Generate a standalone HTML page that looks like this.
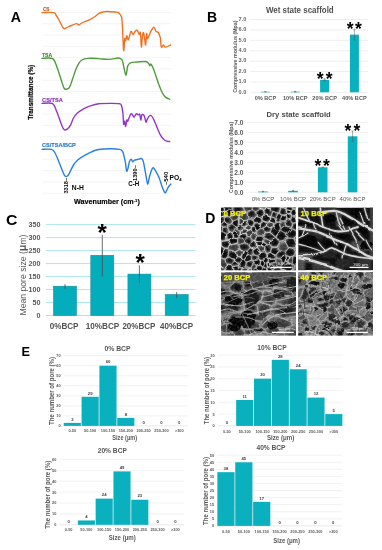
<!DOCTYPE html>
<html><head><meta charset="utf-8"><style>
html,body{margin:0;padding:0;background:#fff;}
svg{display:block;}
</style></head><body>
<svg width="382" height="550" viewBox="0 0 382 550">
<rect width="382" height="550" fill="#fff"/>
<text x="10.8" y="21.8" font-size="14.2" fill="#000" font-weight="bold" text-anchor="start" font-family="Liberation Sans, sans-serif" >A</text>
<line x1="42" y1="12.4" x2="171" y2="12.4" stroke="#ececec" stroke-width="0.6"/>
<line x1="42" y1="23.7" x2="171" y2="23.7" stroke="#ececec" stroke-width="0.6"/>
<line x1="42" y1="35" x2="171" y2="35" stroke="#ececec" stroke-width="0.6"/>
<line x1="42" y1="46.3" x2="171" y2="46.3" stroke="#ececec" stroke-width="0.6"/>
<line x1="42" y1="57.6" x2="171" y2="57.6" stroke="#ececec" stroke-width="0.6"/>
<line x1="42" y1="68.9" x2="171" y2="68.9" stroke="#ececec" stroke-width="0.6"/>
<line x1="42" y1="80.2" x2="171" y2="80.2" stroke="#ececec" stroke-width="0.6"/>
<line x1="42" y1="91.5" x2="171" y2="91.5" stroke="#ececec" stroke-width="0.6"/>
<line x1="42" y1="102.8" x2="171" y2="102.8" stroke="#ececec" stroke-width="0.6"/>
<line x1="42" y1="114.1" x2="171" y2="114.1" stroke="#ececec" stroke-width="0.6"/>
<line x1="42" y1="125.4" x2="171" y2="125.4" stroke="#ececec" stroke-width="0.6"/>
<line x1="42" y1="136.7" x2="171" y2="136.7" stroke="#ececec" stroke-width="0.6"/>
<line x1="42" y1="148" x2="171" y2="148" stroke="#ececec" stroke-width="0.6"/>
<line x1="42" y1="159.3" x2="171" y2="159.3" stroke="#ececec" stroke-width="0.6"/>
<line x1="42" y1="170.6" x2="171" y2="170.6" stroke="#ececec" stroke-width="0.6"/>
<line x1="42" y1="181.9" x2="171" y2="181.9" stroke="#ececec" stroke-width="0.6"/>
<line x1="42" y1="193.2" x2="171" y2="193.2" stroke="#ececec" stroke-width="0.6"/>
<path d="M42,12.6 C43.93,12.6 51.27,12.2 53.6,12.6 C55.93,13 55.1,13.77 56,15 C56.9,16.23 58,18.17 59,20 C60,21.83 61.17,24.55 62,26 C62.83,27.45 63.17,28.45 64,28.7 C64.83,28.95 65.77,28.03 67,27.5 C68.23,26.97 69.8,26.13 71.4,25.5 C73,24.87 75.38,23.77 76.6,23.7 C77.82,23.63 77.97,25.13 78.7,25.1 C79.43,25.07 80.12,24.02 81,23.5 C81.88,22.98 82.45,22.7 84,22 C85.55,21.3 88.47,20.22 90.3,19.3 C92.13,18.38 93.62,17.45 95,16.5 C96.38,15.55 97.27,14.35 98.6,13.6 C99.93,12.85 101.6,12.35 103,12 C104.4,11.65 104.93,11.5 107,11.5 C109.07,11.5 113.5,11.82 115.4,12 C117.3,12.18 117.48,11.98 118.4,12.6 C119.32,13.22 120.28,14.3 120.9,15.7 C121.52,17.1 121.65,15.23 122.1,21 C122.55,26.77 123.17,47.35 123.6,50.3 C124.03,53.25 124.35,40.28 124.7,38.7 C125.05,37.12 125.35,41.32 125.7,40.8 C126.05,40.28 126.35,35.77 126.8,35.6 C127.25,35.43 127.72,40.5 128.4,39.8 C129.08,39.1 130.13,32.27 130.9,31.4 C131.67,30.53 132.3,34.6 133,34.6 C133.7,34.6 134.4,32.1 135.1,31.4 C135.8,30.7 136.5,29.87 137.2,30.4 C137.9,30.93 138.77,34.25 139.3,34.6 C139.83,34.95 140.05,30.42 140.4,32.5 C140.75,34.58 141.05,46.58 141.4,47.1 C141.75,47.62 142.15,38.03 142.5,35.6 C142.85,33.17 143.15,31.98 143.5,32.5 C143.85,33.02 144.25,36.62 144.6,38.7 C144.95,40.78 145.27,45.87 145.6,45 C145.93,44.13 146.25,34.55 146.6,33.5 C146.95,32.45 147,39.05 147.7,38.7 C148.4,38.35 149.75,33.32 150.8,31.4 C151.85,29.48 153.13,27.2 154,27.2 C154.87,27.2 155.3,30.52 156,31.4 C156.7,32.28 157.48,31.45 158.2,32.5 C158.92,33.55 159.78,35.27 160.3,37.7 C160.82,40.13 160.78,45.88 161.3,47.1 C161.82,48.32 162.7,45 163.4,45 C164.1,45 164.28,47.1 165.5,47.1 C166.72,47.1 169.83,45.35 170.7,45" fill="none" stroke="#f07020" stroke-width="1.35" stroke-linejoin="round" stroke-linecap="round" />
<path d="M42,58.4 C43.77,58.43 50.13,57.2 52.6,58.6 C55.07,60 55.4,63.35 56.8,66.8 C58.2,70.25 59.8,75.75 61,79.3 C62.2,82.85 63.13,86.45 64,88.1 C64.87,89.75 65.32,89.27 66.2,89.2 C67.08,89.13 68.25,89.35 69.3,87.7 C70.35,86.05 71.45,82.27 72.5,79.3 C73.55,76.33 74.57,72.52 75.6,69.9 C76.63,67.28 77.65,65.25 78.7,63.6 C79.75,61.95 80.32,60.87 81.9,60 C83.48,59.13 85.42,58.63 88.2,58.4 C90.98,58.17 95.13,58.43 98.6,58.6 C102.07,58.77 105.7,59.5 109,59.4 C112.3,59.3 116.22,57.9 118.4,58 C120.58,58.1 121.13,58.2 122.1,60 C123.07,61.8 123.53,66.28 124.2,68.8 C124.87,71.32 125.5,75.62 126.1,75.1 C126.7,74.58 126.98,67.78 127.8,65.7 C128.62,63.62 129.43,63.22 131,62.6 C132.57,61.98 134.77,62.18 137.2,62 C139.63,61.82 143.68,61.23 145.6,61.5 C147.52,61.77 148,62.9 148.7,63.6 C149.4,64.3 149.45,65.6 149.8,65.7 C150.15,65.8 150.27,63.85 150.8,64.2 C151.33,64.55 152.13,65.8 153,67.8 C153.87,69.8 154.97,73.23 156,76.2 C157.03,79.17 158.13,82.8 159.2,85.6 C160.27,88.4 161.35,91.08 162.4,93 C163.45,94.92 164.28,96.07 165.5,97.1 C166.72,98.13 169,98.85 169.7,99.2" fill="none" stroke="#4f9a3c" stroke-width="1.4" stroke-linejoin="round" stroke-linecap="round" />
<path d="M42,103.4 C43.77,103.43 50.13,102.2 52.6,103.6 C55.07,105 55.4,108.52 56.8,111.8 C58.2,115.08 59.8,120.33 61,123.3 C62.2,126.27 62.97,128.63 64,129.6 C65.03,130.57 66.13,129.8 67.2,129.1 C68.27,128.4 69.35,127.25 70.4,125.4 C71.45,123.55 72.28,120.1 73.5,118 C74.72,115.9 75.95,114.37 77.7,112.8 C79.45,111.23 81.9,109.75 84,108.6 C86.1,107.45 87.87,106.7 90.3,105.9 C92.73,105.1 95.12,104.22 98.6,103.8 C102.08,103.38 107.73,103.4 111.2,103.4 C114.67,103.4 117.68,103.45 119.4,103.8 C121.12,104.15 120.9,103.83 121.5,105.5 C122.1,107.17 122.65,110.67 123,113.8 C123.35,116.93 123.32,123.07 123.6,124.3 C123.88,125.53 124.35,120.85 124.7,121.2 C125.05,121.55 125.35,126.58 125.7,126.4 C126.05,126.22 126.45,120.97 126.8,120.1 C127.15,119.23 127.47,121.47 127.8,121.2 C128.13,120.93 128.27,119.73 128.8,118.5 C129.33,117.27 130.37,114.4 131,113.8 C131.63,113.2 132.08,114.37 132.6,114.9 C133.12,115.43 133.5,117.18 134.1,117 C134.7,116.82 135.5,114.15 136.2,113.8 C136.9,113.45 137.72,114.82 138.3,114.9 C138.88,114.98 139.28,113.43 139.7,114.3 C140.12,115.17 140.45,120 140.8,120.1 C141.15,120.2 141.35,115.77 141.8,114.9 C142.25,114.03 143.03,114.55 143.5,114.9 C143.97,115.25 144.18,115.78 144.6,117 C145.02,118.22 145.55,121.85 146,122.2 C146.45,122.55 146.67,120.22 147.3,119.1 C147.93,117.98 149.03,115.95 149.8,115.5 C150.57,115.05 151.2,115.63 151.9,116.4 C152.6,117.17 153.13,118.25 154,120.1 C154.87,121.95 156.05,125.05 157.1,127.5 C158.15,129.95 159.25,132.88 160.3,134.8 C161.35,136.72 162.37,137.95 163.4,139 C164.43,140.05 165.45,140.68 166.5,141.1 C167.55,141.52 169.17,141.43 169.7,141.5" fill="none" stroke="#9436c6" stroke-width="1.4" stroke-linejoin="round" stroke-linecap="round" />
<path d="M42,149.4 C43.58,149.4 49.33,148.8 51.5,149.4 C53.67,150 53.75,150.9 55,153 C56.25,155.1 57.75,159 59,162 C60.25,165 61.5,168.67 62.5,171 C63.5,173.33 64.17,175.17 65,176 C65.83,176.83 66.67,176.67 67.5,176 C68.33,175.33 69,173.83 70,172 C71,170.17 72.22,167 73.5,165 C74.78,163 75.62,161.72 77.7,160 C79.78,158.28 82.87,156.37 86,154.7 C89.13,153.03 92.67,150.98 96.5,150 C100.33,149.02 105.18,148.9 109,148.8 C112.82,148.7 117.13,148.95 119.4,149.4 C121.67,149.85 121.8,150.27 122.6,151.5 C123.4,152.73 123.68,154.7 124.2,156.8 C124.72,158.9 125.3,161.7 125.7,164.1 C126.1,166.5 126.22,170.5 126.6,171.2 C126.98,171.9 127.52,169.92 128,168.3 C128.48,166.68 128.97,163 129.5,161.5 C130.03,160 130.65,159.23 131.2,159.3 C131.75,159.37 132.25,161.75 132.8,161.9 C133.35,162.05 133.73,160.6 134.5,160.2 C135.27,159.8 136.28,159.78 137.4,159.5 C138.52,159.22 140.27,158.35 141.2,158.5 C142.13,158.65 142.42,158.77 143,160.4 C143.58,162.03 144.1,165.15 144.7,168.3 C145.3,171.45 146.07,176.68 146.6,179.3 C147.13,181.92 147.45,184.3 147.9,184 C148.35,183.7 148.75,179.65 149.3,177.5 C149.85,175.35 150.65,172.68 151.2,171.1 C151.75,169.52 152.15,168.47 152.6,168 C153.05,167.53 153.22,167.48 153.9,168.3 C154.58,169.12 155.78,171.22 156.7,172.9 C157.62,174.58 158.5,176.1 159.4,178.4 C160.3,180.7 161.17,184.3 162.1,186.7 C163.03,189.1 164.23,192.2 165,192.8 C165.77,193.4 166.1,191.32 166.7,190.3 C167.3,189.28 167.92,187.75 168.6,186.7 C169.28,185.65 170.43,184.45 170.8,184" fill="none" stroke="#2a80dc" stroke-width="1.4" stroke-linejoin="round" stroke-linecap="round" />
<text x="42.9" y="11" font-size="5.9" fill="#c55a11" font-weight="bold" text-anchor="start" font-family="Liberation Sans, sans-serif" textLength="6.6" lengthAdjust="spacingAndGlyphs" stroke="#c55a11" stroke-width="0.15">CS</text>
<text x="42" y="56.6" font-size="5.9" fill="#3e8a2e" font-weight="bold" text-anchor="start" font-family="Liberation Sans, sans-serif" textLength="10.2" lengthAdjust="spacingAndGlyphs" stroke="#3e8a2e" stroke-width="0.15">TSA</text>
<text x="42.1" y="102.3" font-size="5.9" fill="#7f2fb0" font-weight="bold" text-anchor="start" font-family="Liberation Sans, sans-serif" textLength="20.6" lengthAdjust="spacingAndGlyphs" stroke="#7f2fb0" stroke-width="0.15">CS/TSA</text>
<text x="42" y="147.4" font-size="6.2" fill="#2a78c9" font-weight="bold" text-anchor="start" font-family="Liberation Sans, sans-serif" textLength="33.8" lengthAdjust="spacingAndGlyphs" stroke="#2a78c9" stroke-width="0.15">CS/TSA/BCP</text>
<text x="33" y="92.3" font-size="7.2" fill="#000" font-weight="bold" text-anchor="middle" font-family="Liberation Sans, sans-serif" textLength="55" lengthAdjust="spacingAndGlyphs" transform="rotate(-90 33 92.3)" stroke="#000" stroke-width="0.2">Transmittance (%)</text>
<text x="74" y="204.4" font-size="7.2" fill="#000" font-weight="bold" text-anchor="start" font-family="Liberation Sans, sans-serif" stroke="#000" stroke-width="0.15">Wavenumber (cm<tspan font-size="4.2" dy="-2.5">-1</tspan><tspan dy="2.5">)</tspan></text>
<text x="67.8" y="193.6" font-size="5.2" fill="#000" font-weight="bold" text-anchor="start" font-family="Liberation Sans, sans-serif" textLength="15.7" lengthAdjust="spacingAndGlyphs" transform="rotate(-90 67.8 193.6)" >3318–</text>
<text x="71.8" y="190" font-size="6.6" fill="#000" font-weight="bold" text-anchor="start" font-family="Liberation Sans, sans-serif" textLength="12" lengthAdjust="spacingAndGlyphs" >N-H</text>
<text x="137.1" y="180.9" font-size="5.2" fill="#000" font-weight="bold" text-anchor="start" font-family="Liberation Sans, sans-serif" textLength="15.7" lengthAdjust="spacingAndGlyphs" transform="rotate(-90 137.1 180.9)" >1390–</text>
<text x="128.2" y="185.9" font-size="6.3" fill="#000" font-weight="bold" text-anchor="start" font-family="Liberation Sans, sans-serif" textLength="11" lengthAdjust="spacingAndGlyphs" >C-H</text>
<text x="167.8" y="185" font-size="5.2" fill="#000" font-weight="bold" text-anchor="start" font-family="Liberation Sans, sans-serif" textLength="13.2" lengthAdjust="spacingAndGlyphs" transform="rotate(-90 167.8 185)" >–540</text>
<text x="169.6" y="179.8" font-size="6.7" fill="#000" font-weight="bold" text-anchor="start" font-family="Liberation Sans, sans-serif" >PO<tspan font-size="4.2" dy="1.4">4</tspan></text>
<text x="207" y="21.6" font-size="14.0" fill="#000" font-weight="bold" text-anchor="start" font-family="Liberation Sans, sans-serif" >B</text>
<line x1="250" y1="92.3" x2="368.3" y2="92.3" stroke="#e2e2e2" stroke-width="0.6"/>
<text x="246.4" y="93.64" font-size="5.6" fill="#666" font-weight="bold" text-anchor="end" font-family="Liberation Sans, sans-serif" >0.0</text>
<line x1="250" y1="81.91" x2="368.3" y2="81.91" stroke="#e2e2e2" stroke-width="0.6"/>
<text x="246.4" y="83.25" font-size="5.6" fill="#666" font-weight="bold" text-anchor="end" font-family="Liberation Sans, sans-serif" >1.0</text>
<line x1="250" y1="71.52" x2="368.3" y2="71.52" stroke="#e2e2e2" stroke-width="0.6"/>
<text x="246.4" y="72.86" font-size="5.6" fill="#666" font-weight="bold" text-anchor="end" font-family="Liberation Sans, sans-serif" >2.0</text>
<line x1="250" y1="61.13" x2="368.3" y2="61.13" stroke="#e2e2e2" stroke-width="0.6"/>
<text x="246.4" y="62.47" font-size="5.6" fill="#666" font-weight="bold" text-anchor="end" font-family="Liberation Sans, sans-serif" >3.0</text>
<line x1="250" y1="50.74" x2="368.3" y2="50.74" stroke="#e2e2e2" stroke-width="0.6"/>
<text x="246.4" y="52.08" font-size="5.6" fill="#666" font-weight="bold" text-anchor="end" font-family="Liberation Sans, sans-serif" >4.0</text>
<line x1="250" y1="40.35" x2="368.3" y2="40.35" stroke="#e2e2e2" stroke-width="0.6"/>
<text x="246.4" y="41.69" font-size="5.6" fill="#666" font-weight="bold" text-anchor="end" font-family="Liberation Sans, sans-serif" >5.0</text>
<line x1="250" y1="29.96" x2="368.3" y2="29.96" stroke="#e2e2e2" stroke-width="0.6"/>
<text x="246.4" y="31.3" font-size="5.6" fill="#666" font-weight="bold" text-anchor="end" font-family="Liberation Sans, sans-serif" >6.0</text>
<line x1="250" y1="19.57" x2="368.3" y2="19.57" stroke="#e2e2e2" stroke-width="0.6"/>
<text x="246.4" y="20.91" font-size="5.6" fill="#666" font-weight="bold" text-anchor="end" font-family="Liberation Sans, sans-serif" >7.0</text>
<rect x="260.9" y="91.78" width="9" height="0.52" fill="#0bb0bf" />
<line x1="265.4" y1="91.57" x2="265.4" y2="91.99" stroke="#555" stroke-width="0.5"/>
<line x1="264.4" y1="91.57" x2="266.4" y2="91.57" stroke="#555" stroke-width="0.5"/>
<line x1="264.4" y1="91.99" x2="266.4" y2="91.99" stroke="#555" stroke-width="0.5"/>
<rect x="290.7" y="91.68" width="9" height="0.62" fill="#0bb0bf" />
<line x1="295.2" y1="91.36" x2="295.2" y2="91.99" stroke="#555" stroke-width="0.5"/>
<line x1="294.2" y1="91.36" x2="296.2" y2="91.36" stroke="#555" stroke-width="0.5"/>
<line x1="294.2" y1="91.99" x2="296.2" y2="91.99" stroke="#555" stroke-width="0.5"/>
<rect x="320.1" y="79.83" width="9" height="12.47" fill="#0bb0bf" />
<line x1="324.6" y1="78.79" x2="324.6" y2="80.87" stroke="#555" stroke-width="0.5"/>
<line x1="323.6" y1="78.79" x2="325.6" y2="78.79" stroke="#555" stroke-width="0.5"/>
<line x1="323.6" y1="80.87" x2="325.6" y2="80.87" stroke="#555" stroke-width="0.5"/>
<rect x="349.9" y="34.64" width="9" height="57.66" fill="#0bb0bf" />
<line x1="354.4" y1="29.44" x2="354.4" y2="39.83" stroke="#555" stroke-width="0.5"/>
<line x1="353.4" y1="29.44" x2="355.4" y2="29.44" stroke="#555" stroke-width="0.5"/>
<line x1="353.4" y1="39.83" x2="355.4" y2="39.83" stroke="#555" stroke-width="0.5"/>
<text x="299.8" y="13.3" font-size="8.6" fill="#505050" font-weight="bold" text-anchor="middle" font-family="Liberation Sans, sans-serif" textLength="67.8" lengthAdjust="spacingAndGlyphs" >Wet state scaffold</text>
<text x="237.4" y="56.6" font-size="5.6" fill="#595959" font-weight="bold" text-anchor="middle" font-family="Liberation Sans, sans-serif" textLength="72.2" lengthAdjust="spacingAndGlyphs" transform="rotate(-90 237.4 56.6)" >Compressive modulus (Mpa)</text>
<text x="320.1" y="84.55" font-size="17.5" fill="#000" font-weight="bold" text-anchor="middle" font-family="Liberation Sans, sans-serif" >*</text>
<text x="329.2" y="84.55" font-size="17.5" fill="#000" font-weight="bold" text-anchor="middle" font-family="Liberation Sans, sans-serif" >*</text>
<text x="350.1" y="34.85" font-size="17.5" fill="#000" font-weight="bold" text-anchor="middle" font-family="Liberation Sans, sans-serif" >*</text>
<text x="358.5" y="34.85" font-size="17.5" fill="#000" font-weight="bold" text-anchor="middle" font-family="Liberation Sans, sans-serif" >*</text>
<text x="265.4" y="100.2" font-size="5.6" fill="#595959" font-weight="bold" text-anchor="middle" font-family="Liberation Sans, sans-serif" >0% BCP</text>
<text x="295.2" y="100.2" font-size="5.6" fill="#595959" font-weight="bold" text-anchor="middle" font-family="Liberation Sans, sans-serif" >10% BCP</text>
<text x="324.6" y="100.2" font-size="5.6" fill="#595959" font-weight="bold" text-anchor="middle" font-family="Liberation Sans, sans-serif" >20% BCP</text>
<text x="354.4" y="100.2" font-size="5.6" fill="#595959" font-weight="bold" text-anchor="middle" font-family="Liberation Sans, sans-serif" >40% BCP</text>
<line x1="247" y1="192.3" x2="367.9" y2="192.3" stroke="#e2e2e2" stroke-width="0.6"/>
<text x="243.4" y="194.68" font-size="6.6" fill="#595959" font-weight="bold" text-anchor="end" font-family="Liberation Sans, sans-serif" >0.0</text>
<line x1="247" y1="182.3" x2="367.9" y2="182.3" stroke="#e2e2e2" stroke-width="0.6"/>
<text x="243.4" y="184.68" font-size="6.6" fill="#595959" font-weight="bold" text-anchor="end" font-family="Liberation Sans, sans-serif" >1.0</text>
<line x1="247" y1="172.3" x2="367.9" y2="172.3" stroke="#e2e2e2" stroke-width="0.6"/>
<text x="243.4" y="174.68" font-size="6.6" fill="#595959" font-weight="bold" text-anchor="end" font-family="Liberation Sans, sans-serif" >2.0</text>
<line x1="247" y1="162.3" x2="367.9" y2="162.3" stroke="#e2e2e2" stroke-width="0.6"/>
<text x="243.4" y="164.68" font-size="6.6" fill="#595959" font-weight="bold" text-anchor="end" font-family="Liberation Sans, sans-serif" >3.0</text>
<line x1="247" y1="152.3" x2="367.9" y2="152.3" stroke="#e2e2e2" stroke-width="0.6"/>
<text x="243.4" y="154.68" font-size="6.6" fill="#595959" font-weight="bold" text-anchor="end" font-family="Liberation Sans, sans-serif" >4.0</text>
<line x1="247" y1="142.3" x2="367.9" y2="142.3" stroke="#e2e2e2" stroke-width="0.6"/>
<text x="243.4" y="144.68" font-size="6.6" fill="#595959" font-weight="bold" text-anchor="end" font-family="Liberation Sans, sans-serif" >5.0</text>
<line x1="247" y1="132.3" x2="367.9" y2="132.3" stroke="#e2e2e2" stroke-width="0.6"/>
<text x="243.4" y="134.68" font-size="6.6" fill="#595959" font-weight="bold" text-anchor="end" font-family="Liberation Sans, sans-serif" >6.0</text>
<line x1="247" y1="122.3" x2="367.9" y2="122.3" stroke="#e2e2e2" stroke-width="0.6"/>
<text x="243.4" y="124.68" font-size="6.6" fill="#595959" font-weight="bold" text-anchor="end" font-family="Liberation Sans, sans-serif" >7.0</text>
<rect x="258.2" y="191.5" width="9.6" height="0.8" fill="#0bb0bf" />
<line x1="263" y1="191.2" x2="263" y2="191.8" stroke="#555" stroke-width="0.5"/>
<line x1="262" y1="191.2" x2="264" y2="191.2" stroke="#555" stroke-width="0.5"/>
<line x1="262" y1="191.8" x2="264" y2="191.8" stroke="#555" stroke-width="0.5"/>
<rect x="288.2" y="190.8" width="9.6" height="1.5" fill="#0bb0bf" />
<line x1="293" y1="190.4" x2="293" y2="191.2" stroke="#555" stroke-width="0.5"/>
<line x1="292" y1="190.4" x2="294" y2="190.4" stroke="#555" stroke-width="0.5"/>
<line x1="292" y1="191.2" x2="294" y2="191.2" stroke="#555" stroke-width="0.5"/>
<rect x="317.9" y="167.3" width="9.6" height="25" fill="#0bb0bf" />
<line x1="322.7" y1="167" x2="322.7" y2="167.6" stroke="#555" stroke-width="0.5"/>
<line x1="321.7" y1="167" x2="323.7" y2="167" stroke="#555" stroke-width="0.5"/>
<line x1="321.7" y1="167.6" x2="323.7" y2="167.6" stroke="#555" stroke-width="0.5"/>
<rect x="347.8" y="136.3" width="9.6" height="56" fill="#0bb0bf" />
<line x1="352.6" y1="131.1" x2="352.6" y2="141.5" stroke="#555" stroke-width="0.5"/>
<line x1="351.6" y1="131.1" x2="353.6" y2="131.1" stroke="#555" stroke-width="0.5"/>
<line x1="351.6" y1="141.5" x2="353.6" y2="141.5" stroke="#555" stroke-width="0.5"/>
<text x="298.7" y="117.4" font-size="8.0" fill="#4a4a4a" font-weight="bold" text-anchor="middle" font-family="Liberation Sans, sans-serif" textLength="64.2" lengthAdjust="spacingAndGlyphs" >Dry state scaffold</text>
<text x="233.3" y="157.4" font-size="5.8" fill="#595959" font-weight="bold" text-anchor="middle" font-family="Liberation Sans, sans-serif" textLength="71.2" lengthAdjust="spacingAndGlyphs" transform="rotate(-90 233.3 157.4)" >Compressive modulus (Mpa)</text>
<text x="318" y="172.15" font-size="17.5" fill="#000" font-weight="bold" text-anchor="middle" font-family="Liberation Sans, sans-serif" >*</text>
<text x="326.5" y="172.15" font-size="17.5" fill="#000" font-weight="bold" text-anchor="middle" font-family="Liberation Sans, sans-serif" >*</text>
<text x="347.9" y="137.15" font-size="17.5" fill="#000" font-weight="bold" text-anchor="middle" font-family="Liberation Sans, sans-serif" >*</text>
<text x="356.8" y="137.15" font-size="17.5" fill="#000" font-weight="bold" text-anchor="middle" font-family="Liberation Sans, sans-serif" >*</text>
<text x="263" y="200.8" font-size="6.0" fill="#595959" font-weight="normal" text-anchor="middle" font-family="Liberation Sans, sans-serif" >0% BCP</text>
<text x="293" y="200.8" font-size="6.0" fill="#595959" font-weight="normal" text-anchor="middle" font-family="Liberation Sans, sans-serif" >10% BCP</text>
<text x="322.7" y="200.8" font-size="6.0" fill="#595959" font-weight="normal" text-anchor="middle" font-family="Liberation Sans, sans-serif" >20% BCP</text>
<text x="352.6" y="200.8" font-size="6.0" fill="#595959" font-weight="normal" text-anchor="middle" font-family="Liberation Sans, sans-serif" >40% BCP</text>
<text x="5.9" y="224.7" font-size="13.8" fill="#000" font-weight="bold" text-anchor="start" font-family="Liberation Sans, sans-serif" textLength="11.4" lengthAdjust="spacingAndGlyphs" >C</text>
<line x1="45.8" y1="302.51" x2="195.5" y2="302.51" stroke="#a6e3ea" stroke-width="0.9"/>
<line x1="45.8" y1="289.52" x2="195.5" y2="289.52" stroke="#a6e3ea" stroke-width="0.9"/>
<line x1="45.8" y1="276.53" x2="195.5" y2="276.53" stroke="#a6e3ea" stroke-width="0.9"/>
<line x1="45.8" y1="263.54" x2="195.5" y2="263.54" stroke="#a6e3ea" stroke-width="0.9"/>
<line x1="45.8" y1="250.55" x2="195.5" y2="250.55" stroke="#a6e3ea" stroke-width="0.9"/>
<line x1="45.8" y1="237.56" x2="195.5" y2="237.56" stroke="#a6e3ea" stroke-width="0.9"/>
<line x1="45.8" y1="224.57" x2="195.5" y2="224.57" stroke="#a6e3ea" stroke-width="0.9"/>
<line x1="45.8" y1="315.5" x2="195.5" y2="315.5" stroke="#d0d0d0" stroke-width="0.9"/>
<text x="40.4" y="318.1" font-size="7.2" fill="#595959" font-weight="bold" text-anchor="end" font-family="Liberation Sans, sans-serif" >0</text>
<text x="40.4" y="305.11" font-size="7.2" fill="#595959" font-weight="bold" text-anchor="end" font-family="Liberation Sans, sans-serif" >50</text>
<text x="40.4" y="292.12" font-size="7.2" fill="#595959" font-weight="bold" text-anchor="end" font-family="Liberation Sans, sans-serif" >100</text>
<text x="40.4" y="279.13" font-size="7.2" fill="#595959" font-weight="bold" text-anchor="end" font-family="Liberation Sans, sans-serif" >150</text>
<text x="40.4" y="266.14" font-size="7.2" fill="#595959" font-weight="bold" text-anchor="end" font-family="Liberation Sans, sans-serif" >200</text>
<text x="40.4" y="253.15" font-size="7.2" fill="#595959" font-weight="bold" text-anchor="end" font-family="Liberation Sans, sans-serif" >250</text>
<text x="40.4" y="240.16" font-size="7.2" fill="#595959" font-weight="bold" text-anchor="end" font-family="Liberation Sans, sans-serif" >300</text>
<text x="40.4" y="227.17" font-size="7.2" fill="#595959" font-weight="bold" text-anchor="end" font-family="Liberation Sans, sans-serif" >350</text>
<text x="26.3" y="275" font-size="8.4" fill="#595959" font-weight="normal" text-anchor="middle" font-family="Liberation Sans, sans-serif" textLength="81" lengthAdjust="spacingAndGlyphs" transform="rotate(-90 26.3 275)" >Mean pore size (<tspan font-weight="bold" font-size="10.5">μ</tspan>m)</text>
<rect x="53.5" y="286.19" width="23" height="29.31" fill="#04adbc" stroke="#178f9a" stroke-width="0.6"/>
<line x1="65" y1="284.1" x2="65" y2="288.8" stroke="#4a4a4a" stroke-width="0.8"/>
<rect x="90.8" y="255.3" width="23" height="60.2" fill="#04adbc" stroke="#178f9a" stroke-width="0.6"/>
<line x1="102.3" y1="234.8" x2="102.3" y2="276.6" stroke="#4a4a4a" stroke-width="0.8"/>
<rect x="127.9" y="274.11" width="23" height="41.39" fill="#04adbc" stroke="#178f9a" stroke-width="0.6"/>
<line x1="139.4" y1="265.3" x2="139.4" y2="282.9" stroke="#4a4a4a" stroke-width="0.8"/>
<rect x="165.2" y="294.51" width="23" height="20.99" fill="#04adbc" stroke="#178f9a" stroke-width="0.6"/>
<line x1="176.7" y1="292" x2="176.7" y2="298" stroke="#4a4a4a" stroke-width="0.8"/>
<text x="102.1" y="240.9" font-size="24" fill="#000" font-weight="bold" text-anchor="middle" font-family="Liberation Sans, sans-serif" >*</text>
<text x="140.2" y="271.3" font-size="24" fill="#000" font-weight="bold" text-anchor="middle" font-family="Liberation Sans, sans-serif" >*</text>
<text x="64.1" y="329.4" font-size="8.6" fill="#505050" font-weight="bold" text-anchor="middle" font-family="Liberation Sans, sans-serif" textLength="28.8" lengthAdjust="spacingAndGlyphs" >0%BCP</text>
<text x="102.5" y="329.4" font-size="8.6" fill="#505050" font-weight="bold" text-anchor="middle" font-family="Liberation Sans, sans-serif" textLength="33.6" lengthAdjust="spacingAndGlyphs" >10%BCP</text>
<text x="138.9" y="329.4" font-size="8.6" fill="#505050" font-weight="bold" text-anchor="middle" font-family="Liberation Sans, sans-serif" textLength="33" lengthAdjust="spacingAndGlyphs" >20%BCP</text>
<text x="176.6" y="329.4" font-size="8.6" fill="#505050" font-weight="bold" text-anchor="middle" font-family="Liberation Sans, sans-serif" textLength="33" lengthAdjust="spacingAndGlyphs" >40%BCP</text>
<text x="205.3" y="222.9" font-size="14.0" fill="#000" font-weight="bold" text-anchor="start" font-family="Liberation Sans, sans-serif" >D</text>
<defs>
<clipPath id="clip_tl"><rect x="221" y="207.5" width="75" height="62.8"/></clipPath>
<clipPath id="clip_tr"><rect x="298.2" y="207.5" width="74.8" height="62.8"/></clipPath>
<clipPath id="clip_bl"><rect x="221" y="272.3" width="75" height="63.2"/></clipPath>
<clipPath id="clip_br"><rect x="298.2" y="272.3" width="74.8" height="63.2"/></clipPath>
<filter id="b03" x="-5%" y="-5%" width="110%" height="110%"><feGaussianBlur stdDeviation="0.3"/></filter>
<filter id="b05" x="-10%" y="-10%" width="120%" height="120%"><feGaussianBlur stdDeviation="0.5"/></filter>
<filter id="b10" x="-30%" y="-30%" width="160%" height="160%"><feGaussianBlur stdDeviation="1.0"/></filter>
<filter id="b20" x="-50%" y="-50%" width="200%" height="200%"><feGaussianBlur stdDeviation="2.0"/></filter>
<filter id="noiseD" x="0" y="0" width="100%" height="100%" color-interpolation-filters="sRGB"><feTurbulence type="fractalNoise" baseFrequency="0.45" numOctaves="2" seed="4"/><feColorMatrix type="matrix" values="0 0 0 0 0  0 0 0 0 0  0 0 0 0 0  1.6 0 0 0 -0.75" /></filter>
<filter id="noiseL" x="0" y="0" width="100%" height="100%" color-interpolation-filters="sRGB"><feTurbulence type="fractalNoise" baseFrequency="0.45" numOctaves="2" seed="11"/><feColorMatrix type="matrix" values="0 0 0 0 1  0 0 0 0 1  0 0 0 0 1  1.6 0 0 0 -0.75" /></filter>
<filter id="warpA" x="-5%" y="-5%" width="110%" height="110%" color-interpolation-filters="sRGB"><feTurbulence type="fractalNoise" baseFrequency="0.09" numOctaves="2" seed="3" result="n"/><feDisplacementMap in="SourceGraphic" in2="n" scale="4" xChannelSelector="R" yChannelSelector="G" result="d"/><feGaussianBlur in="d" stdDeviation="0.3"/></filter>
<filter id="warpB" x="-5%" y="-5%" width="110%" height="110%" color-interpolation-filters="sRGB"><feTurbulence type="fractalNoise" baseFrequency="0.05" numOctaves="2" seed="8" result="n"/><feDisplacementMap in="SourceGraphic" in2="n" scale="3" xChannelSelector="R" yChannelSelector="G" result="d"/><feGaussianBlur in="d" stdDeviation="0.3"/></filter>
<filter id="warpC" x="-5%" y="-5%" width="110%" height="110%" color-interpolation-filters="sRGB"><feTurbulence type="fractalNoise" baseFrequency="0.08" numOctaves="2" seed="5" result="n"/><feDisplacementMap in="SourceGraphic" in2="n" scale="6" xChannelSelector="R" yChannelSelector="G" result="d"/><feGaussianBlur in="d" stdDeviation="0.3"/></filter>
<filter id="warpD" x="-5%" y="-5%" width="110%" height="110%" color-interpolation-filters="sRGB"><feTurbulence type="fractalNoise" baseFrequency="0.1" numOctaves="2" seed="12" result="n"/><feDisplacementMap in="SourceGraphic" in2="n" scale="5" xChannelSelector="R" yChannelSelector="G" result="d"/><feGaussianBlur in="d" stdDeviation="0.3"/></filter>
<filter id="pore" x="-20%" y="-20%" width="140%" height="140%" color-interpolation-filters="sRGB"><feTurbulence type="fractalNoise" baseFrequency="0.15" numOctaves="1" seed="17" result="n"/><feDisplacementMap in="SourceGraphic" in2="n" scale="5" xChannelSelector="R" yChannelSelector="G" result="d"/><feGaussianBlur in="d" stdDeviation="0.6"/></filter>
<radialGradient id="rgA" cx="0.5" cy="0.5" r="0.6"><stop offset="0" stop-color="#050505"/><stop offset="0.45" stop-color="#151515"/><stop offset="0.8" stop-color="#5a5a5a"/><stop offset="1" stop-color="#9a9a9a"/></radialGradient>
<radialGradient id="rgB" cx="0.45" cy="0.45" r="0.6"><stop offset="0" stop-color="#0a0a0a"/><stop offset="0.3" stop-color="#1a1a1a"/><stop offset="0.75" stop-color="#6a6a6a"/><stop offset="1" stop-color="#a8a8a8"/></radialGradient>
<radialGradient id="rgC" cx="0.55" cy="0.55" r="0.6"><stop offset="0" stop-color="#303030"/><stop offset="0.5" stop-color="#4a4a4a"/><stop offset="1" stop-color="#909090"/></radialGradient>
</defs>
<g clip-path="url(#clip_tl)">
<rect x="221" y="207.5" width="75" height="62.8" fill="#333" />
<g filter="url(#warpA)">
<polygon points="231.7,224.54 232.85,220.9 230.61,216.57 224.83,216.59 223.9,221.31 230.02,224.7" fill="url(#rgB)" stroke="rgb(231,231,231)" stroke-width="0.8" stroke-linejoin="round"/>
<polygon points="232.7,208.07 233.39,211.13 230.59,216.7 224.81,216.67 224.86,215.59 224.05,213.71" fill="url(#rgA)" stroke="rgb(207,207,207)" stroke-width="0.77" stroke-linejoin="round"/>
<polygon points="300,205.47 296.38,198.99 297.41,188.67 297.64,187.68 309.11,186.52 320.87,192.46 308.47,205.1" fill="url(#rgB)" stroke="rgb(220,220,220)" stroke-width="0.62" stroke-linejoin="round"/>
<polygon points="253.73,222.57 252.84,220.36 256.63,216.04 261.67,218.48 261.38,220.68 260.73,222.78" fill="url(#rgA)" stroke="rgb(193,193,193)" stroke-width="0.6" stroke-linejoin="round"/>
<polygon points="274.67,223.73 269.06,221.56 267.69,222.57 266.9,225.47 270.41,227.87 274.67,226.79" fill="url(#rgC)" stroke="rgb(218,218,218)" stroke-width="0.81" stroke-linejoin="round"/>
<polygon points="285.9,242.02 288.37,248.02 284.7,251.91 279.3,250.86 278.21,247.5 280.12,242.48" fill="url(#rgC)" stroke="rgb(176,176,176)" stroke-width="0.77" stroke-linejoin="round"/>
<polygon points="253.85,263.46 255.78,265.47 260.2,263.85 260.68,259 258.98,258.4 252.68,262.4" fill="url(#rgA)" stroke="rgb(227,227,227)" stroke-width="0.61" stroke-linejoin="round"/>
<polygon points="239.1,244.94 239.17,249.2 234.95,251.87 229.74,250.64 228.29,249.53 230.84,244.74 236.79,243.46" fill="url(#rgC)" stroke="rgb(176,176,176)" stroke-width="0.77" stroke-linejoin="round"/>
<polygon points="232.51,208.4 223.74,213.35 224.11,213.33 224.52,207.52 229.93,203.81 232.36,206.91" fill="url(#rgA)" stroke="rgb(175,175,175)" stroke-width="0.73" stroke-linejoin="round"/>
<polygon points="206.44,271.12 206.66,271.12 204.58,287.41 221.15,289.69 222.08,288.2 223.14,286.74 221.7,273.87 213.38,271.14" fill="url(#rgA)" stroke="rgb(215,215,215)" stroke-width="0.61" stroke-linejoin="round"/>
<polygon points="280.66,258.95 285.89,254.43 285.29,252.61 279.92,250.91 275.67,255.7 275.94,257.9" fill="url(#rgB)" stroke="rgb(173,173,173)" stroke-width="0.67" stroke-linejoin="round"/>
<polygon points="255.6,240.52 257.8,234.18 255.86,232.83 251.88,233.66 250.22,237.25 252.22,240.63 255.76,241.38" fill="url(#rgC)" stroke="rgb(213,213,213)" stroke-width="0.74" stroke-linejoin="round"/>
<polygon points="224.77,249.53 219.95,257.77 226.03,259.15 228.56,256.72 230.42,251.12 229.11,249.37" fill="url(#rgA)" stroke="rgb(170,170,170)" stroke-width="0.81" stroke-linejoin="round"/>
<polygon points="288.05,237.1 293.41,237.64 296.32,244.35 293.28,248.24 288.42,247.42 285.22,241.58" fill="url(#rgA)" stroke="rgb(234,234,234)" stroke-width="0.65" stroke-linejoin="round"/>
<polygon points="232.74,208.16 233.07,211.4 239.39,214.73 245.12,211.26 240.35,203.64 231.94,206.59" fill="url(#rgB)" stroke="rgb(205,205,205)" stroke-width="0.7" stroke-linejoin="round"/>
<polygon points="253.76,254.31 250.77,256.07 247.53,255.33 245.66,251.54 249.08,247.7 252.75,249.47" fill="url(#rgB)" stroke="rgb(181,181,181)" stroke-width="0.66" stroke-linejoin="round"/>
<polygon points="275.24,260.86 274.72,258.62 269.72,259.28 269.17,262.06 270.79,264.15 271.38,263.76" fill="url(#rgA)" stroke="rgb(203,203,203)" stroke-width="0.68" stroke-linejoin="round"/>
<polygon points="271.95,210.62 270.01,217.27 269.08,216.65 263.98,214.69 263.63,210.03 268.2,206.79 270.68,206.96" fill="url(#rgB)" stroke="rgb(228,228,228)" stroke-width="0.84" stroke-linejoin="round"/>
<polygon points="277.48,201.26 267.11,189.72 261.57,194.05 267.66,207.15 271.09,207.65" fill="url(#rgA)" stroke="rgb(230,230,230)" stroke-width="0.83" stroke-linejoin="round"/>
<polygon points="232.8,275.56 235.68,276.76 236.64,280.75 222.45,288.01 222.67,286.51 227.82,277.62" fill="url(#rgA)" stroke="rgb(171,171,171)" stroke-width="0.64" stroke-linejoin="round"/>
<polygon points="241.75,267.95 239.47,266.67 236.09,270.47 237.37,273.83 241.68,272.75" fill="url(#rgB)" stroke="rgb(195,195,195)" stroke-width="0.62" stroke-linejoin="round"/>
<polygon points="226.92,263.54 225.57,260.08 229.05,256.81 234.61,259.18 234.84,260.9 231.34,265.13" fill="url(#rgB)" stroke="rgb(231,231,231)" stroke-width="0.71" stroke-linejoin="round"/>
<polygon points="246.42,262.86 243.68,259.63 243.23,259.62 237.91,263.73 238.51,266.3 238.78,266.52 242.64,268.31 245.7,267.09" fill="url(#rgA)" stroke="rgb(181,181,181)" stroke-width="0.71" stroke-linejoin="round"/>
<polygon points="224.55,207.77 219.59,206.31 216.66,210.18 224.07,212.45" fill="url(#rgA)" stroke="rgb(204,204,204)" stroke-width="0.74" stroke-linejoin="round"/>
<polygon points="224.14,268.57 220.49,266.38 218.89,261.94 219.52,257.73 220.25,257.85 225.67,259.06 227.59,264.28" fill="url(#rgC)" stroke="rgb(204,204,204)" stroke-width="0.92" stroke-linejoin="round"/>
<polygon points="228.18,227.71 221.88,228.49 221.95,231.62 227.21,234.09 229.66,232.11" fill="url(#rgB)" stroke="rgb(204,204,204)" stroke-width="0.68" stroke-linejoin="round"/>
<polygon points="230.88,271.08 232.78,269.98 232.64,266.64 231.46,264.53 227.03,264.27 224.61,268.1 224.68,269.7 227.13,270.39" fill="url(#rgA)" stroke="rgb(212,212,212)" stroke-width="0.79" stroke-linejoin="round"/>
<polygon points="277.95,212.86 271.84,211.52 270.2,207.85 276.46,201.6 276.98,201.79 280.43,208.89 279.02,213.35" fill="url(#rgA)" stroke="rgb(207,207,207)" stroke-width="0.82" stroke-linejoin="round"/>
<polygon points="282.86,264.77 286.52,263.17 286.13,254.95 284.82,255.22 280.26,259.55" fill="url(#rgA)" stroke="rgb(222,222,222)" stroke-width="0.75" stroke-linejoin="round"/>
<polygon points="213.14,244.15 204.89,248.75 201.13,243.48 209.87,234.45 214.89,241.72" fill="url(#rgC)" stroke="rgb(200,200,200)" stroke-width="0.89" stroke-linejoin="round"/>
<polygon points="266.67,262.68 265.02,262.79 263.71,259.19 266.94,256.69 269.4,259.21 268.98,261.9" fill="url(#rgA)" stroke="rgb(174,174,174)" stroke-width="0.83" stroke-linejoin="round"/>
<polygon points="279.74,231.19 273.76,226.29 270.48,228.04 270.05,231.95 274.95,236.56 275.29,237.15" fill="url(#rgA)" stroke="rgb(203,203,203)" stroke-width="0.97" stroke-linejoin="round"/>
<polygon points="238.73,225.78 238.61,219.31 238.44,218.49 233.05,221.13 231.61,224.4 236.36,227.91 236.45,226.91" fill="url(#rgA)" stroke="rgb(204,204,204)" stroke-width="0.64" stroke-linejoin="round"/>
<polygon points="289.86,257 285.96,255.32 286.89,263.14 287.92,262.99" fill="url(#rgB)" stroke="rgb(204,204,204)" stroke-width="0.75" stroke-linejoin="round"/>
<polygon points="296.55,221.58 292.47,222.09 291.53,227.15 291.87,228.32 296.86,229.85 300.8,225.46 298.83,221.47" fill="url(#rgB)" stroke="rgb(225,225,225)" stroke-width="0.85" stroke-linejoin="round"/>
<polygon points="303.69,260.54 308.74,266.02 307.55,275.48 293,266.54 293.62,266.15 298.25,260.55" fill="url(#rgA)" stroke="rgb(177,177,177)" stroke-width="0.7" stroke-linejoin="round"/>
<polygon points="246.72,211.59 247.84,218.03 253.37,219.63 256.64,216.42 256.16,210.91 250.59,209.67" fill="url(#rgB)" stroke="rgb(224,224,224)" stroke-width="0.63" stroke-linejoin="round"/>
<polygon points="319.69,226.67 326.2,242.44 321.07,246.52 309.17,239.12 307.07,231.51 308.95,229.07" fill="url(#rgC)" stroke="rgb(197,197,197)" stroke-width="0.88" stroke-linejoin="round"/>
<polygon points="246.41,210.75 245.52,210.29 240.58,203.39 244.2,189.67 254.26,194.56 251.01,208.9" fill="url(#rgA)" stroke="rgb(184,184,184)" stroke-width="0.86" stroke-linejoin="round"/>
<polygon points="286.12,213.67 291.47,213.98 291.15,210.96 286.63,209.58" fill="url(#rgB)" stroke="rgb(220,220,220)" stroke-width="0.77" stroke-linejoin="round"/>
<polygon points="259.35,271.41 261.62,265.9 262.28,265.9 265.99,268.93 265.5,273.01 262.61,273.99" fill="url(#rgA)" stroke="rgb(206,206,206)" stroke-width="0.94" stroke-linejoin="round"/>
<polygon points="287.1,225.97 282.25,229.15 280.67,230.78 286.59,235.04 292.24,227.64 291.24,226.85" fill="url(#rgA)" stroke="rgb(175,175,175)" stroke-width="0.73" stroke-linejoin="round"/>
<polygon points="255.62,210.89 260.14,209.9 263.96,210.2 264,215.66 261.61,218.12 256.51,216.7" fill="url(#rgA)" stroke="rgb(217,217,217)" stroke-width="0.73" stroke-linejoin="round"/>
<polygon points="213.68,245.05 217.77,248.09 222.59,246.79 221.22,241.62 214.14,241.2" fill="url(#rgB)" stroke="rgb(194,194,194)" stroke-width="0.81" stroke-linejoin="round"/>
<polygon points="217.19,248.38 215.66,253.61 219.66,257.65 219.05,258.05 219.89,258.19 224.72,249.59 222.17,247.56" fill="url(#rgA)" stroke="rgb(204,204,204)" stroke-width="0.81" stroke-linejoin="round"/>
<polygon points="232.39,274.99 236.13,277.05 237.01,273.44 236.08,270.6 232.83,270.04 231.37,271.26" fill="url(#rgA)" stroke="rgb(223,223,223)" stroke-width="0.86" stroke-linejoin="round"/>
<polygon points="320.06,248.76 319.16,258.83 309.47,266.55 304.25,260.27 304.32,252.33 305.99,251.33" fill="url(#rgB)" stroke="rgb(206,206,206)" stroke-width="0.78" stroke-linejoin="round"/>
<polygon points="276.19,221.82 275.03,223.81 269.39,221.51 269.29,216.67 270.03,216.57 274.87,218.97" fill="url(#rgA)" stroke="rgb(224,224,224)" stroke-width="0.8" stroke-linejoin="round"/>
<polygon points="267.63,244.46 263.18,241.25 263.35,240.48 264.84,236.95 270.43,239.66 269.72,244.31" fill="url(#rgC)" stroke="rgb(170,170,170)" stroke-width="0.73" stroke-linejoin="round"/>
<polygon points="266.91,253.42 267.41,256.26 269.13,259.41 274.48,258.92 276.57,257.84 275.87,255.07 270.41,252.26" fill="url(#rgA)" stroke="rgb(221,221,221)" stroke-width="0.85" stroke-linejoin="round"/>
<polygon points="288.82,262.83 286.89,262.21 282.41,264.92 281.93,268.17 281.54,269.02 289.53,271.68 293.48,265.96 293.51,266.45 292.38,264.59" fill="url(#rgA)" stroke="rgb(178,178,178)" stroke-width="0.95" stroke-linejoin="round"/>
<polygon points="298.47,208.45 301.21,211.51 306.2,211.35 308.7,205.79 299.93,206.24" fill="url(#rgC)" stroke="rgb(201,201,201)" stroke-width="0.95" stroke-linejoin="round"/>
<polygon points="301.25,243.73 305.32,250.44 304.69,252.28 295.41,252.73 293.9,247.98 296.53,244.37" fill="url(#rgC)" stroke="rgb(217,217,217)" stroke-width="0.63" stroke-linejoin="round"/>
<polygon points="288.75,271.26 308.47,284.68 308.8,284.21 302.97,287.37 287.68,278.13" fill="url(#rgC)" stroke="rgb(211,211,211)" stroke-width="0.75" stroke-linejoin="round"/>
<polygon points="224.99,216.89 224.21,216.12 213.74,217.51 211.99,221.83 220.58,225.12 224.31,221.89" fill="url(#rgA)" stroke="rgb(217,217,217)" stroke-width="0.67" stroke-linejoin="round"/>
<polygon points="238.7,219.06 239.11,219.22 239.59,214.59 245.48,211.1 246.36,211.08 247.98,218.5 245.95,220.75 244.08,221.36" fill="url(#rgC)" stroke="rgb(186,186,186)" stroke-width="0.94" stroke-linejoin="round"/>
<polygon points="190.01,223.93 207.85,227.69 210.75,232.89 210.57,234.18 201.07,244 185.77,238.48" fill="url(#rgB)" stroke="rgb(221,221,221)" stroke-width="0.69" stroke-linejoin="round"/>
<polygon points="264.52,247.97 260.58,245.07 262.81,241.51 267.59,245.49" fill="url(#rgA)" stroke="rgb(228,228,228)" stroke-width="0.8" stroke-linejoin="round"/>
<polygon points="213.37,244.87 204.71,249.18 205.23,252.85 215.58,253.09 217.26,248.8" fill="url(#rgA)" stroke="rgb(172,172,172)" stroke-width="0.98" stroke-linejoin="round"/>
<polygon points="228.16,277.2 222.83,286.86 220.9,273.76 224.68,269.45 227.64,271.06" fill="url(#rgA)" stroke="rgb(185,185,185)" stroke-width="0.67" stroke-linejoin="round"/>
<polygon points="247.99,254.61 243.64,260.21 243.15,260.36 241.36,257.49 243.16,251.71 245.92,250.92" fill="url(#rgA)" stroke="rgb(193,193,193)" stroke-width="0.92" stroke-linejoin="round"/>
<polygon points="236.83,238.39 237.53,243.14 230.52,244.84 228.37,240.61 232.44,236.46" fill="url(#rgA)" stroke="rgb(228,228,228)" stroke-width="0.9" stroke-linejoin="round"/>
<polygon points="290.64,219.4 287.12,219.4 285.61,221.73 287.18,226.13 290.86,227.41 293.03,222.69" fill="url(#rgB)" stroke="rgb(218,218,218)" stroke-width="0.71" stroke-linejoin="round"/>
<polygon points="244.21,227.11 247.42,225.11 246.65,220.17 243.14,220.62 241.52,225.64" fill="url(#rgB)" stroke="rgb(197,197,197)" stroke-width="0.98" stroke-linejoin="round"/>
<polygon points="277.64,267.07 274.44,261.61 271.63,264.29 274.86,267.34" fill="url(#rgC)" stroke="rgb(171,171,171)" stroke-width="0.88" stroke-linejoin="round"/>
<polygon points="250.8,209.5 253.56,193.78 257.66,194.98 260.14,209.31 255.76,211.56" fill="url(#rgA)" stroke="rgb(170,170,170)" stroke-width="0.67" stroke-linejoin="round"/>
<polygon points="263.24,209.99 267.51,207.61 261.76,193.11 257.11,195.07 259.99,209.41" fill="url(#rgC)" stroke="rgb(233,233,233)" stroke-width="0.97" stroke-linejoin="round"/>
<polygon points="302.15,218.25 306.48,218.7 308.98,216.02 306.26,211.09 301.28,212.13 300.28,214.91" fill="url(#rgA)" stroke="rgb(214,214,214)" stroke-width="0.76" stroke-linejoin="round"/>
<polygon points="295.88,251.71 304.74,252.57 303.6,260.38 298.88,260.49 295,255.5" fill="url(#rgB)" stroke="rgb(191,191,191)" stroke-width="0.95" stroke-linejoin="round"/>
<polygon points="222.54,228.77 221.02,225.01 212.66,222.16 208.6,227.52 210.21,233.38 219.98,233.7 221.96,231.7" fill="url(#rgA)" stroke="rgb(178,178,178)" stroke-width="0.75" stroke-linejoin="round"/>
<polygon points="295.7,215.63 291.68,216 290.53,213.73 291.71,210.59 293.72,208.95 295.18,209.21 296.73,214.88" fill="url(#rgA)" stroke="rgb(221,221,221)" stroke-width="0.7" stroke-linejoin="round"/>
<polygon points="242.49,225.87 244.01,220.84 238.77,218.56 238.97,225.93" fill="url(#rgC)" stroke="rgb(220,220,220)" stroke-width="0.97" stroke-linejoin="round"/>
<polygon points="219.12,205.25 219.89,196.37 209.17,187.54 207.38,190.62 206.42,207.44 211.1,211.53 216.38,210.16" fill="url(#rgA)" stroke="rgb(190,190,190)" stroke-width="0.75" stroke-linejoin="round"/>
<polygon points="246.98,236.36 250.54,236.64 252.52,233.1 249.64,230.65 247.02,230.72 245.09,233.25" fill="url(#rgC)" stroke="rgb(207,207,207)" stroke-width="0.72" stroke-linejoin="round"/>
<polygon points="256.08,268.59 259.12,271.68 259.95,271.35 262.07,265.94 259.6,264.38 256.46,265.15" fill="url(#rgA)" stroke="rgb(192,192,192)" stroke-width="0.74" stroke-linejoin="round"/>
<polygon points="306.37,226.22 308.52,228.77 307.57,231.2 299.98,234.79 298.2,233.45 296.23,229.87 300,226.14" fill="url(#rgB)" stroke="rgb(175,175,175)" stroke-width="0.89" stroke-linejoin="round"/>
<polygon points="247.17,236.42 244.4,240.04 239.82,235.58 240.89,233.35 245.77,233.34" fill="url(#rgA)" stroke="rgb(226,226,226)" stroke-width="0.93" stroke-linejoin="round"/>
<polygon points="297.21,221.05 292.84,222.08 290.51,219.92 292.28,216.1 294.93,215.76" fill="url(#rgA)" stroke="rgb(172,172,172)" stroke-width="0.91" stroke-linejoin="round"/>
<polygon points="289.43,271.87 294.06,266.6 307.87,275.42 308.93,284.94 288.49,271.99" fill="url(#rgA)" stroke="rgb(192,192,192)" stroke-width="0.73" stroke-linejoin="round"/>
<polygon points="263.93,251.23 259.96,252.61 257.63,255.41 258.8,257.91 259.87,259.4 263.89,259.5 267.23,256.58 266.94,254" fill="url(#rgA)" stroke="rgb(227,227,227)" stroke-width="0.84" stroke-linejoin="round"/>
<polygon points="253.79,262.92 256.3,265.68 256.2,267.86 252.34,269.98 250.35,268.97" fill="url(#rgC)" stroke="rgb(195,195,195)" stroke-width="0.66" stroke-linejoin="round"/>
<polygon points="286.28,209.4 285.27,209.25 288.13,205.12 292.02,205.31 293.96,208.59 290.98,210.8" fill="url(#rgA)" stroke="rgb(221,221,221)" stroke-width="0.69" stroke-linejoin="round"/>
<polygon points="262.43,274.65 266.38,272.46 271.07,273.45 276.05,282.14 277.08,283.02 276.34,283.52 269.44,287.85 261.11,282.39" fill="url(#rgC)" stroke="rgb(226,226,226)" stroke-width="0.69" stroke-linejoin="round"/>
<polygon points="256.42,232.6 252.37,233.45 250.14,230.3 250.3,227.03 252.95,226.11 256.49,229.26" fill="url(#rgB)" stroke="rgb(198,198,198)" stroke-width="0.99" stroke-linejoin="round"/>
<polygon points="287.17,278.1 302.75,287.93 292.36,296.89 276.09,283.38 276.07,283.96" fill="url(#rgA)" stroke="rgb(186,186,186)" stroke-width="0.93" stroke-linejoin="round"/>
<polygon points="221.73,231.15 219.44,233.25 221.81,239.77 226.7,239.63 226.75,234.43" fill="url(#rgA)" stroke="rgb(181,181,181)" stroke-width="0.62" stroke-linejoin="round"/>
<polygon points="256.25,247.88 256.91,246.26 255.94,240.54 252.29,240.06 248.2,244.87 248.75,247.28 253.08,249.29" fill="url(#rgB)" stroke="rgb(229,229,229)" stroke-width="0.89" stroke-linejoin="round"/>
<polygon points="279.88,221.76 279.86,222.55 281.63,228.7 280.65,230.9 279.84,231.8 274.78,226.97 275.16,223.53 276.99,222.36" fill="url(#rgA)" stroke="rgb(177,177,177)" stroke-width="0.86" stroke-linejoin="round"/>
<polygon points="244.14,229.12 241.29,230.07 236.53,227.97 239.03,226.3 242.14,225.27 243.77,227.99" fill="url(#rgB)" stroke="rgb(190,190,190)" stroke-width="0.95" stroke-linejoin="round"/>
<polygon points="244.01,228.74 246.96,231.19 249.69,230.42 250.42,226.42 247.34,224.67 244.67,227.51" fill="url(#rgC)" stroke="rgb(216,216,216)" stroke-width="0.97" stroke-linejoin="round"/>
<polygon points="296.53,221.04 294.99,215.04 295.91,214.32 300.26,213.91 301.78,217.45 298.05,222.16" fill="url(#rgA)" stroke="rgb(217,217,217)" stroke-width="0.93" stroke-linejoin="round"/>
<polygon points="251.83,261.33 251.34,255.87 248.3,255.44 243.85,260.26 245.92,263.05" fill="url(#rgA)" stroke="rgb(203,203,203)" stroke-width="0.75" stroke-linejoin="round"/>
<polygon points="223.88,268.83 220.56,266.32 212.61,271.1 220.81,273.76 224.13,269.16" fill="url(#rgB)" stroke="rgb(220,220,220)" stroke-width="0.77" stroke-linejoin="round"/>
<polygon points="263.74,242.29 262.68,240.05 255.67,240.75 256.56,240.8 257.24,245.38 260.46,245.89" fill="url(#rgA)" stroke="rgb(224,224,224)" stroke-width="0.72" stroke-linejoin="round"/>
<polygon points="293.05,208.19 292.73,205.32 296.17,198.97 300.41,206 298.57,207.71 295.41,208.96" fill="url(#rgB)" stroke="rgb(181,181,181)" stroke-width="0.88" stroke-linejoin="round"/>
<polygon points="301.35,243.45 305.59,251.09 319.57,248.49 321.14,246.35 309.04,239.49 302.32,241.04" fill="url(#rgB)" stroke="rgb(186,186,186)" stroke-width="0.78" stroke-linejoin="round"/>
<polygon points="280.54,207.97 286.23,208.58 287.22,204.59 287.46,203.68 279.89,200.73 277.8,201.14" fill="url(#rgB)" stroke="rgb(187,187,187)" stroke-width="0.76" stroke-linejoin="round"/>
<polygon points="286.61,219.63 284.54,216.45 282.35,216.14 279.42,221.74 280.79,222.19 285.8,221.96" fill="url(#rgA)" stroke="rgb(187,187,187)" stroke-width="0.91" stroke-linejoin="round"/>
<polygon points="279.36,222.07 282.1,215.49 278.57,213.11 278.27,213.72 275.32,218.39 276.08,222.05" fill="url(#rgA)" stroke="rgb(214,214,214)" stroke-width="0.64" stroke-linejoin="round"/>
<polygon points="280.71,231.03 287.29,234.58 287.46,237.27 284.95,241.16 279.64,242.36 275.86,237.25 279.72,231.81" fill="url(#rgA)" stroke="rgb(219,219,219)" stroke-width="0.64" stroke-linejoin="round"/>
<polygon points="298.44,221.49 300.58,225.41 306.52,226.71 306.7,218.77 302.16,218.36" fill="url(#rgB)" stroke="rgb(220,220,220)" stroke-width="0.63" stroke-linejoin="round"/>
<polygon points="252.69,279.17 246.06,276.05 245.76,277.15 241.47,281.69 245.08,295.28 246.97,296.09 254.28,282.58" fill="url(#rgC)" stroke="rgb(221,221,221)" stroke-width="0.81" stroke-linejoin="round"/>
<polygon points="229.13,257.46 234.66,259.6 236.93,256.48 235.01,251.77 229.62,251.21" fill="url(#rgA)" stroke="rgb(175,175,175)" stroke-width="0.88" stroke-linejoin="round"/>
<polygon points="231.63,206.78 239.89,202.91 243.99,189.15 242.02,187.27 227.5,198.29 229.09,204.27" fill="url(#rgA)" stroke="rgb(214,214,214)" stroke-width="0.84" stroke-linejoin="round"/>
<polygon points="246.03,266.6 241.75,267.68 241.83,273.26 245.4,276.87 246.26,277.09 249.26,269.59" fill="url(#rgA)" stroke="rgb(196,196,196)" stroke-width="0.88" stroke-linejoin="round"/>
<polygon points="286.25,234.77 292.06,227.7 297.08,230.33 297.64,234.02 293.45,238.43 288.12,238.18" fill="url(#rgA)" stroke="rgb(176,176,176)" stroke-width="0.91" stroke-linejoin="round"/>
<polygon points="207.14,271.47 206.99,270.57 204.46,266.18 218.63,257.72 219.36,258.34 218.68,262.38" fill="url(#rgC)" stroke="rgb(230,230,230)" stroke-width="0.78" stroke-linejoin="round"/>
<polygon points="252.47,261.64 258.81,257.61 258.61,256.4 252.92,254.84 251.46,255.88 251.37,261.23" fill="url(#rgB)" stroke="rgb(170,170,170)" stroke-width="0.85" stroke-linejoin="round"/>
<polygon points="290.56,257.07 286.31,255.58 285.87,254.82 284.89,252.75 289.19,247.52 293.05,248.4 295.45,251.9 294.27,254.7 292.72,256.49" fill="url(#rgA)" stroke="rgb(187,187,187)" stroke-width="0.98" stroke-linejoin="round"/>
<polygon points="232.96,266.4 239.12,266.17 238.87,263.12 234.46,260.99 231.01,264.78" fill="url(#rgB)" stroke="rgb(176,176,176)" stroke-width="0.65" stroke-linejoin="round"/>
<polygon points="207.37,271.21 218.77,262.31 221.63,266.95 213.34,270.72" fill="url(#rgA)" stroke="rgb(222,222,222)" stroke-width="0.83" stroke-linejoin="round"/>
<polygon points="231.85,232.37 232.38,237.22 237.1,237.57 239.31,236.07 234.94,230.16" fill="url(#rgA)" stroke="rgb(210,210,210)" stroke-width="0.9" stroke-linejoin="round"/>
<polygon points="214.09,241.67 209.89,234.39 210.42,232.6 219.88,233.34 221.49,239.78 221.67,240.96" fill="url(#rgA)" stroke="rgb(183,183,183)" stroke-width="0.79" stroke-linejoin="round"/>
<polygon points="292.98,205.53 296.79,197.82 297.11,188.18 294.81,188.6 287.32,203.88 288.29,204.5" fill="url(#rgA)" stroke="rgb(221,221,221)" stroke-width="0.72" stroke-linejoin="round"/>
<polygon points="229.32,225.56 224.12,221.35 220.54,224.8 222.96,228.45 227.9,227.61" fill="url(#rgB)" stroke="rgb(195,195,195)" stroke-width="0.97" stroke-linejoin="round"/>
<polygon points="232.3,274.86 230.85,270.74 226.96,271.14 228.2,277.41" fill="url(#rgC)" stroke="rgb(234,234,234)" stroke-width="0.61" stroke-linejoin="round"/>
<polygon points="290.05,219.42 286.55,220.15 284.98,216 286.31,213.99 291.5,213.85 291.42,215.98" fill="url(#rgA)" stroke="rgb(222,222,222)" stroke-width="0.83" stroke-linejoin="round"/>
<polygon points="290.12,256.79 288.92,262.17 292.82,264.36 292.59,256.13" fill="url(#rgC)" stroke="rgb(213,213,213)" stroke-width="0.72" stroke-linejoin="round"/>
<polygon points="268.18,267.53 266.32,262.59 264.75,262.93 263.31,266.23 265.65,268.57" fill="url(#rgB)" stroke="rgb(195,195,195)" stroke-width="0.61" stroke-linejoin="round"/>
<polygon points="300.57,214.65 301.43,211.86 298.9,208.02 295.29,208.88 296.69,214.09" fill="url(#rgA)" stroke="rgb(203,203,203)" stroke-width="0.82" stroke-linejoin="round"/>
<polygon points="215.36,253.29 204.82,252.12 201.79,262.07 203.94,265.86 219.31,257.82" fill="url(#rgA)" stroke="rgb(181,181,181)" stroke-width="0.62" stroke-linejoin="round"/>
<polygon points="240.94,230.74 240.52,233.51 239.92,235.61 239.43,235.6 234.63,230.59 235.53,227.74 236.51,227.48" fill="url(#rgC)" stroke="rgb(199,199,199)" stroke-width="0.66" stroke-linejoin="round"/>
<polygon points="292.9,256.6 295.15,255.52 298.63,260.32 293.9,265.83 291.98,265.26" fill="url(#rgA)" stroke="rgb(176,176,176)" stroke-width="0.64" stroke-linejoin="round"/>
<polygon points="278.27,267.18 281.6,267.57 282.5,269.33 276.98,281.42 270.96,273.66 272.42,269.85 275.12,268.32" fill="url(#rgA)" stroke="rgb(224,224,224)" stroke-width="0.76" stroke-linejoin="round"/>
<polygon points="224.56,213.66 224.08,216.21 213.31,217.95 212.01,211.72 216.58,209.88 224.37,212.73" fill="url(#rgA)" stroke="rgb(233,233,233)" stroke-width="0.89" stroke-linejoin="round"/>
<polygon points="263.91,228.23 267.26,225.44 271.6,228.74 269.98,232.04 265.67,233.16" fill="url(#rgB)" stroke="rgb(185,185,185)" stroke-width="0.8" stroke-linejoin="round"/>
<polygon points="257.86,255.87 253.47,254.03 252.79,249.53 256.17,247.39 259.97,252.76" fill="url(#rgA)" stroke="rgb(193,193,193)" stroke-width="0.66" stroke-linejoin="round"/>
<polygon points="275.58,218.86 270.08,216.66 272.1,211.15 277.67,213.06" fill="url(#rgB)" stroke="rgb(176,176,176)" stroke-width="0.88" stroke-linejoin="round"/>
<polygon points="232.88,269.16 232.22,267.15 238.59,265.47 238.73,266.78 235.73,270.49" fill="url(#rgA)" stroke="rgb(207,207,207)" stroke-width="0.72" stroke-linejoin="round"/>
<polygon points="213.03,222.51 207.71,226.79 190.93,224.04 189.01,217.33 206.06,207.51 211.62,211.55 212.87,217.07" fill="url(#rgB)" stroke="rgb(195,195,195)" stroke-width="0.62" stroke-linejoin="round"/>
<polygon points="261.89,265.77 262.79,266.06 264.74,263 263.64,258.9 260.98,259.58 260,264.64" fill="url(#rgA)" stroke="rgb(173,173,173)" stroke-width="0.99" stroke-linejoin="round"/>
<polygon points="247.59,224.88 246.06,220.37 247.55,219.14 253.6,220.42 254.03,223.37 253.11,226.03 250.11,226.6" fill="url(#rgA)" stroke="rgb(211,211,211)" stroke-width="0.67" stroke-linejoin="round"/>
<polygon points="298.05,234.2 294.1,237.89 297.05,244.34 300.78,243.22 303.13,241.05 300.16,235" fill="url(#rgC)" stroke="rgb(183,183,183)" stroke-width="0.84" stroke-linejoin="round"/>
<polygon points="251.53,270.49 254.09,274.57 259.64,272.1 255.93,268.19" fill="url(#rgA)" stroke="rgb(183,183,183)" stroke-width="0.75" stroke-linejoin="round"/>
<polygon points="246.79,236.71 250.56,237.19 252.29,240.1 248.76,244.28 243.99,242.45 243.92,240.05" fill="url(#rgB)" stroke="rgb(172,172,172)" stroke-width="0.64" stroke-linejoin="round"/>
<polygon points="269.87,252.3 275.56,255.17 279.27,250.22 277.34,247.58 271.4,247.69" fill="url(#rgA)" stroke="rgb(198,198,198)" stroke-width="0.75" stroke-linejoin="round"/>
<polygon points="257.31,230 253.79,225.7 254.37,223.2 259.95,222.65 261.25,227.41" fill="url(#rgA)" stroke="rgb(219,219,219)" stroke-width="0.66" stroke-linejoin="round"/>
<polygon points="299.56,235.19 307.24,231.25 309.69,239.04 303.38,241.47" fill="url(#rgB)" stroke="rgb(175,175,175)" stroke-width="0.84" stroke-linejoin="round"/>
<polygon points="286.99,203.76 280.31,200.1 289.35,188.26 294.58,188.61" fill="url(#rgC)" stroke="rgb(225,225,225)" stroke-width="0.61" stroke-linejoin="round"/>
<polygon points="262.96,240.94 255.9,240.31 258.12,234.94 264.38,235.28 264.95,236.64" fill="url(#rgA)" stroke="rgb(188,188,188)" stroke-width="0.77" stroke-linejoin="round"/>
<polygon points="230.32,231.81 226.62,234.59 227.23,239.28 229.01,239.74 232.28,236.57 232.18,232.19" fill="url(#rgA)" stroke="rgb(220,220,220)" stroke-width="0.92" stroke-linejoin="round"/>
<polygon points="267.27,222.11 262.08,220.64 262.01,218.24 264.52,214.84 269.47,217.65 269.52,221.82" fill="url(#rgA)" stroke="rgb(232,232,232)" stroke-width="0.72" stroke-linejoin="round"/>
<polygon points="286.84,213.58 284.39,216.11 282.25,216.01 279.5,212.83 280.73,208.54 285.4,209.04 286.2,208.62" fill="url(#rgB)" stroke="rgb(217,217,217)" stroke-width="0.76" stroke-linejoin="round"/>
<polygon points="286.63,225.83 282,229.19 279.89,222.05 285.51,222" fill="url(#rgC)" stroke="rgb(178,178,178)" stroke-width="0.76" stroke-linejoin="round"/>
<polygon points="307.32,218.52 308.96,216.17 321.52,217.29 319.29,226.31 308.69,228.67 306.7,226.39" fill="url(#rgB)" stroke="rgb(199,199,199)" stroke-width="0.76" stroke-linejoin="round"/>
<polygon points="231.95,223.76 236.56,227.15 234.89,230.85 231.89,232.61 229.91,231.56 228.8,228.18 229.07,224.72" fill="url(#rgB)" stroke="rgb(192,192,192)" stroke-width="0.75" stroke-linejoin="round"/>
<polygon points="253.61,263.33 250.18,268.61 248.9,269.24 245.71,266.37 246.46,263.26 252.01,261.17 252.88,261.59" fill="url(#rgB)" stroke="rgb(186,186,186)" stroke-width="0.84" stroke-linejoin="round"/>
<polygon points="249.53,269.55 251.86,269.42 254.19,274.16 252.23,278.86 246.75,276.14 249.25,268.75" fill="url(#rgC)" stroke="rgb(197,197,197)" stroke-width="0.89" stroke-linejoin="round"/>
<polygon points="241.32,272.98 236.92,273.19 236.26,276.2 237.3,281.05 241.58,282.26 245.18,276.88" fill="url(#rgC)" stroke="rgb(193,193,193)" stroke-width="0.92" stroke-linejoin="round"/>
<polygon points="243.69,228.48 246.97,230.75 245.52,233.59 241.12,233.8 241.66,230.76" fill="url(#rgC)" stroke="rgb(219,219,219)" stroke-width="0.92" stroke-linejoin="round"/>
<polygon points="259.4,271.42 254.74,274.37 252.61,279.58 254.57,282.47 261.78,281.64 263.38,274.54 260.18,271.81" fill="url(#rgB)" stroke="rgb(193,193,193)" stroke-width="0.61" stroke-linejoin="round"/>
<polygon points="263.49,248.63 260.53,245.65 257.3,245.59 256.29,247.4 260.55,252.26 264.34,251.76" fill="url(#rgC)" stroke="rgb(223,223,223)" stroke-width="0.9" stroke-linejoin="round"/>
<polygon points="241.59,282.6 245.2,295.85 228.83,298.72 221.64,289.83 222.3,288.01 236.98,280.28" fill="url(#rgA)" stroke="rgb(185,185,185)" stroke-width="0.64" stroke-linejoin="round"/>
<polygon points="229.14,204.15 227.35,198.47 219.71,195.99 219.86,206.29 223.98,208.12" fill="url(#rgA)" stroke="rgb(172,172,172)" stroke-width="0.86" stroke-linejoin="round"/>
<polygon points="240.89,257.71 236.4,256.03 234.81,259.76 234.21,260.67 238.8,264.05 242.75,260.21" fill="url(#rgB)" stroke="rgb(232,232,232)" stroke-width="0.72" stroke-linejoin="round"/>
<polygon points="221.57,247.16 224.37,248.76 228.74,249.45 230.83,244.89 228.88,240.04 227.35,239.66 221.95,240.41 221.16,241.24" fill="url(#rgA)" stroke="rgb(222,222,222)" stroke-width="0.78" stroke-linejoin="round"/>
<polygon points="239.13,235.83 238.83,235.39 237.47,238.18 237.29,243.06 239.46,245.35 244.56,242.85 244.55,239.97" fill="url(#rgC)" stroke="rgb(182,182,182)" stroke-width="0.88" stroke-linejoin="round"/>
<polygon points="277.29,266.63 281.8,267.6 282.59,264.21 281.06,259.86 275.53,257.44 275.04,258.14 274.61,261.47" fill="url(#rgC)" stroke="rgb(176,176,176)" stroke-width="0.79" stroke-linejoin="round"/>
<polygon points="272.57,269.52 269.09,267.48 268.04,267.42 266.31,268.39 266,272.94 271.46,274.48" fill="url(#rgA)" stroke="rgb(189,189,189)" stroke-width="0.99" stroke-linejoin="round"/>
<polygon points="319.55,258.73 336.3,276.55 316.81,287.34 309.14,284.54 309.11,284.87 306.97,275.51 308.73,266.5" fill="url(#rgA)" stroke="rgb(225,225,225)" stroke-width="0.82" stroke-linejoin="round"/>
<polygon points="261.93,227.59 259.93,222.78 262.23,221.06 267.41,222.84 267.56,226.11 262.8,228.62" fill="url(#rgB)" stroke="rgb(209,209,209)" stroke-width="0.9" stroke-linejoin="round"/>
<polygon points="257.73,234.66 264.04,234.87 265.62,233.43 263.49,228.39 260.8,227.03 256.78,230 256.51,233.16" fill="url(#rgC)" stroke="rgb(173,173,173)" stroke-width="0.98" stroke-linejoin="round"/>
<polygon points="272.17,246.89 277.27,247.05 279.5,242.17 275.63,236.99 275.65,237.13 270.78,240.08 269.79,244.95" fill="url(#rgA)" stroke="rgb(202,202,202)" stroke-width="0.95" stroke-linejoin="round"/>
<polygon points="277.05,200.93 280.12,200.18 288.94,188.89 273.27,179.41 268.19,190.03 276.53,201.82" fill="url(#rgC)" stroke="rgb(172,172,172)" stroke-width="0.77" stroke-linejoin="round"/>
<polygon points="275.01,267.83 272.31,269.53 268.82,266.64 271.24,264.16 270.99,264.14" fill="url(#rgB)" stroke="rgb(178,178,178)" stroke-width="0.61" stroke-linejoin="round"/>
<polygon points="263.89,248.28 268,244.43 269.36,244.24 271.87,246.68 270.54,252.23 266.96,253.53 263.39,251.67" fill="url(#rgB)" stroke="rgb(207,207,207)" stroke-width="0.69" stroke-linejoin="round"/>
<polygon points="271.41,240.3 275.4,236.64 269.98,232.48 264.89,232.71 263.81,235.09 264.11,236.67" fill="url(#rgB)" stroke="rgb(218,218,218)" stroke-width="0.74" stroke-linejoin="round"/>
<polygon points="244.1,242.94 239.37,245.38 239.83,249.04 242.87,251.93 246.32,250.95 249.48,247.8 248.16,245.4" fill="url(#rgB)" stroke="rgb(196,196,196)" stroke-width="0.74" stroke-linejoin="round"/>
<polygon points="288.56,271.73 282.56,269.48 276.72,281.16 276.97,282.84 287.85,279.02 288.47,271.52" fill="url(#rgA)" stroke="rgb(193,193,193)" stroke-width="0.87" stroke-linejoin="round"/>
<polygon points="269.27,266.71 270.96,263.65 269.15,262.19 266.94,263.15 267.51,267.19" fill="url(#rgA)" stroke="rgb(208,208,208)" stroke-width="0.98" stroke-linejoin="round"/>
<polygon points="240.86,256.97 242.78,251.83 239.81,249.39 234.99,252.06 236.97,256.63" fill="url(#rgC)" stroke="rgb(203,203,203)" stroke-width="0.98" stroke-linejoin="round"/>
<polygon points="229.56,217.46 233.73,211.27 238.91,214.89 238.12,219.03 233.23,221.02" fill="url(#rgC)" stroke="rgb(190,190,190)" stroke-width="0.62" stroke-linejoin="round"/>
</g>
<rect x="221" y="207.5" width="75" height="62.8" filter="url(#noiseD)" opacity="0.35"/>
<rect x="221" y="207.5" width="75" height="62.8" filter="url(#noiseL)" opacity="0.25"/>
</g>
<g clip-path="url(#clip_tr)">
<rect x="298.2" y="207.5" width="74.8" height="62.8" fill="#0e0e0e" />
<g filter="url(#b10)">
<rect x="298" y="207" width="38" height="9" fill="rgb(40,40,40)" />
<rect x="336" y="213" width="5" height="14" fill="rgb(76,76,76)" />
<rect x="370" y="207" width="5" height="51" fill="rgb(68,68,68)" />
<rect x="351" y="241" width="20" height="10" fill="rgb(76,76,76)" />
<rect x="298" y="253" width="14" height="9" fill="rgb(100,100,100)" />
<rect x="298" y="262" width="7" height="9" fill="rgb(84,84,84)" />
<rect x="308" y="233" width="15" height="7" fill="rgb(44,44,44)" />
<rect x="336" y="258" width="18" height="10" fill="rgb(40,40,40)" />
<rect x="322" y="250" width="14" height="8" fill="rgb(36,36,36)" />
<rect x="357" y="258" width="15" height="13" fill="rgb(48,48,48)" />
<rect x="312" y="262" width="18" height="9" fill="rgb(56,56,56)" />
<rect x="341" y="227" width="9" height="5" fill="rgb(48,48,48)" />
</g>
<g filter="url(#pore)">
<ellipse cx="329.5" cy="218.5" rx="6.5" ry="4.5" fill="rgb(5,5,5)"/>
<ellipse cx="303.5" cy="236" rx="4.5" ry="4" fill="rgb(5,5,5)"/>
<ellipse cx="347.5" cy="221" rx="5.5" ry="5" fill="rgb(5,5,5)"/>
<ellipse cx="357" cy="214" rx="7" ry="5" fill="rgb(5,5,5)"/>
<ellipse cx="363" cy="230.5" rx="6" ry="3.5" fill="rgb(5,5,5)"/>
<ellipse cx="342.5" cy="236" rx="5.5" ry="3" fill="rgb(5,5,5)"/>
<ellipse cx="342.5" cy="246.5" rx="5.5" ry="3.5" fill="rgb(5,5,5)"/>
<ellipse cx="309" cy="242" rx="9" ry="7" fill="rgb(5,5,5)"/>
<ellipse cx="304.5" cy="224.5" rx="5.5" ry="2.5" fill="rgb(5,5,5)"/>
<ellipse cx="317" cy="224" rx="5" ry="2" fill="rgb(5,5,5)"/>
<ellipse cx="328" cy="245.5" rx="6" ry="4.5" fill="rgb(5,5,5)"/>
<ellipse cx="366" cy="245" rx="6" ry="4" fill="rgb(5,5,5)"/>
</g>
<g filter="url(#warpB)">
<g filter="url(#b10)">
<path d="M296,217 C298.5,217.83 306.5,220.33 311,222 C315.5,223.67 318.83,225.5 323,227 C327.17,228.5 332.5,230.27 336,231 C339.5,231.73 341.5,231.57 344,231.4 C346.5,231.23 348.67,230.57 351,230 C353.33,229.43 356.83,228.33 358,228" fill="none" stroke="rgb(85,85,85)" stroke-width="2.8" stroke-linecap="round"/>
<path d="M296,228 C298,228.33 304.33,229.33 308,230 C311.67,230.67 314.83,231 318,232 C321.17,233 324,234.67 327,236 C330,237.33 332.83,238.67 336,240 C339.17,241.33 343.17,242.67 346,244 C348.83,245.33 350.5,246.67 353,248 C355.5,249.33 358.5,250.67 361,252 C363.5,253.33 365.5,255 368,256 C370.5,257 374.67,257.67 376,258" fill="none" stroke="rgb(85,85,85)" stroke-width="3.4" stroke-linecap="round"/>
<path d="M320,205 C320.17,206.5 320.67,211.33 321,214 C321.33,216.67 321.67,218.83 322,221 C322.33,223.17 322.83,226 323,227" fill="none" stroke="rgb(85,85,85)" stroke-width="2.4" stroke-linecap="round"/>
<path d="M323,212 C325.17,211.83 332.17,210.5 336,211 C339.83,211.5 342.67,213.33 346,215 C349.33,216.67 353,219.17 356,221 C359,222.83 361.5,224.5 364,226 C366.5,227.5 369,228.83 371,230 C373,231.17 375.17,232.5 376,233" fill="none" stroke="rgb(85,85,85)" stroke-width="3.4" stroke-linecap="round"/>
<path d="M296,256 C298.5,255.83 306.5,255.67 311,255 C315.5,254.33 319.67,253.17 323,252 C326.33,250.83 328.83,248.33 331,248 C333.17,247.67 334.17,249.17 336,250 C337.83,250.83 339.83,252.1 342,253 C344.17,253.9 346.33,254.73 349,255.4 C351.67,256.07 355.17,256.57 358,257 C360.83,257.43 363,257.67 366,258 C369,258.33 374.33,258.83 376,259" fill="none" stroke="rgb(85,85,85)" stroke-width="2.6" stroke-linecap="round"/>
<path d="M298,258 C300.5,258.5 308,259.67 313,261 C318,262.33 324.17,264.67 328,266 C331.83,267.33 333.17,268 336,269 C338.83,270 343.5,271.5 345,272" fill="none" stroke="rgb(85,85,85)" stroke-width="4" stroke-linecap="round"/>
<path d="M364,205 C364.33,206.33 365.33,210.5 366,213 C366.67,215.5 367.67,218.83 368,220" fill="none" stroke="rgb(85,85,85)" stroke-width="2" stroke-linecap="round"/>
<path d="M349,227 C349.5,228 350.83,230.83 352,233 C353.17,235.17 355.33,238.83 356,240" fill="none" stroke="rgb(85,85,85)" stroke-width="2" stroke-linecap="round"/>
<path d="M356,232 C356.67,232.67 358.67,234.67 360,236 C361.33,237.33 363.33,239.33 364,240" fill="none" stroke="rgb(85,85,85)" stroke-width="2" stroke-linecap="round"/>
<path d="M303,207 C303.5,208.17 304.83,211.5 306,214 C307.17,216.5 309.33,220.67 310,222" fill="none" stroke="rgb(85,85,85)" stroke-width="1.8" stroke-linecap="round"/>
<path d="M336,211 C336.33,212.5 337.17,217.33 338,220 C338.83,222.67 340,225.17 341,227 C342,228.83 343.5,230.33 344,231" fill="none" stroke="rgb(85,85,85)" stroke-width="2" stroke-linecap="round"/>
<path d="M298,244 C299.33,244.33 303.17,245.17 306,246 C308.83,246.83 312.17,248 315,249 C317.83,250 321.67,251.5 323,252" fill="none" stroke="rgb(85,85,85)" stroke-width="1.8" stroke-linecap="round"/>
<path d="M312,222 C312.33,223 313,226.33 314,228 C315,229.67 317.33,231.33 318,232" fill="none" stroke="rgb(85,85,85)" stroke-width="1.6" stroke-linecap="round"/>
<path d="M298,238 C298.83,237.67 301.33,236.83 303,236 C304.67,235.17 307.17,233.5 308,233" fill="none" stroke="rgb(85,85,85)" stroke-width="1.6" stroke-linecap="round"/>
<path d="M330,233 C330.5,234.17 332,238 333,240 C334,242 335.5,244.17 336,245" fill="none" stroke="rgb(85,85,85)" stroke-width="1.8" stroke-linecap="round"/>
<path d="M318,242 C318.67,242.83 320.67,245.5 322,247 C323.33,248.5 325.33,250.33 326,251" fill="none" stroke="rgb(85,85,85)" stroke-width="1.6" stroke-linecap="round"/>
<path d="M345,245 C344.67,246.17 343.5,249.83 343,252 C342.5,254.17 342.17,257 342,258" fill="none" stroke="rgb(85,85,85)" stroke-width="1.8" stroke-linecap="round"/>
<path d="M356,240 C356.17,241.17 356.5,245 357,247 C357.5,249 358.67,251.17 359,252" fill="none" stroke="rgb(85,85,85)" stroke-width="1.6" stroke-linecap="round"/>
<path d="M305,225 C304.67,226 303.67,229.17 303,231 C302.33,232.83 301.33,235.17 301,236" fill="none" stroke="rgb(85,85,85)" stroke-width="1.6" stroke-linecap="round"/>
<path d="M340,218 C340.5,219 342,222 343,224 C344,226 345.5,229 346,230" fill="none" stroke="rgb(85,85,85)" stroke-width="1.8" stroke-linecap="round"/>
<path d="M360,212 C360.33,213 361.33,216 362,218 C362.67,220 363.67,223 364,224" fill="none" stroke="rgb(85,85,85)" stroke-width="1.6" stroke-linecap="round"/>
<path d="M366,240 C366.5,241 368,244.33 369,246 C370,247.67 371.5,249.33 372,250" fill="none" stroke="rgb(85,85,85)" stroke-width="1.6" stroke-linecap="round"/>
</g>
<g filter="url(#b03)">
<path d="M296,217 C298.5,217.83 306.5,220.33 311,222 C315.5,223.67 318.83,225.5 323,227 C327.17,228.5 332.5,230.27 336,231 C339.5,231.73 341.5,231.57 344,231.4 C346.5,231.23 348.67,230.57 351,230 C353.33,229.43 356.83,228.33 358,228" fill="none" stroke="rgb(220,220,220)" stroke-width="1.82" stroke-linecap="round"/>
<path d="M296,228 C298,228.33 304.33,229.33 308,230 C311.67,230.67 314.83,231 318,232 C321.17,233 324,234.67 327,236 C330,237.33 332.83,238.67 336,240 C339.17,241.33 343.17,242.67 346,244 C348.83,245.33 350.5,246.67 353,248 C355.5,249.33 358.5,250.67 361,252 C363.5,253.33 365.5,255 368,256 C370.5,257 374.67,257.67 376,258" fill="none" stroke="rgb(220,220,220)" stroke-width="2.21" stroke-linecap="round"/>
<path d="M320,205 C320.17,206.5 320.67,211.33 321,214 C321.33,216.67 321.67,218.83 322,221 C322.33,223.17 322.83,226 323,227" fill="none" stroke="rgb(220,220,220)" stroke-width="1.56" stroke-linecap="round"/>
<path d="M323,212 C325.17,211.83 332.17,210.5 336,211 C339.83,211.5 342.67,213.33 346,215 C349.33,216.67 353,219.17 356,221 C359,222.83 361.5,224.5 364,226 C366.5,227.5 369,228.83 371,230 C373,231.17 375.17,232.5 376,233" fill="none" stroke="rgb(220,220,220)" stroke-width="2.21" stroke-linecap="round"/>
<path d="M296,256 C298.5,255.83 306.5,255.67 311,255 C315.5,254.33 319.67,253.17 323,252 C326.33,250.83 328.83,248.33 331,248 C333.17,247.67 334.17,249.17 336,250 C337.83,250.83 339.83,252.1 342,253 C344.17,253.9 346.33,254.73 349,255.4 C351.67,256.07 355.17,256.57 358,257 C360.83,257.43 363,257.67 366,258 C369,258.33 374.33,258.83 376,259" fill="none" stroke="rgb(220,220,220)" stroke-width="1.69" stroke-linecap="round"/>
<path d="M298,258 C300.5,258.5 308,259.67 313,261 C318,262.33 324.17,264.67 328,266 C331.83,267.33 333.17,268 336,269 C338.83,270 343.5,271.5 345,272" fill="none" stroke="rgb(220,220,220)" stroke-width="2.6" stroke-linecap="round"/>
<path d="M364,205 C364.33,206.33 365.33,210.5 366,213 C366.67,215.5 367.67,218.83 368,220" fill="none" stroke="rgb(220,220,220)" stroke-width="1.3" stroke-linecap="round"/>
<path d="M349,227 C349.5,228 350.83,230.83 352,233 C353.17,235.17 355.33,238.83 356,240" fill="none" stroke="rgb(220,220,220)" stroke-width="1.3" stroke-linecap="round"/>
<path d="M356,232 C356.67,232.67 358.67,234.67 360,236 C361.33,237.33 363.33,239.33 364,240" fill="none" stroke="rgb(220,220,220)" stroke-width="1.3" stroke-linecap="round"/>
<path d="M303,207 C303.5,208.17 304.83,211.5 306,214 C307.17,216.5 309.33,220.67 310,222" fill="none" stroke="rgb(220,220,220)" stroke-width="1.17" stroke-linecap="round"/>
<path d="M336,211 C336.33,212.5 337.17,217.33 338,220 C338.83,222.67 340,225.17 341,227 C342,228.83 343.5,230.33 344,231" fill="none" stroke="rgb(220,220,220)" stroke-width="1.3" stroke-linecap="round"/>
<path d="M298,244 C299.33,244.33 303.17,245.17 306,246 C308.83,246.83 312.17,248 315,249 C317.83,250 321.67,251.5 323,252" fill="none" stroke="rgb(220,220,220)" stroke-width="1.17" stroke-linecap="round"/>
<path d="M312,222 C312.33,223 313,226.33 314,228 C315,229.67 317.33,231.33 318,232" fill="none" stroke="rgb(220,220,220)" stroke-width="1.04" stroke-linecap="round"/>
<path d="M298,238 C298.83,237.67 301.33,236.83 303,236 C304.67,235.17 307.17,233.5 308,233" fill="none" stroke="rgb(220,220,220)" stroke-width="1.04" stroke-linecap="round"/>
<path d="M330,233 C330.5,234.17 332,238 333,240 C334,242 335.5,244.17 336,245" fill="none" stroke="rgb(220,220,220)" stroke-width="1.17" stroke-linecap="round"/>
<path d="M318,242 C318.67,242.83 320.67,245.5 322,247 C323.33,248.5 325.33,250.33 326,251" fill="none" stroke="rgb(220,220,220)" stroke-width="1.04" stroke-linecap="round"/>
<path d="M345,245 C344.67,246.17 343.5,249.83 343,252 C342.5,254.17 342.17,257 342,258" fill="none" stroke="rgb(220,220,220)" stroke-width="1.17" stroke-linecap="round"/>
<path d="M356,240 C356.17,241.17 356.5,245 357,247 C357.5,249 358.67,251.17 359,252" fill="none" stroke="rgb(220,220,220)" stroke-width="1.04" stroke-linecap="round"/>
<path d="M305,225 C304.67,226 303.67,229.17 303,231 C302.33,232.83 301.33,235.17 301,236" fill="none" stroke="rgb(220,220,220)" stroke-width="1.04" stroke-linecap="round"/>
<path d="M340,218 C340.5,219 342,222 343,224 C344,226 345.5,229 346,230" fill="none" stroke="rgb(220,220,220)" stroke-width="1.17" stroke-linecap="round"/>
<path d="M360,212 C360.33,213 361.33,216 362,218 C362.67,220 363.67,223 364,224" fill="none" stroke="rgb(220,220,220)" stroke-width="1.04" stroke-linecap="round"/>
<path d="M366,240 C366.5,241 368,244.33 369,246 C370,247.67 371.5,249.33 372,250" fill="none" stroke="rgb(220,220,220)" stroke-width="1.04" stroke-linecap="round"/>
</g>
</g>
<rect x="298.2" y="207.5" width="74.8" height="62.8" filter="url(#noiseD)" opacity="0.25"/>
<rect x="298.2" y="207.5" width="74.8" height="62.8" filter="url(#noiseL)" opacity="0.12"/>
</g>
<g clip-path="url(#clip_bl)">
<rect x="221" y="272.3" width="75" height="63.2" fill="#6a6a6a" />
<g filter="url(#warpC)">
<polygon points="228.92,324.67 234.8,328.04 243.6,327.82 237.32,319.8 232.83,320.34" fill="url(#rgB)" stroke="rgb(134,134,134)" stroke-width="0.77" stroke-linejoin="round"/>
<polygon points="260.67,301.2 263.46,292.01 255.36,289.55 250.59,291.97 250.91,297.31 256.74,301.61" fill="url(#rgC)" stroke="rgb(122,122,122)" stroke-width="0.81" stroke-linejoin="round"/>
<polygon points="255.68,289.55 248.26,277.89 241.25,281.7 243.68,290.73 250.34,291.52" fill="url(#rgB)" stroke="rgb(142,142,142)" stroke-width="1.2" stroke-linejoin="round"/>
<polygon points="237.38,303.04 227.09,296.64 233.5,291.57 236.76,292.42 241.54,296.98 239.02,302.28" fill="url(#rgC)" stroke="rgb(122,122,122)" stroke-width="0.79" stroke-linejoin="round"/>
<polygon points="219.79,302.2 224.13,296.94 226.81,297.06 237.5,301.73 229.11,307.43" fill="url(#rgC)" stroke="rgb(162,162,162)" stroke-width="1.09" stroke-linejoin="round"/>
<polygon points="270.24,336.56 277.7,361.17 277.63,362.8 288.29,345.64 283.56,330.27 281.92,330.35" fill="url(#rgC)" stroke="rgb(147,147,147)" stroke-width="1.11" stroke-linejoin="round"/>
<polygon points="263.64,291.67 269.7,289.01 269.01,290.27 254.49,274.03 251.94,273.61 247.98,278.43 254.86,289.75" fill="url(#rgC)" stroke="rgb(151,151,151)" stroke-width="1.2" stroke-linejoin="round"/>
<polygon points="257.01,335.87 256.43,336.33 243.7,335.16 246.38,326.85 245.57,327.62 253.81,329.69" fill="url(#rgC)" stroke="rgb(168,168,168)" stroke-width="0.71" stroke-linejoin="round"/>
<polygon points="218.97,332.63 223.15,342.78 213.82,340.24 212.44,332.84 219.53,332.47" fill="url(#rgC)" stroke="rgb(160,160,160)" stroke-width="1.28" stroke-linejoin="round"/>
<polygon points="209.11,304.32 218.27,303.16 225.24,297.29 215.79,290.77 199.85,287.79 206.49,304.38" fill="url(#rgC)" stroke="rgb(161,161,161)" stroke-width="1.09" stroke-linejoin="round"/>
<polygon points="293.82,325.39 308.12,332.36 339.8,310.43 335.6,304.47 310.71,304.61 300.53,308.3 291.63,319.55" fill="url(#rgC)" stroke="rgb(158,158,158)" stroke-width="0.95" stroke-linejoin="round"/>
<polygon points="293.87,295.97 290.4,291.37 292.12,280.55 295.07,280.49 340.08,287.55 333.69,303.28 309.85,303.2" fill="url(#rgC)" stroke="rgb(145,145,145)" stroke-width="1.06" stroke-linejoin="round"/>
<polygon points="265.03,330.27 260.49,326.69 253.55,328.89 256.05,335.44 266.06,333.35" fill="url(#rgB)" stroke="rgb(154,154,154)" stroke-width="0.99" stroke-linejoin="round"/>
<polygon points="239.5,303.22 241.58,297.05 250.16,296.51 256.43,300.86 255.12,302.83 244.88,305.49" fill="url(#rgC)" stroke="rgb(135,135,135)" stroke-width="0.97" stroke-linejoin="round"/>
<polygon points="266.69,317.39 272.42,315.49 272.25,306.09 260.66,300.84 257.43,301.58 254.91,304.04 257.02,312.12" fill="url(#rgC)" stroke="rgb(168,168,168)" stroke-width="1.25" stroke-linejoin="round"/>
<polygon points="267.42,317.58 273.25,327.52 282.08,330.9 282.04,331.14 293.52,325.72 291.33,318.34 271.75,315.57 267.56,317.53" fill="url(#rgC)" stroke="rgb(168,168,168)" stroke-width="1.15" stroke-linejoin="round"/>
<polygon points="260.44,302.46 271.15,305.33 275.86,304.14 276.95,295.27 269.64,290.48 264.92,290.35" fill="url(#rgC)" stroke="rgb(173,173,173)" stroke-width="1.2" stroke-linejoin="round"/>
<polygon points="219.79,331.36 223.09,342.71 229.81,346.83 238.49,337.72 237.9,337.91 231.71,333.95" fill="url(#rgC)" stroke="rgb(158,158,158)" stroke-width="0.94" stroke-linejoin="round"/>
<polygon points="224.42,323.2 221.14,314.41 225.99,314.68 232.67,320.38 228.73,324.14" fill="url(#rgC)" stroke="rgb(129,129,129)" stroke-width="0.72" stroke-linejoin="round"/>
<polygon points="291.43,318.47 301.08,308.28 274.19,304.81 271.45,305.94 271.86,314.9" fill="url(#rgB)" stroke="rgb(121,121,121)" stroke-width="0.85" stroke-linejoin="round"/>
<polygon points="296.06,279.92 291.93,270.26 274.5,263.53 268.38,270.04 277.69,278.64 292.98,282.26" fill="url(#rgC)" stroke="rgb(160,160,160)" stroke-width="1.28" stroke-linejoin="round"/>
<polygon points="269.27,290.27 254.68,274 267.89,270.62 279.15,278.98 275.26,285.84" fill="url(#rgC)" stroke="rgb(127,127,127)" stroke-width="0.81" stroke-linejoin="round"/>
<polygon points="244.25,311.91 243.72,304.27 239.27,302.24 236.31,302.79 229.15,308.54 229.96,309.86 242.64,313.7" fill="url(#rgB)" stroke="rgb(148,148,148)" stroke-width="0.76" stroke-linejoin="round"/>
<polygon points="249.41,320.49 244.03,315.04 244.19,313.9 246,311.85 256.7,312.68 267.74,315.9 267.04,318.24 258.96,321.82" fill="url(#rgC)" stroke="rgb(171,171,171)" stroke-width="0.8" stroke-linejoin="round"/>
<polygon points="264.94,332.14 270.38,337.51 277.77,361.69 261.49,349.15 255.61,337.19 256.01,335.55" fill="url(#rgC)" stroke="rgb(162,162,162)" stroke-width="0.92" stroke-linejoin="round"/>
<polygon points="226.7,297.02 232.6,292.95 228.83,287.34 223.12,286.81 215.27,290.54 223.63,296.76" fill="url(#rgB)" stroke="rgb(144,144,144)" stroke-width="0.78" stroke-linejoin="round"/>
<polygon points="236.35,293.69 233.84,293.05 228.9,287.99 234.17,282.76 241.54,281.05 243.57,289.88" fill="url(#rgB)" stroke="rgb(149,149,149)" stroke-width="0.73" stroke-linejoin="round"/>
<polygon points="294.82,324.65 309.45,332.73 310.97,333.52 288.53,346.19 282.46,329.62" fill="url(#rgC)" stroke="rgb(161,161,161)" stroke-width="0.8" stroke-linejoin="round"/>
<polygon points="251.04,296.14 241.88,298.16 236.42,292.68 243.71,290.41 251.34,293.11" fill="url(#rgB)" stroke="rgb(161,161,161)" stroke-width="1.08" stroke-linejoin="round"/>
<polygon points="249.59,321.07 242.7,314.89 236.34,320.88 243.2,326.03 244.75,327.2 247.4,326.79" fill="url(#rgC)" stroke="rgb(135,135,135)" stroke-width="1.11" stroke-linejoin="round"/>
<polygon points="275.49,304.57 301.02,307.38 309.83,304.05 293.75,296 277.34,296.11" fill="url(#rgC)" stroke="rgb(159,159,159)" stroke-width="0.95" stroke-linejoin="round"/>
<polygon points="207.74,303.85 220.84,313.87 206.85,321.07 181.93,316.69 206.53,304.79" fill="url(#rgC)" stroke="rgb(138,138,138)" stroke-width="0.83" stroke-linejoin="round"/>
<polygon points="253.19,328.54 247.19,328.05 250.18,320.43 259.07,320.66 259.9,326.38" fill="url(#rgC)" stroke="rgb(137,137,137)" stroke-width="1.01" stroke-linejoin="round"/>
<polygon points="277.19,296.63 295.16,294.54 290.78,290.57 275.64,287.13 270,289.54 268.06,289.08" fill="url(#rgC)" stroke="rgb(164,164,164)" stroke-width="0.91" stroke-linejoin="round"/>
<polygon points="233.74,320.53 236.97,320.23 243.36,315.49 242.56,314.93 230.5,311.11 224.89,313.67" fill="url(#rgC)" stroke="rgb(159,159,159)" stroke-width="0.78" stroke-linejoin="round"/>
<polygon points="232.99,328.69 242.57,327.73 245.55,328.18 244.15,335.17 237.75,338.24 231.18,334.03" fill="url(#rgC)" stroke="rgb(152,152,152)" stroke-width="0.86" stroke-linejoin="round"/>
<polygon points="207.69,319.53 216.47,325.58 224.76,323.12 221.79,315.39 221.63,314.18" fill="url(#rgC)" stroke="rgb(143,143,143)" stroke-width="1.29" stroke-linejoin="round"/>
<polygon points="265.81,329.16 274.72,328.08 266.07,318.46 260.53,320.87 260.07,326.33" fill="url(#rgC)" stroke="rgb(145,145,145)" stroke-width="0.83" stroke-linejoin="round"/>
<polygon points="229.11,287.41 234.75,281.2 207.39,267.87 223.85,285.9" fill="url(#rgC)" stroke="rgb(129,129,129)" stroke-width="1.1" stroke-linejoin="round"/>
<polygon points="275.83,286.89 278.73,280.36 293.01,281.87 291.87,291.67" fill="url(#rgC)" stroke="rgb(129,129,129)" stroke-width="0.91" stroke-linejoin="round"/>
<polygon points="245.15,334.63 256.54,336.55 262.11,348.89 238.13,338.31 238.37,337.61" fill="url(#rgC)" stroke="rgb(167,167,167)" stroke-width="1.08" stroke-linejoin="round"/>
<polygon points="264.99,330.14 273.23,326.91 280.84,330.21 269.27,337.5 265.22,332.51" fill="url(#rgC)" stroke="rgb(161,161,161)" stroke-width="0.88" stroke-linejoin="round"/>
<polygon points="225.78,322.61 216.64,326.93 218.82,332.41 220.12,332.34 231.35,333.26 234.43,328.7 228.73,323.96" fill="url(#rgC)" stroke="rgb(154,154,154)" stroke-width="1.2" stroke-linejoin="round"/>
<polygon points="257.46,311.66 255.36,302.33 243.47,305.32 245.39,313.38" fill="url(#rgB)" stroke="rgb(164,164,164)" stroke-width="1.03" stroke-linejoin="round"/>
<polygon points="208.32,304.68 219.84,303.19 230.52,308.98 230.81,309.99 225.74,314.86 222.05,313.94 221.3,315.24" fill="url(#rgB)" stroke="rgb(141,141,141)" stroke-width="1.23" stroke-linejoin="round"/>
</g>
<g filter="url(#pore)">
<rect x="221" y="272.3" width="75" height="8.5" fill="rgb(80,80,80)" />
<ellipse cx="237.5" cy="287.5" rx="4" ry="3" fill="rgb(15,15,15)"/>
<ellipse cx="233" cy="300" rx="8.5" ry="4.5" fill="rgb(8,8,8)"/>
<ellipse cx="251.5" cy="297.5" rx="8" ry="7" fill="rgb(25,25,25)"/>
<ellipse cx="274.5" cy="282.5" rx="6" ry="4" fill="rgb(10,10,10)"/>
<ellipse cx="292" cy="284.5" rx="5.5" ry="8" fill="rgb(30,30,30)"/>
<ellipse cx="279" cy="294" rx="5.5" ry="4.5" fill="rgb(35,35,35)"/>
<ellipse cx="234.5" cy="324" rx="7" ry="7.5" fill="rgb(5,5,5)"/>
<ellipse cx="247.5" cy="319" rx="8" ry="8.5" fill="rgb(10,10,10)"/>
<ellipse cx="231" cy="308.5" rx="4.5" ry="3" fill="rgb(35,35,35)"/>
<ellipse cx="272" cy="325.5" rx="4.5" ry="4" fill="rgb(10,10,10)"/>
<ellipse cx="263.5" cy="311.5" rx="5" ry="6" fill="rgb(55,55,55)"/>
<ellipse cx="293.5" cy="303" rx="4" ry="7.5" fill="rgb(45,45,45)"/>
</g>
<g filter="url(#b05)">
<path d="M219,293 C220.5,292.67 224.5,290.83 228,291 C231.5,291.17 236,294.33 240,294 C244,293.67 247.83,290.17 252,289 C256.17,287.83 260.33,287 265,287 C269.67,287 274.5,289.17 280,289 C285.5,288.83 295,286.5 298,286" fill="none" stroke="rgb(175,175,175)" stroke-width="1" stroke-linecap="round"/>
<path d="M219,311 C220.67,310.67 225.5,308.83 229,309 C232.5,309.17 236.17,312.5 240,312 C243.83,311.5 248.33,307.67 252,306 C255.67,304.33 258.17,302.83 262,302 C265.83,301.17 269,302 275,301 C281,300 294.17,296.83 298,296" fill="none" stroke="rgb(170,170,170)" stroke-width="1" stroke-linecap="round"/>
<path d="M226,336 C226.17,333.67 226.17,325.5 227,322 C227.83,318.5 228.83,316.67 231,315 C233.17,313.33 237.5,310.83 240,312 C242.5,313.17 244,318 246,322 C248,326 251,333.67 252,336" fill="none" stroke="rgb(150,150,150)" stroke-width="0.9" stroke-linecap="round"/>
<path d="M262,325 C263.33,323.83 267,319.83 270,318 C273,316.17 276.67,314.83 280,314 C283.33,313.17 287,313.33 290,313 C293,312.67 296.67,312.17 298,312" fill="none" stroke="rgb(180,180,180)" stroke-width="1.2" stroke-linecap="round"/>
<path d="M221,283 C223.33,282.83 230.83,281.83 235,282 C239.17,282.17 242.17,284.17 246,284 C249.83,283.83 256,281.5 258,281" fill="none" stroke="rgb(150,150,150)" stroke-width="0.8" stroke-linecap="round"/>
<path d="M268,277 C269.33,277.17 272.33,278.17 276,278 C279.67,277.83 286.33,276.17 290,276 C293.67,275.83 296.67,276.83 298,277" fill="none" stroke="rgb(160,160,160)" stroke-width="0.8" stroke-linecap="round"/>
</g>
<g filter="url(#b03)">
<path d="M289.53,317.03 C290.98,316.84 294.5,316.85 298.23,315.89 C301.95,314.93 309.6,312.05 311.88,311.28" fill="none" stroke="rgb(172,172,172)" stroke-width="0.77" stroke-linecap="round"/>
<path d="M235.22,311.5 C236.87,311.79 242.52,312.83 245.15,313.23 C247.79,313.63 250.07,313.78 251.05,313.89" fill="none" stroke="rgb(170,170,170)" stroke-width="0.64" stroke-linecap="round"/>
<path d="M272.45,304.47 C273.15,304.28 275.17,303.05 276.67,303.31 C278.17,303.57 280.66,305.59 281.46,306.04" fill="none" stroke="rgb(153,153,153)" stroke-width="0.65" stroke-linecap="round"/>
<path d="M221.34,323.27 C221.98,322.88 223.62,321.03 225.16,320.96 C226.71,320.88 229.7,322.51 230.61,322.83" fill="none" stroke="rgb(188,188,188)" stroke-width="0.72" stroke-linecap="round"/>
<path d="M218.88,327.37 C220.12,326.72 224.12,323.99 226.31,323.47 C228.49,322.96 231.04,324.15 231.99,324.29" fill="none" stroke="rgb(174,174,174)" stroke-width="0.69" stroke-linecap="round"/>
<path d="M251.64,336.19 C253.91,336.22 261.48,336.9 265.21,336.41 C268.94,335.92 272.57,333.76 274.04,333.23" fill="none" stroke="rgb(168,168,168)" stroke-width="0.65" stroke-linecap="round"/>
<path d="M226.36,304.45 C228.51,304.66 234.86,306.12 239.3,305.71 C243.75,305.3 250.75,302.59 253.04,301.96" fill="none" stroke="rgb(216,216,216)" stroke-width="0.63" stroke-linecap="round"/>
<path d="M272.78,283.16 C273.76,282.99 276.88,282.14 278.66,282.14 C280.44,282.15 282.67,283.03 283.47,283.21" fill="none" stroke="rgb(160,160,160)" stroke-width="0.63" stroke-linecap="round"/>
<path d="M284.6,319.42 C286.86,319.5 293.57,320.46 298.19,319.87 C302.82,319.28 309.99,316.57 312.35,315.91" fill="none" stroke="rgb(194,194,194)" stroke-width="0.67" stroke-linecap="round"/>
<path d="M259.36,286.72 C261.36,286.36 267.4,285.31 271.38,284.53 C275.36,283.74 281.25,282.43 283.23,282.01" fill="none" stroke="rgb(169,169,169)" stroke-width="0.95" stroke-linecap="round"/>
<path d="M249.63,334.58 C251.12,334.12 254.61,331.84 258.57,331.79 C262.52,331.74 270.9,333.86 273.36,334.28" fill="none" stroke="rgb(207,207,207)" stroke-width="0.7" stroke-linecap="round"/>
<path d="M220.25,295.15 C221.73,295.2 226.94,294.75 229.1,295.44 C231.26,296.13 232.54,298.66 233.23,299.3" fill="none" stroke="rgb(157,157,157)" stroke-width="0.79" stroke-linecap="round"/>
<path d="M275.63,314.66 C277.77,315.71 284.32,319.64 288.48,320.95 C292.64,322.27 298.58,322.29 300.6,322.56" fill="none" stroke="rgb(171,171,171)" stroke-width="0.89" stroke-linecap="round"/>
<path d="M233.09,296.79 C233.71,296.71 234.6,296.66 236.81,296.27 C239.02,295.88 244.76,294.75 246.35,294.44" fill="none" stroke="rgb(210,210,210)" stroke-width="0.63" stroke-linecap="round"/>
<path d="M285.35,304.7 C286.16,304.65 288.44,304.98 290.22,304.41 C292,303.84 295.06,301.8 296.02,301.28" fill="none" stroke="rgb(183,183,183)" stroke-width="0.85" stroke-linecap="round"/>
<path d="M290.09,306.19 C291.83,305.59 297.87,302.84 300.5,302.58 C303.13,302.32 304.96,304.3 305.85,304.64" fill="none" stroke="rgb(166,166,166)" stroke-width="0.54" stroke-linecap="round"/>
<path d="M261.26,297.17 C262.58,296.85 265.6,296.32 269.18,295.28 C272.77,294.25 280.51,291.7 282.78,290.98" fill="none" stroke="rgb(205,205,205)" stroke-width="0.69" stroke-linecap="round"/>
<path d="M235.79,295.33 C237.49,295.24 243.03,295.18 246,294.77 C248.96,294.36 252.32,293.2 253.59,292.88" fill="none" stroke="rgb(154,154,154)" stroke-width="0.57" stroke-linecap="round"/>
<path d="M293.62,307.27 C295.61,307.3 301.88,308.23 305.58,307.47 C309.28,306.71 314.11,303.52 315.82,302.72" fill="none" stroke="rgb(152,152,152)" stroke-width="0.59" stroke-linecap="round"/>
<path d="M239.7,298.18 C241.4,298.1 247.52,297.57 249.93,297.71 C252.34,297.84 253.47,298.76 254.18,298.97" fill="none" stroke="rgb(151,151,151)" stroke-width="0.55" stroke-linecap="round"/>
<path d="M247.33,314.89 C249.25,314.41 254.72,313.08 258.85,312.03 C262.99,310.97 269.91,309.15 272.12,308.57" fill="none" stroke="rgb(208,208,208)" stroke-width="0.8" stroke-linecap="round"/>
<path d="M295.58,323.14 C296.75,323.18 301.21,323 302.58,323.42 C303.95,323.83 303.61,325.27 303.82,325.65" fill="none" stroke="rgb(195,195,195)" stroke-width="0.79" stroke-linecap="round"/>
<path d="M289.85,327.7 C291.88,328.45 297.89,331.12 302.03,332.23 C306.17,333.33 312.56,333.97 314.67,334.32" fill="none" stroke="rgb(217,217,217)" stroke-width="0.64" stroke-linecap="round"/>
<path d="M252.29,293.52 C253.71,292.96 257.65,290.76 260.81,290.19 C263.97,289.62 269.49,290.13 271.22,290.12" fill="none" stroke="rgb(178,178,178)" stroke-width="0.58" stroke-linecap="round"/>
<path d="M295.05,306.35 C297.01,306.87 303.75,308.9 306.82,309.48 C309.89,310.06 312.36,309.77 313.47,309.83" fill="none" stroke="rgb(155,155,155)" stroke-width="0.91" stroke-linecap="round"/>
<path d="M260.84,312.48 C263.4,311.82 271.91,309.34 276.19,308.55 C280.48,307.77 284.82,307.88 286.55,307.74" fill="none" stroke="rgb(211,211,211)" stroke-width="0.77" stroke-linecap="round"/>
<path d="M269.28,309.42 C270.95,309.47 276.52,309.04 279.31,309.73 C282.11,310.43 284.93,312.95 286.05,313.59" fill="none" stroke="rgb(183,183,183)" stroke-width="0.79" stroke-linecap="round"/>
<path d="M273.15,313.44 C273.43,314 273.48,316.6 274.83,316.78 C276.17,316.97 280.17,314.93 281.24,314.55" fill="none" stroke="rgb(162,162,162)" stroke-width="0.97" stroke-linecap="round"/>
<path d="M258.91,332.88 C260.09,333.44 262.65,335.11 265.96,336.26 C269.27,337.41 276.63,339.21 278.76,339.8" fill="none" stroke="rgb(186,186,186)" stroke-width="0.62" stroke-linecap="round"/>
<path d="M273.35,285.91 C273.89,286.26 274.53,287.92 276.62,288 C278.7,288.08 284.33,286.67 285.87,286.4" fill="none" stroke="rgb(206,206,206)" stroke-width="0.61" stroke-linecap="round"/>
<path d="M235.89,317.14 C237.9,317.2 243.99,316.64 247.98,317.5 C251.97,318.36 257.86,321.48 259.84,322.28" fill="none" stroke="rgb(158,158,158)" stroke-width="0.98" stroke-linecap="round"/>
<path d="M228.1,302.18 C230.1,301.3 236.67,298.09 240.13,296.88 C243.58,295.66 247.38,295.22 248.84,294.89" fill="none" stroke="rgb(152,152,152)" stroke-width="0.62" stroke-linecap="round"/>
<path d="M235.44,305.24 C236.86,305.61 240.87,306.5 243.94,307.46 C247.02,308.41 252.25,310.36 253.91,310.94" fill="none" stroke="rgb(157,157,157)" stroke-width="0.64" stroke-linecap="round"/>
<path d="M281.01,288.88 C282.41,289.06 287.47,289.94 289.39,289.97 C291.3,290 291.98,289.2 292.5,289.04" fill="none" stroke="rgb(182,182,182)" stroke-width="0.89" stroke-linecap="round"/>
</g>
<rect x="221" y="272.3" width="75" height="63.2" filter="url(#noiseD)" opacity="0.35"/>
<rect x="221" y="272.3" width="75" height="63.2" filter="url(#noiseL)" opacity="0.3"/>
</g>
<g clip-path="url(#clip_br)">
<rect x="298.2" y="272.3" width="74.8" height="63.2" fill="#7a7a7a" />
<g filter="url(#warpD)">
<polygon points="372.35,276.91 369.17,271.75 364.69,273.71 364.35,276.53 370.42,278.37" fill="rgb(124,124,124)" stroke="rgb(172,172,172)" stroke-width="0.69" stroke-linejoin="round"/>
<polygon points="295.79,310.29 298.18,310 299.47,308.78 294.87,306.87 288.56,309.6 289.4,310.96" fill="rgb(85,85,85)" stroke="rgb(183,183,183)" stroke-width="0.81" stroke-linejoin="round"/>
<polygon points="294.38,309.34 295.13,309.25 295.54,308.87 294.09,308.27 292.11,309.13 292.38,309.55" fill="rgb(41,41,41)" stroke="rgb(41,41,41)" stroke-width="0.8" stroke-linejoin="round"/>
<polygon points="362.02,317.84 365.66,320.9 364.51,326.62 364.48,327.69 356.24,329.45 353.35,329.12 355.15,323.45 354.33,322.69 363.51,316.96" fill="rgb(91,91,91)" stroke="rgb(173,173,173)" stroke-width="0.83" stroke-linejoin="round"/>
<polygon points="361.49,322.05 362.98,323.3 362.51,325.65 362.5,326.09 359.12,326.81 357.94,326.67 358.67,324.35 358.34,324.04 362.1,321.69" fill="rgb(43,43,43)" stroke="rgb(43,43,43)" stroke-width="0.8" stroke-linejoin="round"/>
<polygon points="317.17,336.52 316.17,341.52 324.72,342.05 324.52,334.05" fill="rgb(123,123,123)" stroke="rgb(159,159,159)" stroke-width="0.7" stroke-linejoin="round"/>
<polygon points="319.14,337.88 318.68,340.17 322.61,340.41 322.51,336.74" fill="rgb(12,12,12)" stroke="rgb(12,12,12)" stroke-width="0.8" stroke-linejoin="round"/>
<polygon points="319.86,329.18 327.55,325.59 331.57,327.64 330.08,329.77 319.22,331.83" fill="rgb(95,95,95)" stroke="rgb(172,172,172)" stroke-width="0.61" stroke-linejoin="round"/>
<polygon points="322.56,328.82 327.1,326.69 329.47,327.9 328.6,329.17 322.18,330.38" fill="rgb(12,12,12)" stroke="rgb(12,12,12)" stroke-width="0.8" stroke-linejoin="round"/>
<polygon points="348.55,298.07 343.17,306.52 348.3,308.48 351.72,305.5 352.48,301.32 353.93,302.41" fill="rgb(86,86,86)" stroke="rgb(169,169,169)" stroke-width="0.52" stroke-linejoin="round"/>
<polygon points="349.16,300.21 346.01,305.16 349.02,306.31 351.02,304.57 351.46,302.12 352.31,302.76" fill="rgb(36,36,36)" stroke="rgb(36,36,36)" stroke-width="0.8" stroke-linejoin="round"/>
<polygon points="327.38,285.57 326.11,282.63 324.7,281.75 320.47,287.73 319.84,288.98 322.01,290.48 323.6,290.7" fill="rgb(111,111,111)" stroke="rgb(183,183,183)" stroke-width="0.82" stroke-linejoin="round"/>
<polygon points="336.16,325.45 331.73,327.94 326.95,326.7 320.12,323.52 318.96,322.09 323.28,318.85" fill="rgb(124,124,124)" stroke="rgb(163,163,163)" stroke-width="0.54" stroke-linejoin="round"/>
<polygon points="331.91,325.1 329.3,326.57 326.47,325.84 322.44,323.96 321.76,323.12 324.31,321.21" fill="rgb(25,25,25)" stroke="rgb(25,25,25)" stroke-width="0.8" stroke-linejoin="round"/>
<polygon points="333.81,313.51 338.65,318.7 339.62,319.42 343.04,318.02 337.15,307.4 332.83,307.48" fill="rgb(101,101,101)" stroke="rgb(191,191,191)" stroke-width="0.82" stroke-linejoin="round"/>
<polygon points="354.48,294.81 350.28,286.97 350.8,287.67 354.16,287.34 362.86,290.5 363.47,291.84 360.37,295.08" fill="rgb(100,100,100)" stroke="rgb(170,170,170)" stroke-width="0.56" stroke-linejoin="round"/>
<polygon points="354.83,292.62 352.6,288.44 352.88,288.82 354.66,288.64 359.29,290.32 359.62,291.04 357.97,292.76" fill="rgb(23,23,23)" stroke="rgb(23,23,23)" stroke-width="0.8" stroke-linejoin="round"/>
<polygon points="326.33,312.55 327.49,315.84 337.78,319.07 335.75,313.73" fill="rgb(107,107,107)" stroke="rgb(171,171,171)" stroke-width="0.86" stroke-linejoin="round"/>
<polygon points="330.73,266.95 329.06,278.95 323.14,273.51 323.64,268.44" fill="rgb(110,110,110)" stroke="rgb(165,165,165)" stroke-width="0.58" stroke-linejoin="round"/>
<polygon points="300.03,316.25 303.19,315.08 299.23,310.98 295.43,311.6" fill="rgb(102,102,102)" stroke="rgb(156,156,156)" stroke-width="0.61" stroke-linejoin="round"/>
<polygon points="299.02,314.41 300.05,314.03 298.76,312.7 297.53,312.9" fill="rgb(39,39,39)" stroke="rgb(39,39,39)" stroke-width="0.8" stroke-linejoin="round"/>
<polygon points="305.3,313.41 307.21,314.79 310.75,315.19 316.15,309.14 316.11,306.02 305.35,307.65" fill="rgb(123,123,123)" stroke="rgb(190,190,190)" stroke-width="0.91" stroke-linejoin="round"/>
<polygon points="377.35,303.1 379.34,304.67 384.66,304.95 401.93,299.94 376.56,302.46" fill="rgb(98,98,98)" stroke="rgb(192,192,192)" stroke-width="0.97" stroke-linejoin="round"/>
<polygon points="385.36,306.56 379.55,312.3 374.56,309.94 379.2,305.18" fill="rgb(80,80,80)" stroke="rgb(182,182,182)" stroke-width="0.55" stroke-linejoin="round"/>
<polygon points="354.91,275.45 350.56,273.51 347.9,275.75 347.31,276.97 353.9,275.83" fill="rgb(107,107,107)" stroke="rgb(177,177,177)" stroke-width="0.6" stroke-linejoin="round"/>
<polygon points="353.13,275.64 351.14,274.76 349.93,275.78 349.66,276.34 352.67,275.82" fill="rgb(22,22,22)" stroke="rgb(22,22,22)" stroke-width="0.8" stroke-linejoin="round"/>
<polygon points="304.82,306.92 302.71,305.8 304.84,300.6 311.12,299.64 312.23,300.24 314.34,299.98 314.69,303.91 315.95,304.43" fill="rgb(125,125,125)" stroke="rgb(182,182,182)" stroke-width="0.77" stroke-linejoin="round"/>
<polygon points="340.71,320.24 336.99,323.78 354.86,323.04 355.42,323.5 350,318.78 342.1,316.83 343.26,316.53" fill="rgb(111,111,111)" stroke="rgb(187,187,187)" stroke-width="0.87" stroke-linejoin="round"/>
<polygon points="344.31,319.73 343.12,320.86 348.82,320.62 349,320.77 347.27,319.26 344.75,318.64 345.12,318.55" fill="rgb(21,21,21)" stroke="rgb(21,21,21)" stroke-width="0.8" stroke-linejoin="round"/>
<polygon points="302.25,302.39 295.08,305.74 298.62,310.56 303.63,305.96 303.51,301.62" fill="rgb(113,113,113)" stroke="rgb(182,182,182)" stroke-width="0.58" stroke-linejoin="round"/>
<polygon points="330.74,293.04 328.66,299.19 330.27,300.98 331.47,300.4 330.45,301.58 337.55,291.86 333.02,291.92" fill="rgb(116,116,116)" stroke="rgb(171,171,171)" stroke-width="0.85" stroke-linejoin="round"/>
<polygon points="330.74,295.53 329.79,298.32 330.52,299.13 331.07,298.87 330.6,299.41 333.82,295 331.77,295.03" fill="rgb(27,27,27)" stroke="rgb(27,27,27)" stroke-width="0.8" stroke-linejoin="round"/>
<polygon points="364.65,326.53 363.56,326.27 364.87,327.85 378.34,330.84 380.53,323.12" fill="rgb(90,90,90)" stroke="rgb(177,177,177)" stroke-width="0.93" stroke-linejoin="round"/>
<polygon points="367.06,326.55 366.54,326.43 367.17,327.19 373.67,328.63 374.73,324.9" fill="rgb(22,22,22)" stroke="rgb(22,22,22)" stroke-width="0.8" stroke-linejoin="round"/>
<polygon points="310.05,326.14 318.81,324.32 320.33,321.81 319.98,321.97 314.15,316.77 310.34,315.61 307.19,316.29 308.07,317.51 309.12,322.04" fill="rgb(126,126,126)" stroke="rgb(172,172,172)" stroke-width="0.84" stroke-linejoin="round"/>
<polygon points="353.54,275.74 353.68,275.78 350.54,288.17 349.09,288.16 349.2,286.75 345.28,285.93 348.91,277.79" fill="rgb(114,114,114)" stroke="rgb(154,154,154)" stroke-width="0.68" stroke-linejoin="round"/>
<polygon points="303.26,328.36 302.81,330.82 291.82,332.93 290.66,333.35 296.94,327.77 299.85,326.46" fill="rgb(113,113,113)" stroke="rgb(193,193,193)" stroke-width="0.61" stroke-linejoin="round"/>
<polygon points="303.4,313.46 301.53,314.82 299.64,309.06 300.35,310.61 304.3,305.57 304.14,308.34" fill="rgb(106,106,106)" stroke="rgb(186,186,186)" stroke-width="0.7" stroke-linejoin="round"/>
<polygon points="304.43,327.54 303.86,324.75 301.11,324.56 299.04,325.76 303.39,328.59" fill="rgb(94,94,94)" stroke="rgb(147,147,147)" stroke-width="0.53" stroke-linejoin="round"/>
<polygon points="302.06,287.03 303.48,286.43 305.3,284.72 306.46,286.08 307.22,281.55 305.34,276.9 289.3,279.7 291.13,282.62 295.16,285.96" fill="rgb(97,97,97)" stroke="rgb(187,187,187)" stroke-width="0.61" stroke-linejoin="round"/>
<polygon points="305.13,328.23 310.62,326.13 309.22,325.52 308.87,323.88 304.24,326.21" fill="rgb(94,94,94)" stroke="rgb(189,189,189)" stroke-width="0.55" stroke-linejoin="round"/>
<polygon points="336.62,267.04 325.58,260.94 333.97,225.14 337.22,265.27" fill="rgb(105,105,105)" stroke="rgb(176,176,176)" stroke-width="0.79" stroke-linejoin="round"/>
<polygon points="325.81,308.82 316.75,307.67 315.48,304.4 314.63,304.33 328.61,301.86 330.13,301.97 330.58,306.37" fill="rgb(101,101,101)" stroke="rgb(189,189,189)" stroke-width="0.77" stroke-linejoin="round"/>
<polygon points="323.84,307.32 319.46,306.77 318.84,305.18 318.43,305.15 325.2,303.95 325.93,304.01 326.15,306.14" fill="rgb(26,26,26)" stroke="rgb(26,26,26)" stroke-width="0.8" stroke-linejoin="round"/>
<polygon points="339.66,280.99 346.13,283.58 347.95,286.96 344.8,291.16 343.04,291.74 335.61,286.05 339.63,282.96 341.45,281.62" fill="rgb(106,106,106)" stroke="rgb(161,161,161)" stroke-width="0.85" stroke-linejoin="round"/>
<polygon points="340.33,282.94 343.85,284.34 344.84,286.18 343.13,288.47 342.17,288.78 338.13,285.69 340.32,284.01 341.31,283.28" fill="rgb(15,15,15)" stroke="rgb(15,15,15)" stroke-width="0.8" stroke-linejoin="round"/>
<polygon points="290.79,287.74 290.05,284.26 290.72,282.18 296.91,285.97" fill="rgb(100,100,100)" stroke="rgb(194,194,194)" stroke-width="0.53" stroke-linejoin="round"/>
<polygon points="360.84,280.34 354.38,275.51 351.13,286.66 354.26,285.61 359.71,280.85" fill="rgb(106,106,106)" stroke="rgb(192,192,192)" stroke-width="0.92" stroke-linejoin="round"/>
<polygon points="370.92,345.2 373.99,341.58 382.64,338.2 402.92,344.21 371.63,345.21" fill="rgb(99,99,99)" stroke="rgb(181,181,181)" stroke-width="0.63" stroke-linejoin="round"/>
<polygon points="376.39,344.3 378.17,342.2 383.18,340.24 394.93,343.72 376.8,344.3" fill="rgb(13,13,13)" stroke="rgb(13,13,13)" stroke-width="0.8" stroke-linejoin="round"/>
<polygon points="358.85,271.66 372.68,231.27 349.31,265.2 358.01,272.22" fill="rgb(123,123,123)" stroke="rgb(166,166,166)" stroke-width="0.62" stroke-linejoin="round"/>
<polygon points="358.36,263.87 364.15,246.97 354.38,261.16 358.01,264.1" fill="rgb(26,26,26)" stroke="rgb(26,26,26)" stroke-width="0.8" stroke-linejoin="round"/>
<polygon points="370.64,311.35 371.2,306.22 369.95,299.43 365.59,299.13 365.07,299.19 364.78,306.7 365.15,308.32 368.13,310.08 368.93,309.77" fill="rgb(124,124,124)" stroke="rgb(146,146,146)" stroke-width="0.53" stroke-linejoin="round"/>
<polygon points="368.81,308.85 369.07,306.42 368.48,303.21 366.42,303.07 366.17,303.1 366.03,306.65 366.21,307.42 367.62,308.25 368,308.1" fill="rgb(14,14,14)" stroke="rgb(14,14,14)" stroke-width="0.8" stroke-linejoin="round"/>
<polygon points="354.35,300.38 359.89,295.02 354.2,294.34" fill="rgb(99,99,99)" stroke="rgb(173,173,173)" stroke-width="0.68" stroke-linejoin="round"/>
<polygon points="348.53,310.54 348.34,307.63 352.3,305.12 354.02,305.2 359.74,309.58 357.67,311.78" fill="rgb(85,85,85)" stroke="rgb(161,161,161)" stroke-width="0.53" stroke-linejoin="round"/>
<polygon points="377.89,312.44 388.1,317.65 380.58,321.78 372.7,320.24 375.1,318.02" fill="rgb(97,97,97)" stroke="rgb(148,148,148)" stroke-width="0.82" stroke-linejoin="round"/>
<polygon points="377.59,316 381.94,318.22 378.74,319.99 375.37,319.33 376.4,318.38" fill="rgb(42,42,42)" stroke="rgb(42,42,42)" stroke-width="0.8" stroke-linejoin="round"/>
<polygon points="375.8,272.99 372.09,276.87 367.52,269.54 375.01,265.43 378.45,269.17" fill="rgb(80,80,80)" stroke="rgb(168,168,168)" stroke-width="0.7" stroke-linejoin="round"/>
<polygon points="375.32,271.91 374.01,273.28 372.38,270.68 375.04,269.22 376.27,270.55" fill="rgb(27,27,27)" stroke="rgb(27,27,27)" stroke-width="0.8" stroke-linejoin="round"/>
<polygon points="297.16,298.99 303.75,301.54 295.97,305.9 286.78,308.92 285.04,307.61 296.91,298.92" fill="rgb(121,121,121)" stroke="rgb(158,158,158)" stroke-width="0.54" stroke-linejoin="round"/>
<polygon points="332.69,268.19 332.17,274.73 327.27,276.91 329.09,277.06 329.68,266.68" fill="rgb(127,127,127)" stroke="rgb(188,188,188)" stroke-width="0.82" stroke-linejoin="round"/>
<polygon points="334.35,280.94 338.1,282.44 334.46,286.02 333.91,287.23" fill="rgb(108,108,108)" stroke="rgb(158,158,158)" stroke-width="0.78" stroke-linejoin="round"/>
<polygon points="307.49,269 305.06,265.72 293.57,271.34 289.92,279.81 290.8,278.43 307.3,277.6 306.08,271.76" fill="rgb(126,126,126)" stroke="rgb(159,159,159)" stroke-width="0.92" stroke-linejoin="round"/>
<polygon points="305.58,334.43 307.24,336.51 296.41,338.82 291.27,333.65 303.06,330.57" fill="rgb(114,114,114)" stroke="rgb(160,160,160)" stroke-width="0.63" stroke-linejoin="round"/>
<polygon points="302.51,334.23 303.32,335.25 298.03,336.37 295.51,333.85 301.28,332.34" fill="rgb(19,19,19)" stroke="rgb(19,19,19)" stroke-width="0.8" stroke-linejoin="round"/>
<polygon points="314.74,329.14 316.31,332.1 313.53,332.04 311.86,329.95" fill="rgb(125,125,125)" stroke="rgb(152,152,152)" stroke-width="0.66" stroke-linejoin="round"/>
<polygon points="379.27,312.65 375.05,310.95 368.56,310.62 369.33,311.25 373.27,316.88 379.05,312.77" fill="rgb(90,90,90)" stroke="rgb(191,191,191)" stroke-width="0.81" stroke-linejoin="round"/>
<polygon points="375.38,312.78 373.75,312.13 371.24,312 371.54,312.24 373.06,314.41 375.29,312.83" fill="rgb(15,15,15)" stroke="rgb(15,15,15)" stroke-width="0.8" stroke-linejoin="round"/>
<polygon points="299.15,299.75 302.88,301.53 304.68,302.46 309.84,297.94 310.55,293.71 305.89,285.36 303.52,285.84" fill="rgb(99,99,99)" stroke="rgb(172,172,172)" stroke-width="0.95" stroke-linejoin="round"/>
<polygon points="301.89,297.79 303.83,298.71 304.77,299.2 307.45,296.85 307.82,294.64 305.4,290.3 304.16,290.55" fill="rgb(40,40,40)" stroke="rgb(40,40,40)" stroke-width="0.8" stroke-linejoin="round"/>
<polygon points="303.33,320.83 307.54,316.78 307.35,316.45 304.42,313.63 301.69,314.82 300.25,315.43 296.84,315.1 298.09,319.86 298.54,319.95" fill="rgb(83,83,83)" stroke="rgb(150,150,150)" stroke-width="0.72" stroke-linejoin="round"/>
<polygon points="319.45,289.35 310.02,294.63 309.3,298.59 312.45,299.58 322,289.37" fill="rgb(89,89,89)" stroke="rgb(173,173,173)" stroke-width="0.63" stroke-linejoin="round"/>
<polygon points="316.61,291.38 311.64,294.17 311.26,296.25 312.92,296.77 317.95,291.4" fill="rgb(20,20,20)" stroke="rgb(20,20,20)" stroke-width="0.8" stroke-linejoin="round"/>
<polygon points="330.49,294.07 323.78,290.88 330.55,287.96 332.67,288.26 332.17,290.36 331.24,291.98" fill="rgb(107,107,107)" stroke="rgb(164,164,164)" stroke-width="0.94" stroke-linejoin="round"/>
<polygon points="325.5,281.31 312.29,280.57 308.23,281.78 306.68,284.18 319.23,287.06" fill="rgb(115,115,115)" stroke="rgb(168,168,168)" stroke-width="0.9" stroke-linejoin="round"/>
<polygon points="320.28,281.95 312.67,281.52 310.33,282.22 309.43,283.6 316.67,285.27" fill="rgb(10,10,10)" stroke="rgb(10,10,10)" stroke-width="0.8" stroke-linejoin="round"/>
<polygon points="345.44,274.38 341.39,281.32 339.99,280.46 339.69,278.27 344.02,273.86" fill="rgb(118,118,118)" stroke="rgb(184,184,184)" stroke-width="0.5" stroke-linejoin="round"/>
<polygon points="298.24,315.18 297,319.51 294.88,323.19 290.34,319.96 291.97,315.62" fill="rgb(117,117,117)" stroke="rgb(183,183,183)" stroke-width="0.76" stroke-linejoin="round"/>
<polygon points="296.84,316.69 296.16,319.07 295,321.08 292.51,319.31 293.4,316.93" fill="rgb(35,35,35)" stroke="rgb(35,35,35)" stroke-width="0.8" stroke-linejoin="round"/>
<polygon points="366.56,333.5 358.13,338.33 359.44,342.13 363.79,340.36 370.45,335.16" fill="rgb(125,125,125)" stroke="rgb(152,152,152)" stroke-width="0.64" stroke-linejoin="round"/>
<polygon points="312.41,330.29 309.77,328.86 307.61,332.26 313.01,332.38" fill="rgb(97,97,97)" stroke="rgb(184,184,184)" stroke-width="0.57" stroke-linejoin="round"/>
<polygon points="310.84,330.91 309.95,330.43 309.23,331.57 311.04,331.61" fill="rgb(36,36,36)" stroke="rgb(36,36,36)" stroke-width="0.8" stroke-linejoin="round"/>
<polygon points="374.67,274 371.43,275.49 370.4,279.1 370.89,280.73 372.84,283.64 377.37,274.82" fill="rgb(108,108,108)" stroke="rgb(154,154,154)" stroke-width="0.99" stroke-linejoin="round"/>
<polygon points="377.52,302.61 372.31,307.82 369.72,310.51 373.35,309.1 378.73,304.68" fill="rgb(108,108,108)" stroke="rgb(157,157,157)" stroke-width="0.57" stroke-linejoin="round"/>
<polygon points="375.47,304.63 372.91,307.19 371.63,308.52 373.42,307.82 376.07,305.65" fill="rgb(37,37,37)" stroke="rgb(37,37,37)" stroke-width="0.8" stroke-linejoin="round"/>
<polygon points="369.34,336.55 378.97,335.58 381.51,336.78 374.75,340.97 368.11,342.04 365.62,340.87" fill="rgb(99,99,99)" stroke="rgb(184,184,184)" stroke-width="0.52" stroke-linejoin="round"/>
<polygon points="371.33,337.86 375.3,337.46 376.34,337.96 373.56,339.68 370.83,340.12 369.8,339.64" fill="rgb(35,35,35)" stroke="rgb(35,35,35)" stroke-width="0.8" stroke-linejoin="round"/>
<polygon points="348.19,312.48 342.65,316.04 349.89,319.38 357.54,315.17 358.72,314.96" fill="rgb(125,125,125)" stroke="rgb(180,180,180)" stroke-width="0.64" stroke-linejoin="round"/>
<polygon points="349.84,314.66 348.11,315.77 350.38,316.82 352.77,315.5 353.14,315.43" fill="rgb(28,28,28)" stroke="rgb(28,28,28)" stroke-width="0.8" stroke-linejoin="round"/>
<polygon points="306.86,271.83 306.8,277.98 307.54,282.58 313.25,279.12 321.52,276.1 320.17,275.65" fill="rgb(105,105,105)" stroke="rgb(190,190,190)" stroke-width="0.72" stroke-linejoin="round"/>
<polygon points="309.55,274.24 309.52,277.3 309.89,279.59 312.73,277.87 316.85,276.36 316.18,276.14" fill="rgb(12,12,12)" stroke="rgb(12,12,12)" stroke-width="0.8" stroke-linejoin="round"/>
<polygon points="337.35,307.73 341.45,305.23 344.28,304.7 348.75,307.78 348.26,310.52 346.93,311.3 343.83,317.36 341.64,317.69" fill="rgb(115,115,115)" stroke="rgb(183,183,183)" stroke-width="0.91" stroke-linejoin="round"/>
<polygon points="340.4,309.1 342.64,307.74 344.19,307.45 346.63,309.13 346.36,310.62 345.63,311.05 343.94,314.36 342.75,314.54" fill="rgb(21,21,21)" stroke="rgb(21,21,21)" stroke-width="0.8" stroke-linejoin="round"/>
<polygon points="345.41,295.77 341.59,299.53 340.59,305.46 343.26,305.55 348.65,297.03" fill="rgb(118,118,118)" stroke="rgb(164,164,164)" stroke-width="0.63" stroke-linejoin="round"/>
<polygon points="344.91,298.54 343.27,300.15 342.85,302.69 343.99,302.73 346.3,299.08" fill="rgb(43,43,43)" stroke="rgb(43,43,43)" stroke-width="0.8" stroke-linejoin="round"/>
<polygon points="354.42,301.39 353.26,301.54 348.66,298.55 346.04,294.44 346.02,291.91 347.45,287.16 349.09,287.54 355.13,295.42" fill="rgb(112,112,112)" stroke="rgb(189,189,189)" stroke-width="0.97" stroke-linejoin="round"/>
<polygon points="338.6,322.82 355.3,322.55 355.27,329.14 343.41,330.27 338.7,325.07 338.3,324.13" fill="rgb(91,91,91)" stroke="rgb(188,188,188)" stroke-width="0.69" stroke-linejoin="round"/>
<polygon points="341.17,323.97 348.35,323.85 348.34,326.69 343.24,327.17 341.22,324.93 341.04,324.53" fill="rgb(31,31,31)" stroke="rgb(31,31,31)" stroke-width="0.8" stroke-linejoin="round"/>
<polygon points="419.59,284.82 376.02,295.95 373.05,286.05 374.19,285.12 383.84,283.92" fill="rgb(105,105,105)" stroke="rgb(156,156,156)" stroke-width="0.96" stroke-linejoin="round"/>
<polygon points="359.87,310.41 352.53,306.61 362.72,306.05 363.21,306.67" fill="rgb(98,98,98)" stroke="rgb(151,151,151)" stroke-width="0.99" stroke-linejoin="round"/>
<polygon points="364.97,300.11 354.63,302.98 353.59,304.94 352.5,304.94 364.02,306.76" fill="rgb(106,106,106)" stroke="rgb(149,149,149)" stroke-width="0.64" stroke-linejoin="round"/>
<polygon points="336.56,266.7 332.52,267.5 332.65,276.31 336.49,274.73 342.21,267.57 336.06,266.07" fill="rgb(105,105,105)" stroke="rgb(149,149,149)" stroke-width="0.99" stroke-linejoin="round"/>
<polygon points="336.43,267.74 334.05,268.21 334.13,273.41 336.39,272.48 339.77,268.25 336.14,267.37" fill="rgb(15,15,15)" stroke="rgb(15,15,15)" stroke-width="0.8" stroke-linejoin="round"/>
<polygon points="367.14,320.3 375.05,319.15 380.85,322.09 378.86,321.58 365.83,326.05" fill="rgb(121,121,121)" stroke="rgb(186,186,186)" stroke-width="0.88" stroke-linejoin="round"/>
<polygon points="290.87,289.24 289.74,284.2 271.77,297.9 286.52,293.8" fill="rgb(113,113,113)" stroke="rgb(163,163,163)" stroke-width="0.62" stroke-linejoin="round"/>
<polygon points="288.84,289.55 288.26,286.93 278.89,294.07 286.58,291.93" fill="rgb(23,23,23)" stroke="rgb(23,23,23)" stroke-width="0.8" stroke-linejoin="round"/>
<polygon points="299.89,324.21 302.09,319.58 306.79,316.17 308.93,324.22 305.42,324.73" fill="rgb(82,82,82)" stroke="rgb(166,166,166)" stroke-width="0.55" stroke-linejoin="round"/>
<polygon points="302.34,322.72 303.31,320.66 305.4,319.14 306.36,322.72 304.79,322.95" fill="rgb(39,39,39)" stroke="rgb(39,39,39)" stroke-width="0.8" stroke-linejoin="round"/>
<polygon points="289.32,292.62 295.92,297.72 298.92,298.13 303.1,285.99 301.24,287.63" fill="rgb(95,95,95)" stroke="rgb(153,153,153)" stroke-width="0.64" stroke-linejoin="round"/>
<polygon points="365.97,333.44 365.31,327.07 377.91,330.74 378.05,335.83 369.92,334.69" fill="rgb(109,109,109)" stroke="rgb(156,156,156)" stroke-width="0.98" stroke-linejoin="round"/>
<polygon points="286.95,294.47 271.92,298.16 242.03,308.33 286.89,308.69 297.22,298.26 289.7,292.8" fill="rgb(122,122,122)" stroke="rgb(181,181,181)" stroke-width="0.79" stroke-linejoin="round"/>
<polygon points="331.63,288.19 333.09,287.55 336.27,285.4 342.38,291.91 336.53,292.09 332.67,291.13" fill="rgb(109,109,109)" stroke="rgb(147,147,147)" stroke-width="0.74" stroke-linejoin="round"/>
<polygon points="344.33,290.55 343.05,290.31 335.82,290.85 330.25,300.42 342.32,299.3 345.87,294.28" fill="rgb(82,82,82)" stroke="rgb(178,178,178)" stroke-width="0.84" stroke-linejoin="round"/>
<polygon points="358.71,313.16 357.75,314.76 362.64,316.64 362.25,316.63 368.83,310.37 365.03,307.33 358.21,310.85 357.67,313.07" fill="rgb(127,127,127)" stroke="rgb(175,175,175)" stroke-width="0.99" stroke-linejoin="round"/>
<polygon points="326.34,310.19 315.24,318.03 311.64,314.91 314.67,307.22 326.97,309.64" fill="rgb(124,124,124)" stroke="rgb(172,172,172)" stroke-width="0.89" stroke-linejoin="round"/>
<polygon points="375.53,274.93 378.52,274.83 381.66,273.5 382.46,271.51 377.65,268.8" fill="rgb(127,127,127)" stroke="rgb(155,155,155)" stroke-width="0.59" stroke-linejoin="round"/>
<polygon points="378.06,273.87 379.32,273.83 380.64,273.27 380.98,272.43 378.95,271.29" fill="rgb(35,35,35)" stroke="rgb(35,35,35)" stroke-width="0.8" stroke-linejoin="round"/>
<polygon points="321.23,289.28 309.46,295.44 307.25,284.47 305.94,284.71 319.58,287.3" fill="rgb(125,125,125)" stroke="rgb(168,168,168)" stroke-width="0.77" stroke-linejoin="round"/>
<polygon points="316.15,289.27 311.03,291.95 310.07,287.18 309.5,287.28 315.43,288.41" fill="rgb(41,41,41)" stroke="rgb(41,41,41)" stroke-width="0.8" stroke-linejoin="round"/>
<polygon points="344.51,274.2 343.69,266.65 342.25,266.94 335.47,273.93 337.76,277.01" fill="rgb(85,85,85)" stroke="rgb(170,170,170)" stroke-width="0.85" stroke-linejoin="round"/>
<polygon points="295.57,324.29 295.4,322.7 288.89,321.5 257.2,336.06 289.9,334.19 295.32,326.01" fill="rgb(117,117,117)" stroke="rgb(190,190,190)" stroke-width="0.72" stroke-linejoin="round"/>
<polygon points="292.93,326.18 292.83,325.28 289.16,324.61 271.31,332.81 289.74,331.76 292.79,327.15" fill="rgb(37,37,37)" stroke="rgb(37,37,37)" stroke-width="0.8" stroke-linejoin="round"/>
<polygon points="348.45,274.77 344.06,275.73 339.83,282.38 346.51,284.35 348.16,278.61" fill="rgb(127,127,127)" stroke="rgb(181,181,181)" stroke-width="0.53" stroke-linejoin="round"/>
<polygon points="346.47,277.99 344.71,278.38 343.02,281.04 345.69,281.83 346.35,279.53" fill="rgb(21,21,21)" stroke="rgb(21,21,21)" stroke-width="0.8" stroke-linejoin="round"/>
<polygon points="358.25,329.35 356.85,334.74 343.6,340.34 341.99,340.37 343.33,331.2 354.79,328.26" fill="rgb(108,108,108)" stroke="rgb(166,166,166)" stroke-width="0.84" stroke-linejoin="round"/>
<polygon points="354.66,331.45 354.02,333.91 347.96,336.47 347.22,336.48 347.84,332.29 353.07,330.95" fill="rgb(36,36,36)" stroke="rgb(36,36,36)" stroke-width="0.8" stroke-linejoin="round"/>
<polygon points="353.38,301.11 352.37,300.69 353.92,302.82 365.2,299.97 365.62,298.83 362.69,292.21 358.93,294.54" fill="rgb(106,106,106)" stroke="rgb(194,194,194)" stroke-width="0.76" stroke-linejoin="round"/>
<polygon points="296.34,315.02 293.2,316.1 289.89,311.65 296.3,312.32 300.31,314.51" fill="rgb(80,80,80)" stroke="rgb(147,147,147)" stroke-width="0.51" stroke-linejoin="round"/>
<polygon points="295.96,314.66 294.46,315.18 292.89,313.06 295.94,313.38 297.85,314.42" fill="rgb(40,40,40)" stroke="rgb(40,40,40)" stroke-width="0.8" stroke-linejoin="round"/>
<polygon points="324.18,290.82 323.05,296.67 313.9,299.18 312.63,297.92 322.08,290.8 321.47,291.55" fill="rgb(95,95,95)" stroke="rgb(189,189,189)" stroke-width="0.58" stroke-linejoin="round"/>
<polygon points="345.83,313 358.36,314.06 358.64,310.94 348.8,310.56" fill="rgb(122,122,122)" stroke="rgb(169,169,169)" stroke-width="0.72" stroke-linejoin="round"/>
<polygon points="306.51,334.75 295.9,340.73 297.07,339.6 307.7,348.57 310.93,343.12 308.32,336.39" fill="rgb(94,94,94)" stroke="rgb(182,182,182)" stroke-width="1" stroke-linejoin="round"/>
<polygon points="315.31,328.75 317.74,324.03 318.53,322.75 310.82,326.59 309.4,325.97 311.38,329.11 313.77,329.67" fill="rgb(83,83,83)" stroke="rgb(153,153,153)" stroke-width="0.97" stroke-linejoin="round"/>
<polygon points="315.01,327.7 316.3,325.18 316.72,324.5 312.61,326.54 311.86,326.22 312.91,327.89 314.19,328.18" fill="rgb(36,36,36)" stroke="rgb(36,36,36)" stroke-width="0.8" stroke-linejoin="round"/>
<polygon points="358.16,315.42 361.84,317.8 353.97,322.16 350.29,319.29" fill="rgb(126,126,126)" stroke="rgb(191,191,191)" stroke-width="0.88" stroke-linejoin="round"/>
<polygon points="357.56,316.78 359.75,318.2 355.07,320.79 352.89,319.08" fill="rgb(26,26,26)" stroke="rgb(26,26,26)" stroke-width="0.8" stroke-linejoin="round"/>
<polygon points="329.5,293.01 322.38,295.75 329.17,300.58 329.28,292.69" fill="rgb(113,113,113)" stroke="rgb(182,182,182)" stroke-width="0.68" stroke-linejoin="round"/>
<polygon points="304.88,327.09 310.62,326.69 311.02,328.35 309.06,332.57 305.9,332.6 303.08,331.47 302.89,329.04" fill="rgb(125,125,125)" stroke="rgb(164,164,164)" stroke-width="0.52" stroke-linejoin="round"/>
<polygon points="305.4,328.43 308.46,328.22 308.67,329.1 307.62,331.35 305.94,331.37 304.44,330.77 304.33,329.47" fill="rgb(25,25,25)" stroke="rgb(25,25,25)" stroke-width="0.8" stroke-linejoin="round"/>
<polygon points="307.86,268.12 312.55,267.19 321.61,275.29 307.6,273.7" fill="rgb(101,101,101)" stroke="rgb(156,156,156)" stroke-width="1" stroke-linejoin="round"/>
<polygon points="311,270.17 312.74,269.82 316.11,272.83 310.9,272.24" fill="rgb(13,13,13)" stroke="rgb(13,13,13)" stroke-width="0.8" stroke-linejoin="round"/>
<polygon points="322.11,296.8 312.52,298.9 315.52,303.42 329.76,299.89 329,300.05 324.52,297.05" fill="rgb(115,115,115)" stroke="rgb(181,181,181)" stroke-width="0.54" stroke-linejoin="round"/>
<polygon points="321.03,298.53 317.9,299.22 318.87,300.69 323.53,299.54 323.28,299.59 321.82,298.61" fill="rgb(23,23,23)" stroke="rgb(23,23,23)" stroke-width="0.8" stroke-linejoin="round"/>
<polygon points="300.22,326.15 302.28,320.02 298.49,321.26 295.06,322.06 295.69,327.69 300.22,326.99" fill="rgb(97,97,97)" stroke="rgb(163,163,163)" stroke-width="0.51" stroke-linejoin="round"/>
<polygon points="358.96,338.72 355.89,335.68 341.32,341.03 347.73,358.13 359.86,342.89" fill="rgb(107,107,107)" stroke="rgb(155,155,155)" stroke-width="0.91" stroke-linejoin="round"/>
<polygon points="341.31,340.75 343.42,329.82 336.79,325.61 333.52,340.62" fill="rgb(94,94,94)" stroke="rgb(157,157,157)" stroke-width="0.57" stroke-linejoin="round"/>
<polygon points="340.12,337.3 341.06,332.44 338.12,330.57 336.66,337.24" fill="rgb(14,14,14)" stroke="rgb(14,14,14)" stroke-width="0.8" stroke-linejoin="round"/>
<polygon points="367.73,345.08 367.32,342.07 375.02,340.04 371.75,344.88" fill="rgb(99,99,99)" stroke="rgb(162,162,162)" stroke-width="0.66" stroke-linejoin="round"/>
<polygon points="369.82,343.89 369.65,342.64 372.86,341.79 371.5,343.81" fill="rgb(21,21,21)" stroke="rgb(21,21,21)" stroke-width="0.8" stroke-linejoin="round"/>
<polygon points="356.18,329.53 355.33,335.7 358.09,337.46 367.78,332.58 366.82,326.98 364.31,327.97" fill="rgb(80,80,80)" stroke="rgb(167,167,167)" stroke-width="0.76" stroke-linejoin="round"/>
<polygon points="374.39,282.24 374.32,285.76 373.58,287.13 363.95,290.71 353.84,286.29 361.04,282.77 372.77,282.05" fill="rgb(102,102,102)" stroke="rgb(172,172,172)" stroke-width="0.69" stroke-linejoin="round"/>
<polygon points="372.63,283.73 372.59,285.79 372.16,286.59 366.53,288.68 360.63,286.1 364.83,284.04 371.68,283.62" fill="rgb(15,15,15)" stroke="rgb(15,15,15)" stroke-width="0.8" stroke-linejoin="round"/>
<polygon points="290.03,289.39 295.46,285.6 301.99,286.44 290.81,293.32 287.93,294.73" fill="rgb(117,117,117)" stroke="rgb(155,155,155)" stroke-width="0.86" stroke-linejoin="round"/>
<polygon points="292.99,289.73 294.96,288.35 297.33,288.66 293.28,291.15 292.23,291.67" fill="rgb(23,23,23)" stroke="rgb(23,23,23)" stroke-width="0.8" stroke-linejoin="round"/>
<polygon points="338.69,319.25 340.53,318.29 336.52,325.21 336.18,325.04 336.82,324.61 324.04,319.04 326.04,316.41" fill="rgb(117,117,117)" stroke="rgb(180,180,180)" stroke-width="0.61" stroke-linejoin="round"/>
<polygon points="337.34,319.95 338.31,319.44 336.19,323.09 336.01,323 336.35,322.78 329.6,319.83 330.66,318.44" fill="rgb(33,33,33)" stroke="rgb(33,33,33)" stroke-width="0.8" stroke-linejoin="round"/>
<polygon points="328.35,277.67 322.85,273.49 322.41,274.19 314.6,280.83 325.83,281.71 325.98,281.02 327.37,281.03 327.81,277.09" fill="rgb(93,93,93)" stroke="rgb(171,171,171)" stroke-width="0.83" stroke-linejoin="round"/>
<polygon points="370.59,300.1 365.82,300.45 363.55,292.33 364.29,291.04 373.51,286.21 376.57,296.13 375.7,297.84" fill="rgb(101,101,101)" stroke="rgb(145,145,145)" stroke-width="0.64" stroke-linejoin="round"/>
<polygon points="316.04,334.26 315.78,332.71 318.16,333.22 307.99,337.74 307.12,336.32 306.45,333.28 308.13,333.3 312.99,332.11" fill="rgb(127,127,127)" stroke="rgb(182,182,182)" stroke-width="0.83" stroke-linejoin="round"/>
<polygon points="296.3,324.34 294.49,321.47 297.69,317.78 300.47,321.27" fill="rgb(108,108,108)" stroke="rgb(155,155,155)" stroke-width="0.6" stroke-linejoin="round"/>
<polygon points="350.97,273.83 345.97,266.35 343.74,267.97 344.26,274.33 344.77,275.98 346.22,276.48" fill="rgb(117,117,117)" stroke="rgb(159,159,159)" stroke-width="0.57" stroke-linejoin="round"/>
<polygon points="317.77,325.56 318.36,324.79 319.9,322.98 327.35,325.51 319.93,330.29" fill="rgb(118,118,118)" stroke="rgb(186,186,186)" stroke-width="0.77" stroke-linejoin="round"/>
<polygon points="329.65,306.46 329.83,300.73 329.35,302.07 340.41,298.62 341.02,304.56 338.55,306.91 334.51,308.2" fill="rgb(93,93,93)" stroke="rgb(168,168,168)" stroke-width="0.76" stroke-linejoin="round"/>
<polygon points="327.81,312.33 326.79,315.15 323.74,318.89 319.43,320.72 315.73,316.92 326.66,310.82" fill="rgb(117,117,117)" stroke="rgb(188,188,188)" stroke-width="0.67" stroke-linejoin="round"/>
<polygon points="330.92,287.74 328.3,285 323.13,290.45 324.42,291.11 323.5,290.83" fill="rgb(94,94,94)" stroke="rgb(186,186,186)" stroke-width="0.67" stroke-linejoin="round"/>
<polygon points="372.01,279.66 372.98,280.74 359.89,281.56 359.69,278.77 363.61,275.43" fill="rgb(83,83,83)" stroke="rgb(156,156,156)" stroke-width="0.96" stroke-linejoin="round"/>
<polygon points="355.88,273.32 358.38,270.27 349.7,263.77 347.77,267.53 349.68,273.29" fill="rgb(119,119,119)" stroke="rgb(148,148,148)" stroke-width="0.94" stroke-linejoin="round"/>
<polygon points="352.99,271.7 353.87,270.63 350.8,268.32 350.12,269.65 350.79,271.69" fill="rgb(14,14,14)" stroke="rgb(14,14,14)" stroke-width="0.8" stroke-linejoin="round"/>
<polygon points="317.39,333.42 308.53,338.62 310.47,343.8 315.62,339.45 316.92,334.88" fill="rgb(119,119,119)" stroke="rgb(164,164,164)" stroke-width="0.69" stroke-linejoin="round"/>
<polygon points="315.03,335.58 311.06,337.91 311.93,340.23 314.24,338.28 314.82,336.23" fill="rgb(21,21,21)" stroke="rgb(21,21,21)" stroke-width="0.8" stroke-linejoin="round"/>
<polygon points="340.18,280.32 338.21,280.59 333.72,280.81 328,279.82 327.52,278.43 332.98,275.75 336.67,275.81 339.42,276.46" fill="rgb(91,91,91)" stroke="rgb(160,160,160)" stroke-width="0.98" stroke-linejoin="round"/>
<polygon points="337.55,279.19 336.79,279.3 335.05,279.39 332.84,279 332.66,278.47 334.76,277.43 336.19,277.46 337.25,277.71" fill="rgb(24,24,24)" stroke="rgb(24,24,24)" stroke-width="0.8" stroke-linejoin="round"/>
<polygon points="329.89,292.53 324.2,296.12 321.78,295.64 323.5,290.93 323.08,290.26" fill="rgb(94,94,94)" stroke="rgb(176,176,176)" stroke-width="0.88" stroke-linejoin="round"/>
<polygon points="327.02,292.85 324.22,294.62 323.03,294.38 323.87,292.06 323.67,291.73" fill="rgb(19,19,19)" stroke="rgb(19,19,19)" stroke-width="0.8" stroke-linejoin="round"/>
<polygon points="354.44,274.47 358.75,270.76 361.06,271.35 362.97,272.07 364.66,276.1 361.75,280.46 355.88,277.15 354.41,275.03" fill="rgb(104,104,104)" stroke="rgb(193,193,193)" stroke-width="0.73" stroke-linejoin="round"/>
<polygon points="356.82,274.22 359.19,272.17 360.47,272.5 361.52,272.9 362.44,275.11 360.84,277.51 357.62,275.69 356.81,274.53" fill="rgb(36,36,36)" stroke="rgb(36,36,36)" stroke-width="0.8" stroke-linejoin="round"/>
<polygon points="319.05,331.29 328.85,329.5 327.86,333.64 324.43,335.92 317.98,334.53 317.23,335.09 315.94,333.38" fill="rgb(104,104,104)" stroke="rgb(188,188,188)" stroke-width="0.97" stroke-linejoin="round"/>
<polygon points="320.29,332.18 324.84,331.35 324.38,333.27 322.79,334.33 319.79,333.68 319.44,333.94 318.84,333.15" fill="rgb(38,38,38)" stroke="rgb(38,38,38)" stroke-width="0.8" stroke-linejoin="round"/>
<polygon points="377.22,301.78 370.51,308.15 371.17,299.08 375.73,298.66 378.12,301.75" fill="rgb(117,117,117)" stroke="rgb(172,172,172)" stroke-width="0.68" stroke-linejoin="round"/>
<polygon points="330.13,287.62 328.21,286.24 325.67,280.78 328.77,280.23 334.35,283.25 333.71,285.86 332.13,288.05" fill="rgb(113,113,113)" stroke="rgb(146,146,146)" stroke-width="0.72" stroke-linejoin="round"/>
<polygon points="379.05,274.19 373.14,283.95 374.64,284.74 386.02,283.19 380.46,274.67" fill="rgb(86,86,86)" stroke="rgb(187,187,187)" stroke-width="0.7" stroke-linejoin="round"/>
<polygon points="373.89,317.66 374.04,318.98 366.61,322.17 362.53,316.19 369.75,310.4 370.14,311.77" fill="rgb(88,88,88)" stroke="rgb(170,170,170)" stroke-width="0.75" stroke-linejoin="round"/>
<polygon points="315.41,327.97 316.8,324.01 320.54,329.77 318.95,331.58 317.9,334.65 315.49,334.27" fill="rgb(98,98,98)" stroke="rgb(193,193,193)" stroke-width="0.74" stroke-linejoin="round"/>
<polygon points="336.47,323.35 337.8,324.85 332.45,339.46 334.28,340.26 327.69,332.97 329.56,328.82 332.02,326.66 336.69,324.27" fill="rgb(109,109,109)" stroke="rgb(167,167,167)" stroke-width="0.94" stroke-linejoin="round"/>
<polygon points="328.3,333.83 332.97,340.53 325.43,344.49 322.56,341.43 324.92,334.24" fill="rgb(101,101,101)" stroke="rgb(151,151,151)" stroke-width="0.77" stroke-linejoin="round"/>
<polygon points="327.56,311.32 335.92,314.68 334.27,306.14 330.67,305.23 327.77,309.72 325.96,309.82" fill="rgb(81,81,81)" stroke="rgb(155,155,155)" stroke-width="0.66" stroke-linejoin="round"/>
<polygon points="323.45,266.82 323.4,273.95 321.25,275.66 320.96,273.83 314.51,269.2 322.73,266.41" fill="rgb(86,86,86)" stroke="rgb(153,153,153)" stroke-width="0.97" stroke-linejoin="round"/>
<polygon points="322.09,268.53 322.06,272.62 320.83,273.6 320.67,272.54 316.97,269.89 321.68,268.29" fill="rgb(21,21,21)" stroke="rgb(21,21,21)" stroke-width="0.8" stroke-linejoin="round"/>
<polygon points="335.73,266.63 333.02,266.15 330.03,268.11 324.48,266.49 322.06,264.7 325.29,259.91" fill="rgb(119,119,119)" stroke="rgb(161,161,161)" stroke-width="0.61" stroke-linejoin="round"/>
</g>
<g filter="url(#pore)">
<ellipse cx="300.5" cy="281.5" rx="1.65" ry="2.31" fill="rgb(30,30,30)"/>
<ellipse cx="306.5" cy="286" rx="1.65" ry="1.32" fill="rgb(40,40,40)"/>
<ellipse cx="310" cy="292.5" rx="1.32" ry="1.65" fill="rgb(35,35,35)"/>
<ellipse cx="310" cy="300.5" rx="2.64" ry="2.31" fill="rgb(20,20,20)"/>
<ellipse cx="326.5" cy="298" rx="2.97" ry="2.64" fill="rgb(30,30,30)"/>
<ellipse cx="332" cy="301.5" rx="2.64" ry="1.65" fill="rgb(40,40,40)"/>
<ellipse cx="342" cy="279.5" rx="1.98" ry="1.65" fill="rgb(30,30,30)"/>
<ellipse cx="351" cy="288.5" rx="1.32" ry="2.31" fill="rgb(20,20,20)"/>
<ellipse cx="358.5" cy="293.5" rx="2.31" ry="1.65" fill="rgb(15,15,15)"/>
<ellipse cx="365" cy="286.5" rx="1.32" ry="1.65" fill="rgb(35,35,35)"/>
<ellipse cx="339" cy="301.5" rx="1.98" ry="1.65" fill="rgb(30,30,30)"/>
<ellipse cx="369.5" cy="299.5" rx="2.97" ry="2.97" fill="rgb(35,35,35)"/>
<ellipse cx="300.5" cy="306" rx="1.65" ry="1.32" fill="rgb(35,35,35)"/>
<ellipse cx="315.5" cy="308.5" rx="1.65" ry="1.65" fill="rgb(30,30,30)"/>
<ellipse cx="324.5" cy="310" rx="2.31" ry="2.64" fill="rgb(25,25,25)"/>
<ellipse cx="332" cy="317" rx="2.64" ry="1.98" fill="rgb(35,35,35)"/>
<ellipse cx="324.5" cy="326" rx="1.65" ry="1.98" fill="rgb(20,20,20)"/>
<ellipse cx="333.5" cy="330.5" rx="1.65" ry="2.31" fill="rgb(30,30,30)"/>
<ellipse cx="338.5" cy="322.5" rx="1.65" ry="2.31" fill="rgb(20,20,20)"/>
<ellipse cx="352.5" cy="319.5" rx="2.31" ry="2.97" fill="rgb(25,25,25)"/>
<ellipse cx="363" cy="317.5" rx="1.32" ry="1.65" fill="rgb(15,15,15)"/>
<ellipse cx="343.5" cy="330" rx="1.65" ry="1.98" fill="rgb(25,25,25)"/>
<ellipse cx="371" cy="324.5" rx="1.98" ry="2.31" fill="rgb(30,30,30)"/>
</g>
<g filter="url(#b03)">
<path d="M297.04,315.34 C296.45,316 295.44,317.91 293.47,319.34 C291.5,320.77 286.61,323.14 285.24,323.91" fill="none" stroke="rgb(199,199,199)" stroke-width="0.65" stroke-linecap="round"/>
<path d="M297.21,303.11 C296.38,303.16 294.27,302.89 292.2,303.42 C290.13,303.94 286.03,305.78 284.8,306.25" fill="none" stroke="rgb(50,50,50)" stroke-width="0.9" stroke-linecap="round"/>
<path d="M316.57,327.51 C316.09,329.14 314.22,334.78 313.73,337.33 C313.25,339.89 313.67,341.91 313.65,342.83" fill="none" stroke="rgb(173,173,173)" stroke-width="0.59" stroke-linecap="round"/>
<path d="M318.88,293.44 C319.95,293.74 322.67,295.15 325.3,295.24 C327.93,295.33 333.1,294.19 334.66,293.98" fill="none" stroke="rgb(52,52,52)" stroke-width="0.87" stroke-linecap="round"/>
<path d="M370.15,298.3 C370.28,298.8 370.05,301.03 370.96,301.28 C371.88,301.53 374.86,300.05 375.64,299.8" fill="none" stroke="rgb(191,191,191)" stroke-width="0.55" stroke-linecap="round"/>
<path d="M293.54,291.03 C294.19,291.96 296.76,295.16 297.46,296.57 C298.16,297.97 297.67,298.99 297.71,299.48" fill="none" stroke="rgb(40,40,40)" stroke-width="0.54" stroke-linecap="round"/>
<path d="M355.43,314.39 C354.72,315.45 352.55,319.3 351.18,320.76 C349.81,322.22 347.87,322.76 347.21,323.16" fill="none" stroke="rgb(166,166,166)" stroke-width="0.83" stroke-linecap="round"/>
<path d="M303.83,298.15 C303.96,299.65 304.71,304.47 304.64,307.14 C304.56,309.81 303.59,313.01 303.38,314.18" fill="none" stroke="rgb(51,51,51)" stroke-width="0.86" stroke-linecap="round"/>
<path d="M300.43,302.66 C301.02,303.67 303.16,306.36 304,308.71 C304.85,311.05 305.25,315.4 305.5,316.73" fill="none" stroke="rgb(169,169,169)" stroke-width="1.05" stroke-linecap="round"/>
<path d="M368.21,303.24 C367.75,303.52 366.41,304.59 365.43,304.93 C364.45,305.27 362.85,305.23 362.34,305.29" fill="none" stroke="rgb(68,68,68)" stroke-width="0.81" stroke-linecap="round"/>
<path d="M342.17,307.29 C342.39,308.37 342.24,311.39 343.5,313.73 C344.76,316.06 348.67,320.06 349.7,321.32" fill="none" stroke="rgb(177,177,177)" stroke-width="0.75" stroke-linecap="round"/>
<path d="M293.57,273.82 C294.22,274.26 295.82,275.37 297.45,276.47 C299.09,277.57 302.4,279.77 303.39,280.43" fill="none" stroke="rgb(43,43,43)" stroke-width="0.83" stroke-linecap="round"/>
<path d="M298.26,273.69 C297.18,274.84 293.6,279.07 291.8,280.6 C290,282.14 288.17,282.53 287.44,282.92" fill="none" stroke="rgb(187,187,187)" stroke-width="0.95" stroke-linecap="round"/>
<path d="M333.22,277.46 C332.76,277.9 331.3,278.51 330.47,280.13 C329.64,281.76 328.62,286.02 328.25,287.19" fill="none" stroke="rgb(59,59,59)" stroke-width="0.93" stroke-linecap="round"/>
<path d="M319.59,276.37 C318.84,276.28 316.56,275.6 315.09,275.82 C313.63,276.04 311.53,277.37 310.82,277.68" fill="none" stroke="rgb(167,167,167)" stroke-width="0.72" stroke-linecap="round"/>
<path d="M344.71,313.04 C344.88,313.58 344.57,315.8 345.71,316.26 C346.85,316.72 350.58,315.87 351.56,315.8" fill="none" stroke="rgb(49,49,49)" stroke-width="0.75" stroke-linecap="round"/>
<path d="M328.03,310.37 C327.14,311.06 324.62,312.73 322.71,314.52 C320.79,316.31 317.57,320.03 316.54,321.13" fill="none" stroke="rgb(200,200,200)" stroke-width="0.66" stroke-linecap="round"/>
<path d="M372.98,284.04 C372.73,284.71 372.27,286.93 371.5,288.09 C370.73,289.26 368.88,290.53 368.36,291.02" fill="none" stroke="rgb(42,42,42)" stroke-width="0.52" stroke-linecap="round"/>
<path d="M328.33,285.26 C328.22,285.83 328.69,288.35 327.68,288.67 C326.67,288.98 323.19,287.41 322.3,287.16" fill="none" stroke="rgb(206,206,206)" stroke-width="1.08" stroke-linecap="round"/>
<path d="M310.15,313.87 C308.68,313.53 304.11,311.7 301.32,311.82 C298.52,311.94 294.72,314.14 293.4,314.6" fill="none" stroke="rgb(39,39,39)" stroke-width="0.71" stroke-linecap="round"/>
<path d="M317.01,327.23 C317.96,327.94 320.55,330.65 322.73,331.45 C324.9,332.25 328.84,331.94 330.06,332.04" fill="none" stroke="rgb(186,186,186)" stroke-width="0.65" stroke-linecap="round"/>
<path d="M323.13,281.96 C322.91,283.03 321.71,286.95 321.82,288.37 C321.93,289.8 323.45,290.16 323.78,290.52" fill="none" stroke="rgb(63,63,63)" stroke-width="0.71" stroke-linecap="round"/>
<path d="M319.79,280.6 C319.99,282.1 320.38,287.11 320.94,289.65 C321.5,292.18 322.78,294.77 323.15,295.8" fill="none" stroke="rgb(152,152,152)" stroke-width="0.76" stroke-linecap="round"/>
<path d="M370.05,326.2 C370.88,327.51 373.43,332.19 375.05,334.09 C376.66,335.99 378.96,337.01 379.74,337.6" fill="none" stroke="rgb(41,41,41)" stroke-width="0.8" stroke-linecap="round"/>
<path d="M309.62,333.93 C309.71,334.72 310.79,337.32 310.14,338.68 C309.48,340.03 306.45,341.49 305.71,342.05" fill="none" stroke="rgb(169,169,169)" stroke-width="0.52" stroke-linecap="round"/>
<path d="M297.05,334.21 C296.89,335.09 296.4,337.7 296.12,339.51 C295.84,341.32 295.49,344.14 295.36,345.06" fill="none" stroke="rgb(46,46,46)" stroke-width="1.01" stroke-linecap="round"/>
<path d="M357.06,285.99 C356.03,286.61 353.38,288.75 350.9,289.71 C348.41,290.67 343.61,291.4 342.15,291.74" fill="none" stroke="rgb(207,207,207)" stroke-width="0.87" stroke-linecap="round"/>
<path d="M355.77,313.91 C354.94,315.23 352.07,319.78 350.8,321.8 C349.52,323.81 348.57,325.3 348.12,326.01" fill="none" stroke="rgb(66,66,66)" stroke-width="0.97" stroke-linecap="round"/>
<path d="M306.38,331.07 C306.89,331.9 308.42,335.04 309.45,336.06 C310.47,337.09 312.03,337.03 312.55,337.22" fill="none" stroke="rgb(194,194,194)" stroke-width="0.95" stroke-linecap="round"/>
<path d="M357.78,307.8 C357.79,308.47 357.17,310.45 357.86,311.81 C358.56,313.17 361.26,315.29 361.94,315.98" fill="none" stroke="rgb(61,61,61)" stroke-width="0.56" stroke-linecap="round"/>
<path d="M348.45,275.4 C348.23,276.27 347.26,278.37 347.12,280.62 C346.98,282.88 347.51,287.56 347.59,288.94" fill="none" stroke="rgb(178,178,178)" stroke-width="0.68" stroke-linecap="round"/>
<path d="M322.98,327.9 C324.16,328.73 328.45,331.11 330.06,332.89 C331.66,334.68 332.19,337.65 332.61,338.61" fill="none" stroke="rgb(35,35,35)" stroke-width="1.01" stroke-linecap="round"/>
<path d="M361.87,316.38 C362.26,316.91 363.65,318.83 364.21,319.57 C364.77,320.32 365.05,320.63 365.22,320.84" fill="none" stroke="rgb(162,162,162)" stroke-width="0.71" stroke-linecap="round"/>
<path d="M309.33,298.43 C308.39,299.08 305.64,301.57 303.7,302.33 C301.76,303.09 298.71,302.88 297.71,302.99" fill="none" stroke="rgb(59,59,59)" stroke-width="0.86" stroke-linecap="round"/>
<path d="M310.07,304.08 C310.12,305.05 310.84,307.64 310.36,309.93 C309.87,312.22 307.69,316.52 307.16,317.84" fill="none" stroke="rgb(180,180,180)" stroke-width="0.57" stroke-linecap="round"/>
<path d="M351.39,322.64 C352.09,323 354.98,323.72 355.57,324.81 C356.15,325.91 355.02,328.47 354.91,329.21" fill="none" stroke="rgb(65,65,65)" stroke-width="0.74" stroke-linecap="round"/>
<path d="M348.06,294.39 C348.67,295.1 350.08,297.26 351.73,298.65 C353.38,300.03 356.91,302.04 357.95,302.72" fill="none" stroke="rgb(180,180,180)" stroke-width="0.62" stroke-linecap="round"/>
<path d="M340.26,294.22 C340.58,295.03 342.05,297.86 342.22,299.08 C342.39,300.3 341.43,301.13 341.27,301.54" fill="none" stroke="rgb(31,31,31)" stroke-width="0.84" stroke-linecap="round"/>
<path d="M304.73,331.9 C305.8,331.87 308.95,331.08 311.16,331.71 C313.37,332.35 316.84,335.03 317.98,335.69" fill="none" stroke="rgb(203,203,203)" stroke-width="1.09" stroke-linecap="round"/>
<path d="M306.35,308.4 C305.83,308.57 304.76,308.41 303.21,309.43 C301.65,310.46 298.05,313.7 297.01,314.55" fill="none" stroke="rgb(50,50,50)" stroke-width="0.8" stroke-linecap="round"/>
</g>
<rect x="298.2" y="272.3" width="74.8" height="63.2" filter="url(#noiseD)" opacity="0.45"/>
<rect x="298.2" y="272.3" width="74.8" height="63.2" filter="url(#noiseL)" opacity="0.4"/>
</g>
<line x1="270.4" y1="267.4" x2="291.6" y2="267.4" stroke="#ffffff" stroke-width="1.3"/>
<line x1="349.6" y1="267.4" x2="368.5" y2="267.4" stroke="#ffffff" stroke-width="1.3"/>
<line x1="272" y1="332.4" x2="293.8" y2="332.4" stroke="#ffffff" stroke-width="1.3"/>
<line x1="346.4" y1="332.4" x2="367.8" y2="332.4" stroke="#ffffff" stroke-width="1.3"/>
<text x="283.5" y="265.2" font-size="3.6" fill="#e8e8e8" font-weight="normal" text-anchor="middle" font-family="Liberation Sans, sans-serif" >300 μm</text>
<text x="360.6" y="265.8" font-size="4.4" fill="#e8e8e8" font-weight="normal" text-anchor="middle" font-family="Liberation Sans, sans-serif" >300 μm</text>
<text x="284" y="330.3" font-size="3.6" fill="#e8e8e8" font-weight="normal" text-anchor="middle" font-family="Liberation Sans, sans-serif" >300 μm</text>
<text x="358" y="330.3" font-size="3.6" fill="#e8e8e8" font-weight="normal" text-anchor="middle" font-family="Liberation Sans, sans-serif" >300 μm</text>
<text x="223.7" y="215.7" font-size="7.6" fill="#f5f200" font-weight="bold" text-anchor="start" font-family="Liberation Sans, sans-serif" stroke="#f5f200" stroke-width="0.25">0 BCP</text>
<text x="300.6" y="215.7" font-size="7.6" fill="#f5f200" font-weight="bold" text-anchor="start" font-family="Liberation Sans, sans-serif" stroke="#f5f200" stroke-width="0.25">10 BCP</text>
<text x="223.7" y="280" font-size="7.6" fill="#f5f200" font-weight="bold" text-anchor="start" font-family="Liberation Sans, sans-serif" stroke="#f5f200" stroke-width="0.25">20 BCP</text>
<text x="300.6" y="280" font-size="7.6" fill="#f5f200" font-weight="bold" text-anchor="start" font-family="Liberation Sans, sans-serif" stroke="#f5f200" stroke-width="0.25">40 BCP</text>
<text x="21.4" y="356.3" font-size="12.8" fill="#000" font-weight="bold" text-anchor="start" font-family="Liberation Sans, sans-serif" >E</text>
<line x1="63.4" y1="415.87" x2="188.2" y2="415.87" stroke="#e4e4e4" stroke-width="0.5"/>
<line x1="63.4" y1="405.84" x2="188.2" y2="405.84" stroke="#e4e4e4" stroke-width="0.5"/>
<line x1="63.4" y1="395.81" x2="188.2" y2="395.81" stroke="#e4e4e4" stroke-width="0.5"/>
<line x1="63.4" y1="385.78" x2="188.2" y2="385.78" stroke="#e4e4e4" stroke-width="0.5"/>
<line x1="63.4" y1="375.75" x2="188.2" y2="375.75" stroke="#e4e4e4" stroke-width="0.5"/>
<line x1="63.4" y1="365.72" x2="188.2" y2="365.72" stroke="#e4e4e4" stroke-width="0.5"/>
<line x1="63.4" y1="355.69" x2="188.2" y2="355.69" stroke="#e4e4e4" stroke-width="0.5"/>
<line x1="63.4" y1="425.9" x2="188.2" y2="425.9" stroke="#d9d9d9" stroke-width="0.6"/>
<text x="60.7" y="427.3" font-size="3.9" fill="#555" font-weight="bold" text-anchor="end" font-family="Liberation Sans, sans-serif" >0</text>
<text x="60.7" y="417.27" font-size="3.9" fill="#555" font-weight="bold" text-anchor="end" font-family="Liberation Sans, sans-serif" >10</text>
<text x="60.7" y="407.24" font-size="3.9" fill="#555" font-weight="bold" text-anchor="end" font-family="Liberation Sans, sans-serif" >20</text>
<text x="60.7" y="397.21" font-size="3.9" fill="#555" font-weight="bold" text-anchor="end" font-family="Liberation Sans, sans-serif" >30</text>
<text x="60.7" y="387.18" font-size="3.9" fill="#555" font-weight="bold" text-anchor="end" font-family="Liberation Sans, sans-serif" >40</text>
<text x="60.7" y="377.15" font-size="3.9" fill="#555" font-weight="bold" text-anchor="end" font-family="Liberation Sans, sans-serif" >50</text>
<text x="60.7" y="367.12" font-size="3.9" fill="#555" font-weight="bold" text-anchor="end" font-family="Liberation Sans, sans-serif" >60</text>
<text x="60.7" y="357.09" font-size="3.9" fill="#555" font-weight="bold" text-anchor="end" font-family="Liberation Sans, sans-serif" >70</text>
<rect x="63.75" y="422.89" width="17.13" height="3.01" fill="#0bb0be" />
<text x="72.31" y="420.59" font-size="4.2" fill="#404040" font-weight="bold" text-anchor="middle" font-family="Liberation Sans, sans-serif" >3</text>
<rect x="81.58" y="396.81" width="17.13" height="29.09" fill="#0bb0be" />
<text x="90.14" y="394.51" font-size="4.2" fill="#404040" font-weight="bold" text-anchor="middle" font-family="Liberation Sans, sans-serif" >29</text>
<rect x="99.41" y="365.72" width="17.13" height="60.18" fill="#0bb0be" />
<text x="107.97" y="363.42" font-size="4.2" fill="#404040" font-weight="bold" text-anchor="middle" font-family="Liberation Sans, sans-serif" >60</text>
<rect x="117.24" y="417.88" width="17.13" height="8.02" fill="#0bb0be" />
<text x="125.8" y="415.58" font-size="4.2" fill="#404040" font-weight="bold" text-anchor="middle" font-family="Liberation Sans, sans-serif" >8</text>
<text x="143.63" y="423.6" font-size="4.2" fill="#404040" font-weight="bold" text-anchor="middle" font-family="Liberation Sans, sans-serif" >0</text>
<text x="161.46" y="423.6" font-size="4.2" fill="#404040" font-weight="bold" text-anchor="middle" font-family="Liberation Sans, sans-serif" >0</text>
<text x="179.29" y="423.6" font-size="4.2" fill="#404040" font-weight="bold" text-anchor="middle" font-family="Liberation Sans, sans-serif" >0</text>
<text x="72.31" y="432.4" font-size="3.9" fill="#595959" font-weight="bold" text-anchor="middle" font-family="Liberation Sans, sans-serif" >0-50</text>
<text x="90.14" y="432.4" font-size="3.9" fill="#595959" font-weight="bold" text-anchor="middle" font-family="Liberation Sans, sans-serif" >50-100</text>
<text x="107.97" y="432.4" font-size="3.9" fill="#595959" font-weight="bold" text-anchor="middle" font-family="Liberation Sans, sans-serif" >100-150</text>
<text x="125.8" y="432.4" font-size="3.9" fill="#595959" font-weight="bold" text-anchor="middle" font-family="Liberation Sans, sans-serif" >150-200</text>
<text x="143.63" y="432.4" font-size="3.9" fill="#595959" font-weight="bold" text-anchor="middle" font-family="Liberation Sans, sans-serif" >200-250</text>
<text x="161.46" y="432.4" font-size="3.9" fill="#595959" font-weight="bold" text-anchor="middle" font-family="Liberation Sans, sans-serif" >250-300</text>
<text x="179.29" y="432.4" font-size="3.9" fill="#595959" font-weight="bold" text-anchor="middle" font-family="Liberation Sans, sans-serif" >&gt;300</text>
<text x="117.5" y="350.5" font-size="7.2" fill="#555" font-weight="bold" text-anchor="middle" font-family="Liberation Sans, sans-serif" textLength="26.2" lengthAdjust="spacingAndGlyphs" >0% BCP</text>
<text x="54.2" y="391" font-size="6.4" fill="#595959" font-weight="bold" text-anchor="middle" font-family="Liberation Sans, sans-serif" textLength="68" lengthAdjust="spacingAndGlyphs" transform="rotate(-90 54.2 391)" >The number of pore (%)</text>
<text x="124.75" y="440.3" font-size="6.6" fill="#595959" font-weight="bold" text-anchor="middle" font-family="Liberation Sans, sans-serif" textLength="24.9" lengthAdjust="spacingAndGlyphs" >Size (μm)</text>
<line x1="218" y1="414.1" x2="342.7" y2="414.1" stroke="#e4e4e4" stroke-width="0.5"/>
<line x1="218" y1="402.3" x2="342.7" y2="402.3" stroke="#e4e4e4" stroke-width="0.5"/>
<line x1="218" y1="390.5" x2="342.7" y2="390.5" stroke="#e4e4e4" stroke-width="0.5"/>
<line x1="218" y1="378.7" x2="342.7" y2="378.7" stroke="#e4e4e4" stroke-width="0.5"/>
<line x1="218" y1="366.9" x2="342.7" y2="366.9" stroke="#e4e4e4" stroke-width="0.5"/>
<line x1="218" y1="355.1" x2="342.7" y2="355.1" stroke="#e4e4e4" stroke-width="0.5"/>
<line x1="218" y1="425.9" x2="342.7" y2="425.9" stroke="#d9d9d9" stroke-width="0.6"/>
<text x="214.6" y="427.3" font-size="3.9" fill="#555" font-weight="bold" text-anchor="end" font-family="Liberation Sans, sans-serif" >0</text>
<text x="214.6" y="415.5" font-size="3.9" fill="#555" font-weight="bold" text-anchor="end" font-family="Liberation Sans, sans-serif" >5</text>
<text x="214.6" y="403.7" font-size="3.9" fill="#555" font-weight="bold" text-anchor="end" font-family="Liberation Sans, sans-serif" >10</text>
<text x="214.6" y="391.9" font-size="3.9" fill="#555" font-weight="bold" text-anchor="end" font-family="Liberation Sans, sans-serif" >15</text>
<text x="214.6" y="380.1" font-size="3.9" fill="#555" font-weight="bold" text-anchor="end" font-family="Liberation Sans, sans-serif" >20</text>
<text x="214.6" y="368.3" font-size="3.9" fill="#555" font-weight="bold" text-anchor="end" font-family="Liberation Sans, sans-serif" >25</text>
<text x="214.6" y="356.5" font-size="3.9" fill="#555" font-weight="bold" text-anchor="end" font-family="Liberation Sans, sans-serif" >30</text>
<text x="226.91" y="423.6" font-size="4.2" fill="#404040" font-weight="bold" text-anchor="middle" font-family="Liberation Sans, sans-serif" >0</text>
<rect x="236.16" y="399.94" width="17.11" height="25.96" fill="#0bb0be" />
<text x="244.72" y="397.64" font-size="4.2" fill="#404040" font-weight="bold" text-anchor="middle" font-family="Liberation Sans, sans-serif" >11</text>
<rect x="253.98" y="378.7" width="17.11" height="47.2" fill="#0bb0be" />
<text x="262.54" y="376.4" font-size="4.2" fill="#404040" font-weight="bold" text-anchor="middle" font-family="Liberation Sans, sans-serif" >20</text>
<rect x="271.79" y="359.82" width="17.11" height="66.08" fill="#0bb0be" />
<text x="280.35" y="357.52" font-size="4.2" fill="#404040" font-weight="bold" text-anchor="middle" font-family="Liberation Sans, sans-serif" >28</text>
<rect x="289.61" y="369.26" width="17.11" height="56.64" fill="#0bb0be" />
<text x="298.16" y="366.96" font-size="4.2" fill="#404040" font-weight="bold" text-anchor="middle" font-family="Liberation Sans, sans-serif" >24</text>
<rect x="307.42" y="397.58" width="17.11" height="28.32" fill="#0bb0be" />
<text x="315.98" y="395.28" font-size="4.2" fill="#404040" font-weight="bold" text-anchor="middle" font-family="Liberation Sans, sans-serif" >12</text>
<rect x="325.24" y="414.1" width="17.11" height="11.8" fill="#0bb0be" />
<text x="333.79" y="411.8" font-size="4.2" fill="#404040" font-weight="bold" text-anchor="middle" font-family="Liberation Sans, sans-serif" >5</text>
<text x="226.91" y="432.7" font-size="3.9" fill="#595959" font-weight="bold" text-anchor="middle" font-family="Liberation Sans, sans-serif" >0-50</text>
<text x="244.72" y="432.7" font-size="3.9" fill="#595959" font-weight="bold" text-anchor="middle" font-family="Liberation Sans, sans-serif" >50-100</text>
<text x="262.54" y="432.7" font-size="3.9" fill="#595959" font-weight="bold" text-anchor="middle" font-family="Liberation Sans, sans-serif" >100-150</text>
<text x="280.35" y="432.7" font-size="3.9" fill="#595959" font-weight="bold" text-anchor="middle" font-family="Liberation Sans, sans-serif" >150-200</text>
<text x="298.16" y="432.7" font-size="3.9" fill="#595959" font-weight="bold" text-anchor="middle" font-family="Liberation Sans, sans-serif" >200-250</text>
<text x="315.98" y="432.7" font-size="3.9" fill="#595959" font-weight="bold" text-anchor="middle" font-family="Liberation Sans, sans-serif" >250-300</text>
<text x="333.79" y="432.7" font-size="3.9" fill="#595959" font-weight="bold" text-anchor="middle" font-family="Liberation Sans, sans-serif" >&gt;300</text>
<text x="271.95" y="350.1" font-size="7.2" fill="#555" font-weight="bold" text-anchor="middle" font-family="Liberation Sans, sans-serif" textLength="29.3" lengthAdjust="spacingAndGlyphs" >10% BCP</text>
<text x="208.6" y="390.6" font-size="6.4" fill="#595959" font-weight="bold" text-anchor="middle" font-family="Liberation Sans, sans-serif" textLength="67.3" lengthAdjust="spacingAndGlyphs" transform="rotate(-90 208.6 390.6)" >The number of pore (%)</text>
<text x="280.6" y="440.3" font-size="6.6" fill="#595959" font-weight="bold" text-anchor="middle" font-family="Liberation Sans, sans-serif" textLength="27.2" lengthAdjust="spacingAndGlyphs" >Size (μm)</text>
<line x1="59.7" y1="513.9" x2="184.3" y2="513.9" stroke="#e4e4e4" stroke-width="0.5"/>
<line x1="59.7" y1="503" x2="184.3" y2="503" stroke="#e4e4e4" stroke-width="0.5"/>
<line x1="59.7" y1="492.1" x2="184.3" y2="492.1" stroke="#e4e4e4" stroke-width="0.5"/>
<line x1="59.7" y1="481.2" x2="184.3" y2="481.2" stroke="#e4e4e4" stroke-width="0.5"/>
<line x1="59.7" y1="470.3" x2="184.3" y2="470.3" stroke="#e4e4e4" stroke-width="0.5"/>
<line x1="59.7" y1="459.4" x2="184.3" y2="459.4" stroke="#e4e4e4" stroke-width="0.5"/>
<line x1="59.7" y1="524.8" x2="184.3" y2="524.8" stroke="#d9d9d9" stroke-width="0.6"/>
<text x="56.3" y="526.2" font-size="3.9" fill="#555" font-weight="bold" text-anchor="end" font-family="Liberation Sans, sans-serif" >0</text>
<text x="56.3" y="515.3" font-size="3.9" fill="#555" font-weight="bold" text-anchor="end" font-family="Liberation Sans, sans-serif" >10</text>
<text x="56.3" y="504.4" font-size="3.9" fill="#555" font-weight="bold" text-anchor="end" font-family="Liberation Sans, sans-serif" >20</text>
<text x="56.3" y="493.5" font-size="3.9" fill="#555" font-weight="bold" text-anchor="end" font-family="Liberation Sans, sans-serif" >30</text>
<text x="56.3" y="482.6" font-size="3.9" fill="#555" font-weight="bold" text-anchor="end" font-family="Liberation Sans, sans-serif" >40</text>
<text x="56.3" y="471.7" font-size="3.9" fill="#555" font-weight="bold" text-anchor="end" font-family="Liberation Sans, sans-serif" >50</text>
<text x="56.3" y="460.8" font-size="3.9" fill="#555" font-weight="bold" text-anchor="end" font-family="Liberation Sans, sans-serif" >60</text>
<text x="68.6" y="522.5" font-size="4.2" fill="#404040" font-weight="bold" text-anchor="middle" font-family="Liberation Sans, sans-serif" >0</text>
<rect x="77.85" y="520.44" width="17.1" height="4.36" fill="#0bb0be" />
<text x="86.4" y="518.14" font-size="4.2" fill="#404040" font-weight="bold" text-anchor="middle" font-family="Liberation Sans, sans-serif" >4</text>
<rect x="95.65" y="498.64" width="17.1" height="26.16" fill="#0bb0be" />
<text x="104.2" y="496.34" font-size="4.2" fill="#404040" font-weight="bold" text-anchor="middle" font-family="Liberation Sans, sans-serif" >24</text>
<rect x="113.45" y="471.39" width="17.1" height="53.41" fill="#0bb0be" />
<text x="122" y="469.09" font-size="4.2" fill="#404040" font-weight="bold" text-anchor="middle" font-family="Liberation Sans, sans-serif" >49</text>
<rect x="131.25" y="499.73" width="17.1" height="25.07" fill="#0bb0be" />
<text x="139.8" y="497.43" font-size="4.2" fill="#404040" font-weight="bold" text-anchor="middle" font-family="Liberation Sans, sans-serif" >23</text>
<text x="157.6" y="522.5" font-size="4.2" fill="#404040" font-weight="bold" text-anchor="middle" font-family="Liberation Sans, sans-serif" >0</text>
<text x="175.4" y="522.5" font-size="4.2" fill="#404040" font-weight="bold" text-anchor="middle" font-family="Liberation Sans, sans-serif" >0</text>
<text x="68.6" y="531.4" font-size="3.9" fill="#595959" font-weight="bold" text-anchor="middle" font-family="Liberation Sans, sans-serif" >0-50</text>
<text x="86.4" y="531.4" font-size="3.9" fill="#595959" font-weight="bold" text-anchor="middle" font-family="Liberation Sans, sans-serif" >50-100</text>
<text x="104.2" y="531.4" font-size="3.9" fill="#595959" font-weight="bold" text-anchor="middle" font-family="Liberation Sans, sans-serif" >100-150</text>
<text x="122" y="531.4" font-size="3.9" fill="#595959" font-weight="bold" text-anchor="middle" font-family="Liberation Sans, sans-serif" >150-200</text>
<text x="139.8" y="531.4" font-size="3.9" fill="#595959" font-weight="bold" text-anchor="middle" font-family="Liberation Sans, sans-serif" >200-250</text>
<text x="157.6" y="531.4" font-size="3.9" fill="#595959" font-weight="bold" text-anchor="middle" font-family="Liberation Sans, sans-serif" >250-300</text>
<text x="175.4" y="531.4" font-size="3.9" fill="#595959" font-weight="bold" text-anchor="middle" font-family="Liberation Sans, sans-serif" >&gt;300</text>
<text x="112.3" y="452.6" font-size="7.2" fill="#555" font-weight="bold" text-anchor="middle" font-family="Liberation Sans, sans-serif" textLength="29.2" lengthAdjust="spacingAndGlyphs" >20% BCP</text>
<text x="50.3" y="494.7" font-size="6.4" fill="#595959" font-weight="bold" text-anchor="middle" font-family="Liberation Sans, sans-serif" textLength="68" lengthAdjust="spacingAndGlyphs" transform="rotate(-90 50.3 494.7)" >The number of pore (%)</text>
<text x="122.3" y="539.6" font-size="6.6" fill="#595959" font-weight="bold" text-anchor="middle" font-family="Liberation Sans, sans-serif" textLength="27" lengthAdjust="spacingAndGlyphs" >Size (μm)</text>
<line x1="217" y1="518.83" x2="342.2" y2="518.83" stroke="#e4e4e4" stroke-width="0.5"/>
<line x1="217" y1="511.76" x2="342.2" y2="511.76" stroke="#e4e4e4" stroke-width="0.5"/>
<line x1="217" y1="504.69" x2="342.2" y2="504.69" stroke="#e4e4e4" stroke-width="0.5"/>
<line x1="217" y1="497.62" x2="342.2" y2="497.62" stroke="#e4e4e4" stroke-width="0.5"/>
<line x1="217" y1="490.55" x2="342.2" y2="490.55" stroke="#e4e4e4" stroke-width="0.5"/>
<line x1="217" y1="483.48" x2="342.2" y2="483.48" stroke="#e4e4e4" stroke-width="0.5"/>
<line x1="217" y1="476.41" x2="342.2" y2="476.41" stroke="#e4e4e4" stroke-width="0.5"/>
<line x1="217" y1="469.34" x2="342.2" y2="469.34" stroke="#e4e4e4" stroke-width="0.5"/>
<line x1="217" y1="462.27" x2="342.2" y2="462.27" stroke="#e4e4e4" stroke-width="0.5"/>
<line x1="217" y1="455.2" x2="342.2" y2="455.2" stroke="#e4e4e4" stroke-width="0.5"/>
<line x1="217" y1="525.9" x2="342.2" y2="525.9" stroke="#d9d9d9" stroke-width="0.6"/>
<text x="214.1" y="527.3" font-size="3.9" fill="#555" font-weight="bold" text-anchor="end" font-family="Liberation Sans, sans-serif" >0</text>
<text x="214.1" y="520.23" font-size="3.9" fill="#555" font-weight="bold" text-anchor="end" font-family="Liberation Sans, sans-serif" >5</text>
<text x="214.1" y="513.16" font-size="3.9" fill="#555" font-weight="bold" text-anchor="end" font-family="Liberation Sans, sans-serif" >10</text>
<text x="214.1" y="506.09" font-size="3.9" fill="#555" font-weight="bold" text-anchor="end" font-family="Liberation Sans, sans-serif" >15</text>
<text x="214.1" y="499.02" font-size="3.9" fill="#555" font-weight="bold" text-anchor="end" font-family="Liberation Sans, sans-serif" >20</text>
<text x="214.1" y="491.95" font-size="3.9" fill="#555" font-weight="bold" text-anchor="end" font-family="Liberation Sans, sans-serif" >25</text>
<text x="214.1" y="484.88" font-size="3.9" fill="#555" font-weight="bold" text-anchor="end" font-family="Liberation Sans, sans-serif" >30</text>
<text x="214.1" y="477.81" font-size="3.9" fill="#555" font-weight="bold" text-anchor="end" font-family="Liberation Sans, sans-serif" >35</text>
<text x="214.1" y="470.74" font-size="3.9" fill="#555" font-weight="bold" text-anchor="end" font-family="Liberation Sans, sans-serif" >40</text>
<text x="214.1" y="463.67" font-size="3.9" fill="#555" font-weight="bold" text-anchor="end" font-family="Liberation Sans, sans-serif" >45</text>
<text x="214.1" y="456.6" font-size="3.9" fill="#555" font-weight="bold" text-anchor="end" font-family="Liberation Sans, sans-serif" >50</text>
<rect x="217.35" y="472.17" width="17.19" height="53.73" fill="#0bb0be" />
<text x="225.94" y="469.87" font-size="4.2" fill="#404040" font-weight="bold" text-anchor="middle" font-family="Liberation Sans, sans-serif" >38</text>
<rect x="235.24" y="462.27" width="17.19" height="63.63" fill="#0bb0be" />
<text x="243.83" y="459.97" font-size="4.2" fill="#404040" font-weight="bold" text-anchor="middle" font-family="Liberation Sans, sans-serif" >45</text>
<rect x="253.12" y="501.86" width="17.19" height="24.04" fill="#0bb0be" />
<text x="261.71" y="499.56" font-size="4.2" fill="#404040" font-weight="bold" text-anchor="middle" font-family="Liberation Sans, sans-serif" >17</text>
<text x="279.6" y="523.6" font-size="4.2" fill="#404040" font-weight="bold" text-anchor="middle" font-family="Liberation Sans, sans-serif" >0</text>
<text x="297.49" y="523.6" font-size="4.2" fill="#404040" font-weight="bold" text-anchor="middle" font-family="Liberation Sans, sans-serif" >0</text>
<text x="315.37" y="523.6" font-size="4.2" fill="#404040" font-weight="bold" text-anchor="middle" font-family="Liberation Sans, sans-serif" >0</text>
<text x="333.26" y="523.6" font-size="4.2" fill="#404040" font-weight="bold" text-anchor="middle" font-family="Liberation Sans, sans-serif" >0</text>
<text x="225.94" y="532.6" font-size="3.9" fill="#595959" font-weight="bold" text-anchor="middle" font-family="Liberation Sans, sans-serif" >0-50</text>
<text x="243.83" y="532.6" font-size="3.9" fill="#595959" font-weight="bold" text-anchor="middle" font-family="Liberation Sans, sans-serif" >50-100</text>
<text x="261.71" y="532.6" font-size="3.9" fill="#595959" font-weight="bold" text-anchor="middle" font-family="Liberation Sans, sans-serif" >100-150</text>
<text x="279.6" y="532.6" font-size="3.9" fill="#595959" font-weight="bold" text-anchor="middle" font-family="Liberation Sans, sans-serif" >150-200</text>
<text x="297.49" y="532.6" font-size="3.9" fill="#595959" font-weight="bold" text-anchor="middle" font-family="Liberation Sans, sans-serif" >200-250</text>
<text x="315.37" y="532.6" font-size="3.9" fill="#595959" font-weight="bold" text-anchor="middle" font-family="Liberation Sans, sans-serif" >250-300</text>
<text x="333.26" y="532.6" font-size="3.9" fill="#595959" font-weight="bold" text-anchor="middle" font-family="Liberation Sans, sans-serif" >&gt;300</text>
<text x="271" y="450.3" font-size="7.2" fill="#555" font-weight="bold" text-anchor="middle" font-family="Liberation Sans, sans-serif" textLength="29" lengthAdjust="spacingAndGlyphs" >40% BCP</text>
<text x="207.5" y="491" font-size="6.4" fill="#595959" font-weight="bold" text-anchor="middle" font-family="Liberation Sans, sans-serif" textLength="68" lengthAdjust="spacingAndGlyphs" transform="rotate(-90 207.5 491)" >The number of pore (%)</text>
<text x="286.6" y="543.3" font-size="6.6" fill="#595959" font-weight="bold" text-anchor="middle" font-family="Liberation Sans, sans-serif" textLength="26.8" lengthAdjust="spacingAndGlyphs" >Size (μm)</text>
</svg>
</body></html>
